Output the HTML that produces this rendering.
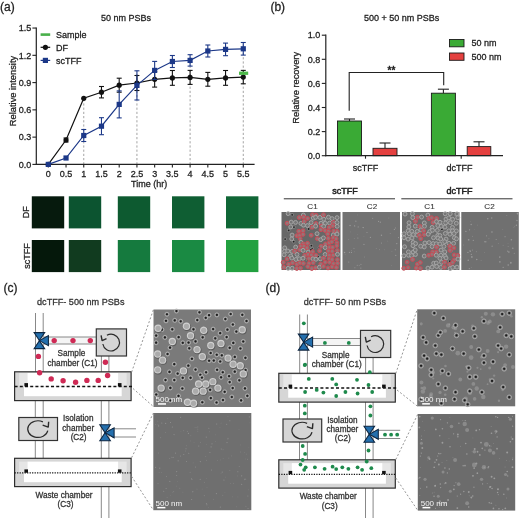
<!DOCTYPE html>
<html><head><meta charset="utf-8"><style>
html,body{margin:0;padding:0;background:#fff;}
svg{display:block;}
</style></head><body>
<svg width="520" height="518" viewBox="0 0 520 518" font-family="'Liberation Sans', Arial, sans-serif">
<rect x="0" y="0" width="520" height="518" fill="#ffffff"/>
<text x="0.00" y="10.70" font-size="12" text-anchor="start" fill="#222" stroke="#222" stroke-width="0.28" >(a)</text>
<text x="126.00" y="21.30" font-size="9" text-anchor="middle" fill="#222" stroke="#222" stroke-width="0.28" >50 nm PSBs</text>
<line x1="83.75" y1="164.40" x2="83.75" y2="98.30" stroke="#9a9a9a" stroke-width="0.9" stroke-dasharray="2.2,2"/>
<line x1="136.93" y1="164.40" x2="136.93" y2="72.00" stroke="#9a9a9a" stroke-width="0.9" stroke-dasharray="2.2,2"/>
<line x1="190.10" y1="164.40" x2="190.10" y2="56.00" stroke="#9a9a9a" stroke-width="0.9" stroke-dasharray="2.2,2"/>
<line x1="243.28" y1="164.40" x2="243.28" y2="43.00" stroke="#9a9a9a" stroke-width="0.9" stroke-dasharray="2.2,2"/>
<line x1="36.30" y1="27.50" x2="36.30" y2="164.90" stroke="#222" stroke-width="1.2" />
<line x1="35.70" y1="164.40" x2="254.60" y2="164.40" stroke="#222" stroke-width="1.2" />
<line x1="32.40" y1="164.40" x2="36.30" y2="164.40" stroke="#222" stroke-width="1.1" />
<text x="31.20" y="167.60" font-size="9" text-anchor="end" fill="#222" stroke="#222" stroke-width="0.28" >0.0</text>
<line x1="32.40" y1="137.13" x2="36.30" y2="137.13" stroke="#222" stroke-width="1.1" />
<text x="31.20" y="140.33" font-size="9" text-anchor="end" fill="#222" stroke="#222" stroke-width="0.28" >0.3</text>
<line x1="32.40" y1="109.86" x2="36.30" y2="109.86" stroke="#222" stroke-width="1.1" />
<text x="31.20" y="113.06" font-size="9" text-anchor="end" fill="#222" stroke="#222" stroke-width="0.28" >0.6</text>
<line x1="32.40" y1="82.59" x2="36.30" y2="82.59" stroke="#222" stroke-width="1.1" />
<text x="31.20" y="85.79" font-size="9" text-anchor="end" fill="#222" stroke="#222" stroke-width="0.28" >0.9</text>
<line x1="32.40" y1="55.32" x2="36.30" y2="55.32" stroke="#222" stroke-width="1.1" />
<text x="31.20" y="58.52" font-size="9" text-anchor="end" fill="#222" stroke="#222" stroke-width="0.28" >1.2</text>
<line x1="32.40" y1="28.05" x2="36.30" y2="28.05" stroke="#222" stroke-width="1.1" />
<text x="31.20" y="31.25" font-size="9" text-anchor="end" fill="#222" stroke="#222" stroke-width="0.28" >1.5</text>
<line x1="48.30" y1="164.40" x2="48.30" y2="167.60" stroke="#222" stroke-width="1.1" />
<text x="48.30" y="176.70" font-size="9" text-anchor="middle" fill="#222" stroke="#222" stroke-width="0.28" >0</text>
<line x1="66.03" y1="164.40" x2="66.03" y2="167.60" stroke="#222" stroke-width="1.1" />
<text x="66.03" y="176.70" font-size="9" text-anchor="middle" fill="#222" stroke="#222" stroke-width="0.28" >0.5</text>
<line x1="83.75" y1="164.40" x2="83.75" y2="167.60" stroke="#222" stroke-width="1.1" />
<text x="83.75" y="176.70" font-size="9" text-anchor="middle" fill="#222" stroke="#222" stroke-width="0.28" >1</text>
<line x1="101.47" y1="164.40" x2="101.47" y2="167.60" stroke="#222" stroke-width="1.1" />
<text x="101.47" y="176.70" font-size="9" text-anchor="middle" fill="#222" stroke="#222" stroke-width="0.28" >1.5</text>
<line x1="119.20" y1="164.40" x2="119.20" y2="167.60" stroke="#222" stroke-width="1.1" />
<text x="119.20" y="176.70" font-size="9" text-anchor="middle" fill="#222" stroke="#222" stroke-width="0.28" >2</text>
<line x1="136.93" y1="164.40" x2="136.93" y2="167.60" stroke="#222" stroke-width="1.1" />
<text x="136.93" y="176.70" font-size="9" text-anchor="middle" fill="#222" stroke="#222" stroke-width="0.28" >2.5</text>
<line x1="154.65" y1="164.40" x2="154.65" y2="167.60" stroke="#222" stroke-width="1.1" />
<text x="154.65" y="176.70" font-size="9" text-anchor="middle" fill="#222" stroke="#222" stroke-width="0.28" >3</text>
<line x1="172.38" y1="164.40" x2="172.38" y2="167.60" stroke="#222" stroke-width="1.1" />
<text x="172.38" y="176.70" font-size="9" text-anchor="middle" fill="#222" stroke="#222" stroke-width="0.28" >3.5</text>
<line x1="190.10" y1="164.40" x2="190.10" y2="167.60" stroke="#222" stroke-width="1.1" />
<text x="190.10" y="176.70" font-size="9" text-anchor="middle" fill="#222" stroke="#222" stroke-width="0.28" >4</text>
<line x1="207.82" y1="164.40" x2="207.82" y2="167.60" stroke="#222" stroke-width="1.1" />
<text x="207.82" y="176.70" font-size="9" text-anchor="middle" fill="#222" stroke="#222" stroke-width="0.28" >4.5</text>
<line x1="225.55" y1="164.40" x2="225.55" y2="167.60" stroke="#222" stroke-width="1.1" />
<text x="225.55" y="176.70" font-size="9" text-anchor="middle" fill="#222" stroke="#222" stroke-width="0.28" >5</text>
<line x1="243.28" y1="164.40" x2="243.28" y2="167.60" stroke="#222" stroke-width="1.1" />
<text x="243.28" y="176.70" font-size="9" text-anchor="middle" fill="#222" stroke="#222" stroke-width="0.28" >5.5</text>
<text x="149.20" y="186.90" font-size="9" text-anchor="middle" fill="#222" stroke="#222" stroke-width="0.28" >Time (hr)</text>
<text x="16.20" y="91.00" font-size="9.3" text-anchor="middle" fill="#222" stroke="#222" stroke-width="0.28" transform="rotate(-90 16.2 91)">Relative intensity</text>
<polyline points="48.30,164.40 66.03,140.00 83.75,98.30 101.47,92.20 119.20,85.20 136.93,83.00 154.65,79.30 172.38,77.90 190.10,77.40 207.82,79.30 225.55,77.90 243.28,77.10" fill="none" stroke="#111" stroke-width="1.2"/>
<line x1="66.03" y1="138.00" x2="66.03" y2="142.00" stroke="#111" stroke-width="1.1" />
<line x1="63.53" y1="138.00" x2="68.53" y2="138.00" stroke="#111" stroke-width="1.1" />
<line x1="63.53" y1="142.00" x2="68.53" y2="142.00" stroke="#111" stroke-width="1.1" />
<line x1="101.47" y1="86.50" x2="101.47" y2="97.90" stroke="#111" stroke-width="1.1" />
<line x1="98.97" y1="86.50" x2="103.97" y2="86.50" stroke="#111" stroke-width="1.1" />
<line x1="98.97" y1="97.90" x2="103.97" y2="97.90" stroke="#111" stroke-width="1.1" />
<line x1="119.20" y1="78.20" x2="119.20" y2="92.20" stroke="#111" stroke-width="1.1" />
<line x1="116.70" y1="78.20" x2="121.70" y2="78.20" stroke="#111" stroke-width="1.1" />
<line x1="116.70" y1="92.20" x2="121.70" y2="92.20" stroke="#111" stroke-width="1.1" />
<line x1="136.93" y1="75.50" x2="136.93" y2="90.50" stroke="#111" stroke-width="1.1" />
<line x1="134.43" y1="75.50" x2="139.43" y2="75.50" stroke="#111" stroke-width="1.1" />
<line x1="134.43" y1="90.50" x2="139.43" y2="90.50" stroke="#111" stroke-width="1.1" />
<line x1="154.65" y1="71.50" x2="154.65" y2="87.10" stroke="#111" stroke-width="1.1" />
<line x1="152.15" y1="71.50" x2="157.15" y2="71.50" stroke="#111" stroke-width="1.1" />
<line x1="152.15" y1="87.10" x2="157.15" y2="87.10" stroke="#111" stroke-width="1.1" />
<line x1="172.38" y1="70.50" x2="172.38" y2="85.30" stroke="#111" stroke-width="1.1" />
<line x1="169.88" y1="70.50" x2="174.88" y2="70.50" stroke="#111" stroke-width="1.1" />
<line x1="169.88" y1="85.30" x2="174.88" y2="85.30" stroke="#111" stroke-width="1.1" />
<line x1="190.10" y1="70.40" x2="190.10" y2="84.40" stroke="#111" stroke-width="1.1" />
<line x1="187.60" y1="70.40" x2="192.60" y2="70.40" stroke="#111" stroke-width="1.1" />
<line x1="187.60" y1="84.40" x2="192.60" y2="84.40" stroke="#111" stroke-width="1.1" />
<line x1="207.82" y1="72.40" x2="207.82" y2="86.20" stroke="#111" stroke-width="1.1" />
<line x1="205.32" y1="72.40" x2="210.32" y2="72.40" stroke="#111" stroke-width="1.1" />
<line x1="205.32" y1="86.20" x2="210.32" y2="86.20" stroke="#111" stroke-width="1.1" />
<line x1="225.55" y1="70.50" x2="225.55" y2="85.30" stroke="#111" stroke-width="1.1" />
<line x1="223.05" y1="70.50" x2="228.05" y2="70.50" stroke="#111" stroke-width="1.1" />
<line x1="223.05" y1="85.30" x2="228.05" y2="85.30" stroke="#111" stroke-width="1.1" />
<line x1="243.28" y1="70.40" x2="243.28" y2="83.80" stroke="#111" stroke-width="1.1" />
<line x1="240.78" y1="70.40" x2="245.78" y2="70.40" stroke="#111" stroke-width="1.1" />
<line x1="240.78" y1="83.80" x2="245.78" y2="83.80" stroke="#111" stroke-width="1.1" />
<circle cx="48.30" cy="164.40" r="2.60" fill="#111" stroke="none" stroke-width="1" />
<circle cx="66.03" cy="140.00" r="2.60" fill="#111" stroke="none" stroke-width="1" />
<circle cx="83.75" cy="98.30" r="2.60" fill="#111" stroke="none" stroke-width="1" />
<circle cx="101.47" cy="92.20" r="2.60" fill="#111" stroke="none" stroke-width="1" />
<circle cx="119.20" cy="85.20" r="2.60" fill="#111" stroke="none" stroke-width="1" />
<circle cx="136.93" cy="83.00" r="2.60" fill="#111" stroke="none" stroke-width="1" />
<circle cx="154.65" cy="79.30" r="2.60" fill="#111" stroke="none" stroke-width="1" />
<circle cx="172.38" cy="77.90" r="2.60" fill="#111" stroke="none" stroke-width="1" />
<circle cx="190.10" cy="77.40" r="2.60" fill="#111" stroke="none" stroke-width="1" />
<circle cx="207.82" cy="79.30" r="2.60" fill="#111" stroke="none" stroke-width="1" />
<circle cx="225.55" cy="77.90" r="2.60" fill="#111" stroke="none" stroke-width="1" />
<circle cx="243.28" cy="77.10" r="2.60" fill="#111" stroke="none" stroke-width="1" />
<polyline points="48.30,164.40 66.03,158.00 83.75,135.50 101.47,126.20 119.20,104.40 136.93,85.40 154.65,70.40 172.38,61.50 190.10,60.40 207.82,51.00 225.55,49.40 243.28,48.80" fill="none" stroke="#1c3888" stroke-width="1.2"/>
<line x1="83.75" y1="129.50" x2="83.75" y2="141.50" stroke="#1c3888" stroke-width="1.1" />
<line x1="81.25" y1="129.50" x2="86.25" y2="129.50" stroke="#1c3888" stroke-width="1.1" />
<line x1="81.25" y1="141.50" x2="86.25" y2="141.50" stroke="#1c3888" stroke-width="1.1" />
<line x1="101.47" y1="117.70" x2="101.47" y2="134.70" stroke="#1c3888" stroke-width="1.1" />
<line x1="98.97" y1="117.70" x2="103.97" y2="117.70" stroke="#1c3888" stroke-width="1.1" />
<line x1="98.97" y1="134.70" x2="103.97" y2="134.70" stroke="#1c3888" stroke-width="1.1" />
<line x1="119.20" y1="90.90" x2="119.20" y2="117.90" stroke="#1c3888" stroke-width="1.1" />
<line x1="116.70" y1="90.90" x2="121.70" y2="90.90" stroke="#1c3888" stroke-width="1.1" />
<line x1="116.70" y1="117.90" x2="121.70" y2="117.90" stroke="#1c3888" stroke-width="1.1" />
<line x1="136.93" y1="70.80" x2="136.93" y2="100.00" stroke="#1c3888" stroke-width="1.1" />
<line x1="134.43" y1="70.80" x2="139.43" y2="70.80" stroke="#1c3888" stroke-width="1.1" />
<line x1="134.43" y1="100.00" x2="139.43" y2="100.00" stroke="#1c3888" stroke-width="1.1" />
<line x1="154.65" y1="61.40" x2="154.65" y2="79.40" stroke="#1c3888" stroke-width="1.1" />
<line x1="152.15" y1="61.40" x2="157.15" y2="61.40" stroke="#1c3888" stroke-width="1.1" />
<line x1="152.15" y1="79.40" x2="157.15" y2="79.40" stroke="#1c3888" stroke-width="1.1" />
<line x1="172.38" y1="55.50" x2="172.38" y2="67.50" stroke="#1c3888" stroke-width="1.1" />
<line x1="169.88" y1="55.50" x2="174.88" y2="55.50" stroke="#1c3888" stroke-width="1.1" />
<line x1="169.88" y1="67.50" x2="174.88" y2="67.50" stroke="#1c3888" stroke-width="1.1" />
<line x1="190.10" y1="54.70" x2="190.10" y2="66.10" stroke="#1c3888" stroke-width="1.1" />
<line x1="187.60" y1="54.70" x2="192.60" y2="54.70" stroke="#1c3888" stroke-width="1.1" />
<line x1="187.60" y1="66.10" x2="192.60" y2="66.10" stroke="#1c3888" stroke-width="1.1" />
<line x1="207.82" y1="45.00" x2="207.82" y2="57.00" stroke="#1c3888" stroke-width="1.1" />
<line x1="205.32" y1="45.00" x2="210.32" y2="45.00" stroke="#1c3888" stroke-width="1.1" />
<line x1="205.32" y1="57.00" x2="210.32" y2="57.00" stroke="#1c3888" stroke-width="1.1" />
<line x1="225.55" y1="43.10" x2="225.55" y2="55.70" stroke="#1c3888" stroke-width="1.1" />
<line x1="223.05" y1="43.10" x2="228.05" y2="43.10" stroke="#1c3888" stroke-width="1.1" />
<line x1="223.05" y1="55.70" x2="228.05" y2="55.70" stroke="#1c3888" stroke-width="1.1" />
<line x1="243.28" y1="42.50" x2="243.28" y2="55.10" stroke="#1c3888" stroke-width="1.1" />
<line x1="240.78" y1="42.50" x2="245.78" y2="42.50" stroke="#1c3888" stroke-width="1.1" />
<line x1="240.78" y1="55.10" x2="245.78" y2="55.10" stroke="#1c3888" stroke-width="1.1" />
<rect x="45.70" y="161.80" width="5.20" height="5.20" fill="#1c3888" stroke="none" stroke-width="1" />
<rect x="63.43" y="155.40" width="5.20" height="5.20" fill="#1c3888" stroke="none" stroke-width="1" />
<rect x="81.15" y="132.90" width="5.20" height="5.20" fill="#1c3888" stroke="none" stroke-width="1" />
<rect x="98.88" y="123.60" width="5.20" height="5.20" fill="#1c3888" stroke="none" stroke-width="1" />
<rect x="116.60" y="101.80" width="5.20" height="5.20" fill="#1c3888" stroke="none" stroke-width="1" />
<rect x="134.33" y="82.80" width="5.20" height="5.20" fill="#1c3888" stroke="none" stroke-width="1" />
<rect x="152.05" y="67.80" width="5.20" height="5.20" fill="#1c3888" stroke="none" stroke-width="1" />
<rect x="169.78" y="58.90" width="5.20" height="5.20" fill="#1c3888" stroke="none" stroke-width="1" />
<rect x="187.50" y="57.80" width="5.20" height="5.20" fill="#1c3888" stroke="none" stroke-width="1" />
<rect x="205.22" y="48.40" width="5.20" height="5.20" fill="#1c3888" stroke="none" stroke-width="1" />
<rect x="222.95" y="46.80" width="5.20" height="5.20" fill="#1c3888" stroke="none" stroke-width="1" />
<rect x="240.68" y="46.20" width="5.20" height="5.20" fill="#1c3888" stroke="none" stroke-width="1" />
<rect x="239.00" y="71.60" width="9.20" height="3.30" fill="#4cb84a" stroke="none" stroke-width="1" />
<rect x="40.60" y="33.30" width="9.60" height="2.60" fill="#49b04a" stroke="none" stroke-width="1" />
<text x="56.00" y="38.40" font-size="9" text-anchor="start" fill="#222" stroke="#222" stroke-width="0.28" >Sample</text>
<line x1="40.60" y1="47.30" x2="50.20" y2="47.30" stroke="#111" stroke-width="1.2" />
<circle cx="45.40" cy="47.30" r="2.60" fill="#111" stroke="none" stroke-width="1" />
<text x="56.00" y="50.60" font-size="9" text-anchor="start" fill="#222" stroke="#222" stroke-width="0.28" >DF</text>
<line x1="40.60" y1="60.40" x2="50.20" y2="60.40" stroke="#1c3888" stroke-width="1.2" />
<rect x="42.80" y="57.80" width="5.20" height="5.20" fill="#1c3888" stroke="none" stroke-width="1" />
<text x="56.00" y="63.70" font-size="9" text-anchor="start" fill="#222" stroke="#222" stroke-width="0.28" >scTFF</text>
<rect x="31.80" y="196.30" width="32.40" height="32.10" fill="#061a0d" stroke="none" stroke-width="1" />
<rect x="68.80" y="196.30" width="32.40" height="32.10" fill="#0c5430" stroke="none" stroke-width="1" />
<rect x="117.80" y="196.30" width="32.40" height="32.10" fill="#0d5a30" stroke="none" stroke-width="1" />
<rect x="172.00" y="196.30" width="32.40" height="32.10" fill="#0f5e33" stroke="none" stroke-width="1" />
<rect x="226.00" y="196.30" width="32.40" height="32.10" fill="#106636" stroke="none" stroke-width="1" />
<rect x="31.80" y="240.00" width="32.40" height="32.10" fill="#05180b" stroke="none" stroke-width="1" />
<rect x="68.80" y="240.00" width="32.40" height="32.10" fill="#113b1f" stroke="none" stroke-width="1" />
<rect x="117.80" y="240.00" width="32.40" height="32.10" fill="#157a3e" stroke="none" stroke-width="1" />
<rect x="172.00" y="240.00" width="32.40" height="32.10" fill="#1a8a43" stroke="none" stroke-width="1" />
<rect x="226.00" y="240.00" width="32.40" height="32.10" fill="#22a040" stroke="none" stroke-width="1" />
<text x="29.50" y="212.30" font-size="9" text-anchor="middle" fill="#222" stroke="#222" stroke-width="0.28" transform="rotate(-90 29.5 212.3)">DF</text>
<text x="29.50" y="256.00" font-size="9" text-anchor="middle" fill="#222" stroke="#222" stroke-width="0.28" transform="rotate(-90 29.5 256)">scTFF</text>
<text x="270.40" y="10.70" font-size="12" text-anchor="start" fill="#222" stroke="#222" stroke-width="0.28" >(b)</text>
<text x="401.60" y="20.50" font-size="9" text-anchor="middle" fill="#222" stroke="#222" stroke-width="0.28" >500 + 50 nm PSBs</text>
<line x1="349.50" y1="121.00" x2="349.50" y2="119.00" stroke="#222" stroke-width="1.1" />
<line x1="344.00" y1="119.00" x2="355.00" y2="119.00" stroke="#222" stroke-width="1.1" />
<rect x="337.50" y="121.00" width="24.00" height="34.70" fill="#3aaa35" stroke="#1a1a1a" stroke-width="0.9" />
<line x1="385.00" y1="148.30" x2="385.00" y2="143.00" stroke="#222" stroke-width="1.1" />
<line x1="379.50" y1="143.00" x2="390.50" y2="143.00" stroke="#222" stroke-width="1.1" />
<rect x="373.00" y="148.30" width="24.00" height="7.40" fill="#e4403f" stroke="#1a1a1a" stroke-width="0.9" />
<line x1="443.40" y1="93.20" x2="443.40" y2="89.20" stroke="#222" stroke-width="1.1" />
<line x1="437.90" y1="89.20" x2="448.90" y2="89.20" stroke="#222" stroke-width="1.1" />
<rect x="431.40" y="93.20" width="24.00" height="62.50" fill="#3aaa35" stroke="#1a1a1a" stroke-width="0.9" />
<line x1="479.00" y1="146.60" x2="479.00" y2="141.80" stroke="#222" stroke-width="1.1" />
<line x1="473.50" y1="141.80" x2="484.50" y2="141.80" stroke="#222" stroke-width="1.1" />
<rect x="467.20" y="146.60" width="23.60" height="9.10" fill="#e4403f" stroke="#1a1a1a" stroke-width="0.9" />
<line x1="325.80" y1="34.50" x2="325.80" y2="156.20" stroke="#222" stroke-width="1.2" />
<line x1="325.20" y1="155.70" x2="503.00" y2="155.70" stroke="#222" stroke-width="1.2" />
<line x1="321.80" y1="155.70" x2="325.80" y2="155.70" stroke="#222" stroke-width="1.1" />
<text x="320.30" y="158.90" font-size="9" text-anchor="end" fill="#222" stroke="#222" stroke-width="0.28" >0.0</text>
<line x1="321.80" y1="131.60" x2="325.80" y2="131.60" stroke="#222" stroke-width="1.1" />
<text x="320.30" y="134.80" font-size="9" text-anchor="end" fill="#222" stroke="#222" stroke-width="0.28" >0.2</text>
<line x1="321.80" y1="107.50" x2="325.80" y2="107.50" stroke="#222" stroke-width="1.1" />
<text x="320.30" y="110.70" font-size="9" text-anchor="end" fill="#222" stroke="#222" stroke-width="0.28" >0.4</text>
<line x1="321.80" y1="83.40" x2="325.80" y2="83.40" stroke="#222" stroke-width="1.1" />
<text x="320.30" y="86.60" font-size="9" text-anchor="end" fill="#222" stroke="#222" stroke-width="0.28" >0.6</text>
<line x1="321.80" y1="59.30" x2="325.80" y2="59.30" stroke="#222" stroke-width="1.1" />
<text x="320.30" y="62.50" font-size="9" text-anchor="end" fill="#222" stroke="#222" stroke-width="0.28" >0.8</text>
<line x1="321.80" y1="35.20" x2="325.80" y2="35.20" stroke="#222" stroke-width="1.1" />
<text x="320.30" y="38.40" font-size="9" text-anchor="end" fill="#222" stroke="#222" stroke-width="0.28" >1.0</text>
<line x1="365.50" y1="155.70" x2="365.50" y2="158.70" stroke="#222" stroke-width="1.1" />
<line x1="461.20" y1="155.70" x2="461.20" y2="158.70" stroke="#222" stroke-width="1.1" />
<text x="365.50" y="170.80" font-size="9" text-anchor="middle" fill="#222" stroke="#222" stroke-width="0.28" >scTFF</text>
<text x="459.50" y="170.80" font-size="9" text-anchor="middle" fill="#222" stroke="#222" stroke-width="0.28" >dcTFF</text>
<text x="299.30" y="87.80" font-size="9.3" text-anchor="middle" fill="#222" stroke="#222" stroke-width="0.28" transform="rotate(-90 299.3 87.8)">Relative recovery</text>
<polyline points="349.2,110.8 349.2,72.5 443.7,72.5 443.7,85.2" fill="none" stroke="#222" stroke-width="1.1"/>
<text x="391.40" y="73.50" font-size="10" text-anchor="middle" fill="#222" stroke="#222" stroke-width="0.28" font-weight="bold">**</text>
<rect x="449.50" y="39.50" width="14.50" height="7.30" fill="#3aaa35" stroke="#1a1a1a" stroke-width="0.9" />
<text x="471.40" y="46.30" font-size="9" text-anchor="start" fill="#222" stroke="#222" stroke-width="0.28" >50 nm</text>
<rect x="449.50" y="53.00" width="14.50" height="7.30" fill="#e4403f" stroke="#1a1a1a" stroke-width="0.9" />
<text x="471.40" y="59.80" font-size="9" text-anchor="start" fill="#222" stroke="#222" stroke-width="0.28" >500 nm</text>
<text x="345.00" y="194.00" font-size="9" text-anchor="middle" fill="#222" stroke="#222" stroke-width="0.5">scTFF</text>
<text x="459.50" y="194.00" font-size="9" text-anchor="middle" fill="#222" stroke="#222" stroke-width="0.5">dcTFF</text>
<line x1="283.80" y1="198.80" x2="395.00" y2="198.80" stroke="#333" stroke-width="1" />
<line x1="401.30" y1="198.80" x2="512.50" y2="198.80" stroke="#333" stroke-width="1" />
<text x="312.50" y="209.30" font-size="8.1" text-anchor="middle" fill="#3a3a3a" stroke="#3a3a3a" stroke-width="0.12">C1</text>
<text x="372.00" y="209.30" font-size="8.1" text-anchor="middle" fill="#3a3a3a" stroke="#3a3a3a" stroke-width="0.12">C2</text>
<text x="429.50" y="209.30" font-size="8.1" text-anchor="middle" fill="#3a3a3a" stroke="#3a3a3a" stroke-width="0.12">C1</text>
<text x="489.50" y="209.30" font-size="8.1" text-anchor="middle" fill="#3a3a3a" stroke="#3a3a3a" stroke-width="0.12">C2</text>
<rect x="281.50" y="212.00" width="59.00" height="58.00" fill="#676767" stroke="none" stroke-width="1" />
<circle cx="308.38" cy="244.23" r="1.80" fill="#a0a0a0" stroke="none" stroke-width="1" opacity="0.5"/>
<circle cx="308.38" cy="244.23" r="0.90" fill="#202020" stroke="none" stroke-width="1" />
<circle cx="334.33" cy="239.15" r="1.80" fill="#a0a0a0" stroke="none" stroke-width="1" opacity="0.5"/>
<circle cx="334.33" cy="239.15" r="0.90" fill="#202020" stroke="none" stroke-width="1" />
<circle cx="311.43" cy="245.72" r="1.80" fill="#a0a0a0" stroke="none" stroke-width="1" opacity="0.5"/>
<circle cx="311.43" cy="245.72" r="0.90" fill="#202020" stroke="none" stroke-width="1" />
<circle cx="293.66" cy="241.64" r="1.80" fill="#a0a0a0" stroke="none" stroke-width="1" opacity="0.5"/>
<circle cx="293.66" cy="241.64" r="0.90" fill="#202020" stroke="none" stroke-width="1" />
<circle cx="318.14" cy="256.82" r="1.80" fill="#a0a0a0" stroke="none" stroke-width="1" opacity="0.5"/>
<circle cx="318.14" cy="256.82" r="0.90" fill="#202020" stroke="none" stroke-width="1" />
<circle cx="288.68" cy="230.38" r="1.80" fill="#a0a0a0" stroke="none" stroke-width="1" opacity="0.5"/>
<circle cx="288.68" cy="230.38" r="0.90" fill="#202020" stroke="none" stroke-width="1" />
<circle cx="288.49" cy="257.72" r="1.80" fill="#a0a0a0" stroke="none" stroke-width="1" opacity="0.5"/>
<circle cx="288.49" cy="257.72" r="0.90" fill="#202020" stroke="none" stroke-width="1" />
<circle cx="321.64" cy="216.26" r="1.80" fill="#a0a0a0" stroke="none" stroke-width="1" opacity="0.5"/>
<circle cx="321.64" cy="216.26" r="0.90" fill="#202020" stroke="none" stroke-width="1" />
<circle cx="337.52" cy="266.10" r="1.80" fill="#a0a0a0" stroke="none" stroke-width="1" opacity="0.5"/>
<circle cx="337.52" cy="266.10" r="0.90" fill="#202020" stroke="none" stroke-width="1" />
<circle cx="319.47" cy="247.24" r="1.80" fill="#a0a0a0" stroke="none" stroke-width="1" opacity="0.5"/>
<circle cx="319.47" cy="247.24" r="0.90" fill="#202020" stroke="none" stroke-width="1" />
<circle cx="292.16" cy="214.81" r="1.80" fill="#a0a0a0" stroke="none" stroke-width="1" opacity="0.5"/>
<circle cx="292.16" cy="214.81" r="0.90" fill="#202020" stroke="none" stroke-width="1" />
<circle cx="312.56" cy="217.22" r="1.80" fill="#a0a0a0" stroke="none" stroke-width="1" opacity="0.5"/>
<circle cx="312.56" cy="217.22" r="0.90" fill="#202020" stroke="none" stroke-width="1" />
<circle cx="293.96" cy="227.06" r="1.80" fill="#a0a0a0" stroke="none" stroke-width="1" opacity="0.5"/>
<circle cx="293.96" cy="227.06" r="0.90" fill="#202020" stroke="none" stroke-width="1" />
<circle cx="285.15" cy="239.05" r="1.80" fill="#a0a0a0" stroke="none" stroke-width="1" opacity="0.5"/>
<circle cx="285.15" cy="239.05" r="0.90" fill="#202020" stroke="none" stroke-width="1" />
<circle cx="307.73" cy="259.49" r="1.80" fill="#a0a0a0" stroke="none" stroke-width="1" opacity="0.5"/>
<circle cx="307.73" cy="259.49" r="0.90" fill="#202020" stroke="none" stroke-width="1" />
<circle cx="312.05" cy="248.58" r="1.80" fill="#a0a0a0" stroke="none" stroke-width="1" opacity="0.5"/>
<circle cx="312.05" cy="248.58" r="0.90" fill="#202020" stroke="none" stroke-width="1" />
<circle cx="310.99" cy="249.77" r="1.80" fill="#a0a0a0" stroke="none" stroke-width="1" opacity="0.5"/>
<circle cx="310.99" cy="249.77" r="0.90" fill="#202020" stroke="none" stroke-width="1" />
<circle cx="308.65" cy="229.02" r="1.80" fill="#a0a0a0" stroke="none" stroke-width="1" opacity="0.5"/>
<circle cx="308.65" cy="229.02" r="0.90" fill="#202020" stroke="none" stroke-width="1" />
<circle cx="288.15" cy="213.61" r="1.95" fill="#777777" stroke="#a6a6a6" stroke-width="0.95" />
<circle cx="303.35" cy="215.03" r="1.95" fill="#777777" stroke="#a6a6a6" stroke-width="0.95" />
<circle cx="312.56" cy="214.72" r="1.95" fill="#957678" stroke="#cb4a56" stroke-width="1.0" />
<circle cx="315.95" cy="215.16" r="1.95" fill="#957678" stroke="#cb4a56" stroke-width="1.0" />
<circle cx="323.49" cy="214.76" r="1.95" fill="#957678" stroke="#cb4a56" stroke-width="1.0" />
<circle cx="299.26" cy="217.57" r="1.95" fill="#957678" stroke="#cb4a56" stroke-width="1.0" />
<circle cx="303.56" cy="217.13" r="1.95" fill="#957678" stroke="#cb4a56" stroke-width="1.0" />
<circle cx="307.53" cy="218.39" r="1.95" fill="#957678" stroke="#cb4a56" stroke-width="1.0" />
<circle cx="313.35" cy="218.11" r="1.95" fill="#777777" stroke="#a6a6a6" stroke-width="0.95" />
<circle cx="315.59" cy="217.32" r="1.95" fill="#777777" stroke="#a6a6a6" stroke-width="0.95" />
<circle cx="319.85" cy="217.41" r="1.95" fill="#777777" stroke="#a6a6a6" stroke-width="0.95" />
<circle cx="323.82" cy="219.23" r="1.95" fill="#777777" stroke="#a6a6a6" stroke-width="0.95" />
<circle cx="328.46" cy="217.20" r="1.95" fill="#777777" stroke="#a6a6a6" stroke-width="0.95" />
<circle cx="332.12" cy="218.64" r="1.95" fill="#777777" stroke="#a6a6a6" stroke-width="0.95" />
<circle cx="337.08" cy="217.65" r="1.95" fill="#777777" stroke="#a6a6a6" stroke-width="0.95" />
<circle cx="287.12" cy="223.25" r="1.95" fill="#957678" stroke="#cb4a56" stroke-width="1.0" />
<circle cx="291.20" cy="222.12" r="1.95" fill="#777777" stroke="#a6a6a6" stroke-width="0.95" />
<circle cx="295.54" cy="222.42" r="1.95" fill="#777777" stroke="#a6a6a6" stroke-width="0.95" />
<circle cx="300.89" cy="223.40" r="1.95" fill="#777777" stroke="#a6a6a6" stroke-width="0.95" />
<circle cx="304.25" cy="221.39" r="1.95" fill="#957678" stroke="#cb4a56" stroke-width="1.0" />
<circle cx="311.10" cy="222.58" r="1.95" fill="#777777" stroke="#a6a6a6" stroke-width="0.95" />
<circle cx="315.92" cy="223.45" r="1.95" fill="#957678" stroke="#cb4a56" stroke-width="1.0" />
<circle cx="321.02" cy="223.21" r="1.95" fill="#777777" stroke="#a6a6a6" stroke-width="0.95" />
<circle cx="325.25" cy="223.25" r="1.95" fill="#777777" stroke="#a6a6a6" stroke-width="0.95" />
<circle cx="329.61" cy="223.14" r="1.95" fill="#777777" stroke="#a6a6a6" stroke-width="0.95" />
<circle cx="333.62" cy="222.42" r="1.95" fill="#957678" stroke="#cb4a56" stroke-width="1.0" />
<circle cx="337.05" cy="222.51" r="1.95" fill="#777777" stroke="#a6a6a6" stroke-width="0.95" />
<circle cx="290.75" cy="226.95" r="1.95" fill="#777777" stroke="#a6a6a6" stroke-width="0.95" />
<circle cx="303.46" cy="225.18" r="1.95" fill="#777777" stroke="#a6a6a6" stroke-width="0.95" />
<circle cx="307.44" cy="225.56" r="1.95" fill="#777777" stroke="#a6a6a6" stroke-width="0.95" />
<circle cx="312.11" cy="227.29" r="1.95" fill="#957678" stroke="#cb4a56" stroke-width="1.0" />
<circle cx="315.63" cy="226.18" r="1.95" fill="#777777" stroke="#a6a6a6" stroke-width="0.95" />
<circle cx="321.36" cy="226.07" r="1.95" fill="#957678" stroke="#cb4a56" stroke-width="1.0" />
<circle cx="323.68" cy="226.34" r="1.95" fill="#777777" stroke="#a6a6a6" stroke-width="0.95" />
<circle cx="329.16" cy="227.43" r="1.95" fill="#957678" stroke="#cb4a56" stroke-width="1.0" />
<circle cx="332.63" cy="225.81" r="1.95" fill="#957678" stroke="#cb4a56" stroke-width="1.0" />
<circle cx="337.15" cy="226.34" r="1.95" fill="#777777" stroke="#a6a6a6" stroke-width="0.95" />
<circle cx="298.81" cy="231.24" r="1.95" fill="#957678" stroke="#cb4a56" stroke-width="1.0" />
<circle cx="302.96" cy="230.76" r="1.95" fill="#957678" stroke="#cb4a56" stroke-width="1.0" />
<circle cx="320.96" cy="229.68" r="1.95" fill="#957678" stroke="#cb4a56" stroke-width="1.0" />
<circle cx="325.02" cy="230.50" r="1.95" fill="#957678" stroke="#cb4a56" stroke-width="1.0" />
<circle cx="328.39" cy="231.15" r="1.95" fill="#957678" stroke="#cb4a56" stroke-width="1.0" />
<circle cx="333.79" cy="230.98" r="1.95" fill="#957678" stroke="#cb4a56" stroke-width="1.0" />
<circle cx="337.15" cy="231.43" r="1.95" fill="#957678" stroke="#cb4a56" stroke-width="1.0" />
<circle cx="292.09" cy="235.07" r="1.95" fill="#777777" stroke="#a6a6a6" stroke-width="0.95" />
<circle cx="297.00" cy="235.70" r="1.95" fill="#957678" stroke="#cb4a56" stroke-width="1.0" />
<circle cx="299.52" cy="235.53" r="1.95" fill="#957678" stroke="#cb4a56" stroke-width="1.0" />
<circle cx="303.05" cy="234.41" r="1.95" fill="#957678" stroke="#cb4a56" stroke-width="1.0" />
<circle cx="311.20" cy="235.27" r="1.95" fill="#957678" stroke="#cb4a56" stroke-width="1.0" />
<circle cx="317.04" cy="233.69" r="1.95" fill="#777777" stroke="#a6a6a6" stroke-width="0.95" />
<circle cx="327.66" cy="233.88" r="1.95" fill="#957678" stroke="#cb4a56" stroke-width="1.0" />
<circle cx="333.30" cy="234.88" r="1.95" fill="#777777" stroke="#a6a6a6" stroke-width="0.95" />
<circle cx="336.99" cy="234.10" r="1.95" fill="#777777" stroke="#a6a6a6" stroke-width="0.95" />
<circle cx="291.76" cy="238.90" r="1.95" fill="#777777" stroke="#a6a6a6" stroke-width="0.95" />
<circle cx="300.10" cy="238.63" r="1.95" fill="#957678" stroke="#cb4a56" stroke-width="1.0" />
<circle cx="317.31" cy="238.59" r="1.95" fill="#957678" stroke="#cb4a56" stroke-width="1.0" />
<circle cx="320.73" cy="239.67" r="1.95" fill="#777777" stroke="#a6a6a6" stroke-width="0.95" />
<circle cx="323.40" cy="237.92" r="1.95" fill="#777777" stroke="#a6a6a6" stroke-width="0.95" />
<circle cx="328.22" cy="238.30" r="1.95" fill="#957678" stroke="#cb4a56" stroke-width="1.0" />
<circle cx="333.30" cy="237.74" r="1.95" fill="#957678" stroke="#cb4a56" stroke-width="1.0" />
<circle cx="336.12" cy="238.72" r="1.95" fill="#957678" stroke="#cb4a56" stroke-width="1.0" />
<circle cx="300.92" cy="242.31" r="1.95" fill="#777777" stroke="#a6a6a6" stroke-width="0.95" />
<circle cx="303.37" cy="243.95" r="1.95" fill="#957678" stroke="#cb4a56" stroke-width="1.0" />
<circle cx="307.52" cy="243.29" r="1.95" fill="#957678" stroke="#cb4a56" stroke-width="1.0" />
<circle cx="325.54" cy="243.87" r="1.95" fill="#957678" stroke="#cb4a56" stroke-width="1.0" />
<circle cx="329.27" cy="242.76" r="1.95" fill="#957678" stroke="#cb4a56" stroke-width="1.0" />
<circle cx="331.72" cy="241.80" r="1.95" fill="#957678" stroke="#cb4a56" stroke-width="1.0" />
<circle cx="336.89" cy="242.91" r="1.95" fill="#957678" stroke="#cb4a56" stroke-width="1.0" />
<circle cx="284.73" cy="247.87" r="1.95" fill="#777777" stroke="#a6a6a6" stroke-width="0.95" />
<circle cx="295.68" cy="247.09" r="1.95" fill="#777777" stroke="#a6a6a6" stroke-width="0.95" />
<circle cx="300.78" cy="246.09" r="1.95" fill="#957678" stroke="#cb4a56" stroke-width="1.0" />
<circle cx="303.82" cy="246.12" r="1.95" fill="#957678" stroke="#cb4a56" stroke-width="1.0" />
<circle cx="306.99" cy="247.79" r="1.95" fill="#957678" stroke="#cb4a56" stroke-width="1.0" />
<circle cx="321.18" cy="246.27" r="1.95" fill="#957678" stroke="#cb4a56" stroke-width="1.0" />
<circle cx="325.22" cy="247.61" r="1.95" fill="#777777" stroke="#a6a6a6" stroke-width="0.95" />
<circle cx="329.56" cy="247.32" r="1.95" fill="#957678" stroke="#cb4a56" stroke-width="1.0" />
<circle cx="332.52" cy="247.38" r="1.95" fill="#957678" stroke="#cb4a56" stroke-width="1.0" />
<circle cx="336.78" cy="245.68" r="1.95" fill="#957678" stroke="#cb4a56" stroke-width="1.0" />
<circle cx="284.62" cy="251.35" r="1.95" fill="#777777" stroke="#a6a6a6" stroke-width="0.95" />
<circle cx="287.82" cy="251.03" r="1.95" fill="#777777" stroke="#a6a6a6" stroke-width="0.95" />
<circle cx="292.09" cy="251.43" r="1.95" fill="#777777" stroke="#a6a6a6" stroke-width="0.95" />
<circle cx="294.70" cy="251.23" r="1.95" fill="#957678" stroke="#cb4a56" stroke-width="1.0" />
<circle cx="299.71" cy="249.87" r="1.95" fill="#957678" stroke="#cb4a56" stroke-width="1.0" />
<circle cx="303.09" cy="250.35" r="1.95" fill="#777777" stroke="#a6a6a6" stroke-width="0.95" />
<circle cx="308.17" cy="252.07" r="1.95" fill="#777777" stroke="#a6a6a6" stroke-width="0.95" />
<circle cx="312.58" cy="251.69" r="1.95" fill="#957678" stroke="#cb4a56" stroke-width="1.0" />
<circle cx="319.63" cy="250.88" r="1.95" fill="#957678" stroke="#cb4a56" stroke-width="1.0" />
<circle cx="328.46" cy="251.01" r="1.95" fill="#957678" stroke="#cb4a56" stroke-width="1.0" />
<circle cx="332.24" cy="251.32" r="1.95" fill="#957678" stroke="#cb4a56" stroke-width="1.0" />
<circle cx="337.37" cy="250.46" r="1.95" fill="#957678" stroke="#cb4a56" stroke-width="1.0" />
<circle cx="284.16" cy="254.79" r="1.95" fill="#777777" stroke="#a6a6a6" stroke-width="0.95" />
<circle cx="290.73" cy="256.02" r="1.95" fill="#777777" stroke="#a6a6a6" stroke-width="0.95" />
<circle cx="296.99" cy="254.43" r="1.95" fill="#777777" stroke="#a6a6a6" stroke-width="0.95" />
<circle cx="304.81" cy="255.30" r="1.95" fill="#957678" stroke="#cb4a56" stroke-width="1.0" />
<circle cx="308.04" cy="254.34" r="1.95" fill="#957678" stroke="#cb4a56" stroke-width="1.0" />
<circle cx="311.35" cy="254.91" r="1.95" fill="#957678" stroke="#cb4a56" stroke-width="1.0" />
<circle cx="315.78" cy="255.25" r="1.95" fill="#957678" stroke="#cb4a56" stroke-width="1.0" />
<circle cx="325.11" cy="254.42" r="1.95" fill="#777777" stroke="#a6a6a6" stroke-width="0.95" />
<circle cx="329.33" cy="255.35" r="1.95" fill="#957678" stroke="#cb4a56" stroke-width="1.0" />
<circle cx="333.19" cy="255.21" r="1.95" fill="#957678" stroke="#cb4a56" stroke-width="1.0" />
<circle cx="337.46" cy="254.31" r="1.95" fill="#777777" stroke="#a6a6a6" stroke-width="0.95" />
<circle cx="287.10" cy="258.97" r="1.95" fill="#957678" stroke="#cb4a56" stroke-width="1.0" />
<circle cx="291.85" cy="258.12" r="1.95" fill="#777777" stroke="#a6a6a6" stroke-width="0.95" />
<circle cx="295.97" cy="259.46" r="1.95" fill="#777777" stroke="#a6a6a6" stroke-width="0.95" />
<circle cx="299.26" cy="258.77" r="1.95" fill="#777777" stroke="#a6a6a6" stroke-width="0.95" />
<circle cx="303.03" cy="258.24" r="1.95" fill="#777777" stroke="#a6a6a6" stroke-width="0.95" />
<circle cx="308.80" cy="258.46" r="1.95" fill="#957678" stroke="#cb4a56" stroke-width="1.0" />
<circle cx="312.99" cy="258.84" r="1.95" fill="#777777" stroke="#a6a6a6" stroke-width="0.95" />
<circle cx="315.93" cy="259.27" r="1.95" fill="#777777" stroke="#a6a6a6" stroke-width="0.95" />
<circle cx="320.28" cy="258.84" r="1.95" fill="#777777" stroke="#a6a6a6" stroke-width="0.95" />
<circle cx="323.54" cy="258.15" r="1.95" fill="#957678" stroke="#cb4a56" stroke-width="1.0" />
<circle cx="329.09" cy="258.67" r="1.95" fill="#957678" stroke="#cb4a56" stroke-width="1.0" />
<circle cx="332.06" cy="259.54" r="1.95" fill="#957678" stroke="#cb4a56" stroke-width="1.0" />
<circle cx="337.39" cy="259.62" r="1.95" fill="#957678" stroke="#cb4a56" stroke-width="1.0" />
<circle cx="283.23" cy="262.33" r="1.95" fill="#957678" stroke="#cb4a56" stroke-width="1.0" />
<circle cx="288.65" cy="264.31" r="1.95" fill="#957678" stroke="#cb4a56" stroke-width="1.0" />
<circle cx="292.48" cy="262.78" r="1.95" fill="#957678" stroke="#cb4a56" stroke-width="1.0" />
<circle cx="296.89" cy="264.20" r="1.95" fill="#957678" stroke="#cb4a56" stroke-width="1.0" />
<circle cx="299.63" cy="262.92" r="1.95" fill="#957678" stroke="#cb4a56" stroke-width="1.0" />
<circle cx="303.32" cy="263.40" r="1.95" fill="#957678" stroke="#cb4a56" stroke-width="1.0" />
<circle cx="308.96" cy="263.40" r="1.95" fill="#957678" stroke="#cb4a56" stroke-width="1.0" />
<circle cx="313.16" cy="262.73" r="1.95" fill="#957678" stroke="#cb4a56" stroke-width="1.0" />
<circle cx="320.81" cy="263.98" r="1.95" fill="#957678" stroke="#cb4a56" stroke-width="1.0" />
<circle cx="325.24" cy="262.25" r="1.95" fill="#957678" stroke="#cb4a56" stroke-width="1.0" />
<circle cx="329.61" cy="262.25" r="1.95" fill="#957678" stroke="#cb4a56" stroke-width="1.0" />
<circle cx="333.34" cy="263.61" r="1.95" fill="#957678" stroke="#cb4a56" stroke-width="1.0" />
<circle cx="337.49" cy="263.30" r="1.95" fill="#957678" stroke="#cb4a56" stroke-width="1.0" />
<circle cx="283.96" cy="267.33" r="1.95" fill="#957678" stroke="#cb4a56" stroke-width="1.0" />
<circle cx="288.15" cy="268.35" r="1.95" fill="#777777" stroke="#a6a6a6" stroke-width="0.95" />
<circle cx="292.15" cy="268.20" r="1.95" fill="#777777" stroke="#a6a6a6" stroke-width="0.95" />
<circle cx="296.78" cy="268.45" r="1.95" fill="#957678" stroke="#cb4a56" stroke-width="1.0" />
<circle cx="300.45" cy="268.08" r="1.95" fill="#957678" stroke="#cb4a56" stroke-width="1.0" />
<circle cx="307.85" cy="266.55" r="1.95" fill="#957678" stroke="#cb4a56" stroke-width="1.0" />
<circle cx="311.75" cy="268.48" r="1.95" fill="#957678" stroke="#cb4a56" stroke-width="1.0" />
<circle cx="315.43" cy="267.71" r="1.95" fill="#957678" stroke="#cb4a56" stroke-width="1.0" />
<circle cx="319.40" cy="267.25" r="1.95" fill="#777777" stroke="#a6a6a6" stroke-width="0.95" />
<circle cx="323.44" cy="266.41" r="1.95" fill="#957678" stroke="#cb4a56" stroke-width="1.0" />
<circle cx="328.01" cy="267.87" r="1.95" fill="#957678" stroke="#cb4a56" stroke-width="1.0" />
<circle cx="331.99" cy="266.82" r="1.95" fill="#957678" stroke="#cb4a56" stroke-width="1.0" />
<circle cx="336.40" cy="267.47" r="1.95" fill="#957678" stroke="#cb4a56" stroke-width="1.0" />
<rect x="342.50" y="212.00" width="57.50" height="58.00" fill="#727272" stroke="none" stroke-width="1" />
<circle cx="349.43" cy="252.34" r="0.63" fill="#a8a8a8" stroke="none" stroke-width="1" opacity="0.7"/>
<circle cx="395.69" cy="228.18" r="0.43" fill="#a8a8a8" stroke="none" stroke-width="1" opacity="0.7"/>
<circle cx="384.24" cy="249.87" r="0.45" fill="#a8a8a8" stroke="none" stroke-width="1" opacity="0.7"/>
<circle cx="381.47" cy="235.21" r="0.69" fill="#a8a8a8" stroke="none" stroke-width="1" opacity="0.7"/>
<circle cx="350.07" cy="225.50" r="0.75" fill="#a8a8a8" stroke="none" stroke-width="1" opacity="0.7"/>
<circle cx="363.37" cy="227.58" r="0.70" fill="#a8a8a8" stroke="none" stroke-width="1" opacity="0.7"/>
<circle cx="378.56" cy="221.38" r="0.58" fill="#a8a8a8" stroke="none" stroke-width="1" opacity="0.7"/>
<circle cx="380.35" cy="222.24" r="0.63" fill="#a8a8a8" stroke="none" stroke-width="1" opacity="0.7"/>
<circle cx="350.33" cy="231.88" r="0.34" fill="#a8a8a8" stroke="none" stroke-width="1" opacity="0.7"/>
<circle cx="354.85" cy="267.77" r="0.50" fill="#a8a8a8" stroke="none" stroke-width="1" opacity="0.7"/>
<circle cx="398.47" cy="237.56" r="0.60" fill="#a8a8a8" stroke="none" stroke-width="1" opacity="0.7"/>
<circle cx="391.93" cy="251.47" r="0.36" fill="#a8a8a8" stroke="none" stroke-width="1" opacity="0.7"/>
<circle cx="376.19" cy="248.49" r="0.39" fill="#a8a8a8" stroke="none" stroke-width="1" opacity="0.7"/>
<circle cx="348.75" cy="261.99" r="0.56" fill="#a8a8a8" stroke="none" stroke-width="1" opacity="0.7"/>
<circle cx="354.26" cy="238.35" r="0.41" fill="#a8a8a8" stroke="none" stroke-width="1" opacity="0.7"/>
<circle cx="387.80" cy="241.03" r="0.35" fill="#a8a8a8" stroke="none" stroke-width="1" opacity="0.7"/>
<circle cx="388.91" cy="218.01" r="0.44" fill="#a8a8a8" stroke="none" stroke-width="1" opacity="0.7"/>
<circle cx="345.05" cy="254.46" r="0.36" fill="#a8a8a8" stroke="none" stroke-width="1" opacity="0.7"/>
<circle cx="372.68" cy="218.21" r="0.54" fill="#a8a8a8" stroke="none" stroke-width="1" opacity="0.7"/>
<circle cx="381.54" cy="242.95" r="0.53" fill="#a8a8a8" stroke="none" stroke-width="1" opacity="0.7"/>
<circle cx="370.41" cy="237.47" r="0.60" fill="#a8a8a8" stroke="none" stroke-width="1" opacity="0.7"/>
<circle cx="348.76" cy="239.57" r="0.42" fill="#a8a8a8" stroke="none" stroke-width="1" opacity="0.7"/>
<circle cx="391.53" cy="265.59" r="0.33" fill="#a8a8a8" stroke="none" stroke-width="1" opacity="0.7"/>
<circle cx="351.45" cy="252.39" r="0.59" fill="#a8a8a8" stroke="none" stroke-width="1" opacity="0.7"/>
<circle cx="344.56" cy="252.47" r="0.77" fill="#a8a8a8" stroke="none" stroke-width="1" opacity="0.7"/>
<circle cx="366.98" cy="232.46" r="0.58" fill="#a8a8a8" stroke="none" stroke-width="1" opacity="0.7"/>
<circle cx="395.62" cy="227.76" r="0.45" fill="#a8a8a8" stroke="none" stroke-width="1" opacity="0.7"/>
<circle cx="353.97" cy="248.19" r="0.53" fill="#a8a8a8" stroke="none" stroke-width="1" opacity="0.7"/>
<circle cx="357.71" cy="234.72" r="0.32" fill="#a8a8a8" stroke="none" stroke-width="1" opacity="0.7"/>
<circle cx="360.84" cy="268.04" r="0.59" fill="#a8a8a8" stroke="none" stroke-width="1" opacity="0.7"/>
<circle cx="359.18" cy="265.42" r="0.48" fill="#a8a8a8" stroke="none" stroke-width="1" opacity="0.7"/>
<circle cx="357.46" cy="214.97" r="0.37" fill="#a8a8a8" stroke="none" stroke-width="1" opacity="0.7"/>
<circle cx="354.55" cy="225.88" r="0.74" fill="#a8a8a8" stroke="none" stroke-width="1" opacity="0.7"/>
<circle cx="358.18" cy="226.92" r="0.60" fill="#a8a8a8" stroke="none" stroke-width="1" opacity="0.7"/>
<circle cx="394.40" cy="229.32" r="0.68" fill="#a8a8a8" stroke="none" stroke-width="1" opacity="0.7"/>
<circle cx="363.96" cy="244.42" r="0.60" fill="#a8a8a8" stroke="none" stroke-width="1" opacity="0.7"/>
<circle cx="395.80" cy="255.41" r="0.55" fill="#a8a8a8" stroke="none" stroke-width="1" opacity="0.7"/>
<circle cx="390.20" cy="233.52" r="0.49" fill="#a8a8a8" stroke="none" stroke-width="1" opacity="0.7"/>
<circle cx="396.78" cy="243.57" r="0.69" fill="#a8a8a8" stroke="none" stroke-width="1" opacity="0.7"/>
<circle cx="360.95" cy="264.26" r="0.61" fill="#a8a8a8" stroke="none" stroke-width="1" opacity="0.7"/>
<circle cx="357.23" cy="265.28" r="0.53" fill="#a8a8a8" stroke="none" stroke-width="1" opacity="0.7"/>
<circle cx="362.34" cy="227.71" r="0.35" fill="#a8a8a8" stroke="none" stroke-width="1" opacity="0.7"/>
<circle cx="354.64" cy="251.77" r="0.37" fill="#a8a8a8" stroke="none" stroke-width="1" opacity="0.7"/>
<circle cx="357.86" cy="238.05" r="0.57" fill="#a8a8a8" stroke="none" stroke-width="1" opacity="0.7"/>
<circle cx="364.62" cy="256.97" r="0.43" fill="#a8a8a8" stroke="none" stroke-width="1" opacity="0.7"/>
<circle cx="363.96" cy="236.80" r="0.36" fill="#a8a8a8" stroke="none" stroke-width="1" opacity="0.7"/>
<circle cx="355.84" cy="221.20" r="0.66" fill="#a8a8a8" stroke="none" stroke-width="1" opacity="0.7"/>
<circle cx="351.63" cy="250.41" r="0.41" fill="#a8a8a8" stroke="none" stroke-width="1" opacity="0.7"/>
<circle cx="379.41" cy="249.77" r="0.48" fill="#a8a8a8" stroke="none" stroke-width="1" opacity="0.7"/>
<circle cx="395.29" cy="249.78" r="0.58" fill="#a8a8a8" stroke="none" stroke-width="1" opacity="0.7"/>
<rect x="402.00" y="212.00" width="57.50" height="58.00" fill="#6c6c6c" stroke="none" stroke-width="1" />
<circle cx="455.64" cy="214.63" r="1.80" fill="#a0a0a0" stroke="none" stroke-width="1" opacity="0.5"/>
<circle cx="455.64" cy="214.63" r="0.90" fill="#202020" stroke="none" stroke-width="1" />
<circle cx="443.38" cy="222.53" r="1.80" fill="#a0a0a0" stroke="none" stroke-width="1" opacity="0.5"/>
<circle cx="443.38" cy="222.53" r="0.90" fill="#202020" stroke="none" stroke-width="1" />
<circle cx="456.77" cy="214.91" r="1.80" fill="#a0a0a0" stroke="none" stroke-width="1" opacity="0.5"/>
<circle cx="456.77" cy="214.91" r="0.90" fill="#202020" stroke="none" stroke-width="1" />
<circle cx="451.05" cy="250.79" r="1.80" fill="#a0a0a0" stroke="none" stroke-width="1" opacity="0.5"/>
<circle cx="451.05" cy="250.79" r="0.90" fill="#202020" stroke="none" stroke-width="1" />
<circle cx="449.87" cy="267.99" r="1.80" fill="#a0a0a0" stroke="none" stroke-width="1" opacity="0.5"/>
<circle cx="449.87" cy="267.99" r="0.90" fill="#202020" stroke="none" stroke-width="1" />
<circle cx="416.82" cy="232.26" r="1.80" fill="#a0a0a0" stroke="none" stroke-width="1" opacity="0.5"/>
<circle cx="416.82" cy="232.26" r="0.90" fill="#202020" stroke="none" stroke-width="1" />
<circle cx="441.89" cy="229.15" r="1.80" fill="#a0a0a0" stroke="none" stroke-width="1" opacity="0.5"/>
<circle cx="441.89" cy="229.15" r="0.90" fill="#202020" stroke="none" stroke-width="1" />
<circle cx="418.09" cy="226.34" r="1.80" fill="#a0a0a0" stroke="none" stroke-width="1" opacity="0.5"/>
<circle cx="418.09" cy="226.34" r="0.90" fill="#202020" stroke="none" stroke-width="1" />
<circle cx="449.89" cy="261.22" r="1.80" fill="#a0a0a0" stroke="none" stroke-width="1" opacity="0.5"/>
<circle cx="449.89" cy="261.22" r="0.90" fill="#202020" stroke="none" stroke-width="1" />
<circle cx="446.67" cy="226.06" r="1.80" fill="#a0a0a0" stroke="none" stroke-width="1" opacity="0.5"/>
<circle cx="446.67" cy="226.06" r="0.90" fill="#202020" stroke="none" stroke-width="1" />
<circle cx="405.07" cy="214.08" r="1.95" fill="#777777" stroke="#a6a6a6" stroke-width="0.95" />
<circle cx="412.41" cy="213.71" r="1.95" fill="#777777" stroke="#a6a6a6" stroke-width="0.95" />
<circle cx="427.86" cy="215.10" r="1.95" fill="#777777" stroke="#a6a6a6" stroke-width="0.95" />
<circle cx="445.18" cy="213.81" r="1.95" fill="#777777" stroke="#a6a6a6" stroke-width="0.95" />
<circle cx="450.23" cy="213.70" r="1.95" fill="#777777" stroke="#a6a6a6" stroke-width="0.95" />
<circle cx="456.96" cy="213.91" r="1.95" fill="#777777" stroke="#a6a6a6" stroke-width="0.95" />
<circle cx="412.83" cy="217.64" r="1.95" fill="#777777" stroke="#a6a6a6" stroke-width="0.95" />
<circle cx="417.42" cy="217.33" r="1.95" fill="#957678" stroke="#cb4a56" stroke-width="1.0" />
<circle cx="421.59" cy="217.05" r="1.95" fill="#777777" stroke="#a6a6a6" stroke-width="0.95" />
<circle cx="428.87" cy="218.61" r="1.95" fill="#957678" stroke="#cb4a56" stroke-width="1.0" />
<circle cx="431.57" cy="217.75" r="1.95" fill="#957678" stroke="#cb4a56" stroke-width="1.0" />
<circle cx="436.48" cy="218.43" r="1.95" fill="#957678" stroke="#cb4a56" stroke-width="1.0" />
<circle cx="445.99" cy="219.09" r="1.95" fill="#777777" stroke="#a6a6a6" stroke-width="0.95" />
<circle cx="448.79" cy="217.88" r="1.95" fill="#777777" stroke="#a6a6a6" stroke-width="0.95" />
<circle cx="452.65" cy="219.32" r="1.95" fill="#777777" stroke="#a6a6a6" stroke-width="0.95" />
<circle cx="457.79" cy="217.71" r="1.95" fill="#777777" stroke="#a6a6a6" stroke-width="0.95" />
<circle cx="409.02" cy="222.80" r="1.95" fill="#777777" stroke="#a6a6a6" stroke-width="0.95" />
<circle cx="415.46" cy="221.29" r="1.95" fill="#957678" stroke="#cb4a56" stroke-width="1.0" />
<circle cx="424.30" cy="222.94" r="1.95" fill="#777777" stroke="#a6a6a6" stroke-width="0.95" />
<circle cx="433.12" cy="222.44" r="1.95" fill="#957678" stroke="#cb4a56" stroke-width="1.0" />
<circle cx="436.54" cy="221.61" r="1.95" fill="#777777" stroke="#a6a6a6" stroke-width="0.95" />
<circle cx="440.03" cy="222.32" r="1.95" fill="#777777" stroke="#a6a6a6" stroke-width="0.95" />
<circle cx="445.55" cy="222.92" r="1.95" fill="#777777" stroke="#a6a6a6" stroke-width="0.95" />
<circle cx="450.32" cy="222.64" r="1.95" fill="#777777" stroke="#a6a6a6" stroke-width="0.95" />
<circle cx="456.30" cy="223.25" r="1.95" fill="#777777" stroke="#a6a6a6" stroke-width="0.95" />
<circle cx="408.86" cy="226.88" r="1.95" fill="#777777" stroke="#a6a6a6" stroke-width="0.95" />
<circle cx="415.28" cy="226.15" r="1.95" fill="#777777" stroke="#a6a6a6" stroke-width="0.95" />
<circle cx="420.14" cy="226.52" r="1.95" fill="#957678" stroke="#cb4a56" stroke-width="1.0" />
<circle cx="424.49" cy="226.27" r="1.95" fill="#777777" stroke="#a6a6a6" stroke-width="0.95" />
<circle cx="432.14" cy="227.42" r="1.95" fill="#777777" stroke="#a6a6a6" stroke-width="0.95" />
<circle cx="437.81" cy="225.56" r="1.95" fill="#777777" stroke="#a6a6a6" stroke-width="0.95" />
<circle cx="441.22" cy="226.25" r="1.95" fill="#777777" stroke="#a6a6a6" stroke-width="0.95" />
<circle cx="444.96" cy="227.04" r="1.95" fill="#777777" stroke="#a6a6a6" stroke-width="0.95" />
<circle cx="452.45" cy="227.44" r="1.95" fill="#777777" stroke="#a6a6a6" stroke-width="0.95" />
<circle cx="408.16" cy="230.83" r="1.95" fill="#777777" stroke="#a6a6a6" stroke-width="0.95" />
<circle cx="411.83" cy="231.32" r="1.95" fill="#777777" stroke="#a6a6a6" stroke-width="0.95" />
<circle cx="417.23" cy="231.41" r="1.95" fill="#777777" stroke="#a6a6a6" stroke-width="0.95" />
<circle cx="420.90" cy="229.90" r="1.95" fill="#777777" stroke="#a6a6a6" stroke-width="0.95" />
<circle cx="423.71" cy="230.83" r="1.95" fill="#957678" stroke="#cb4a56" stroke-width="1.0" />
<circle cx="429.73" cy="231.64" r="1.95" fill="#777777" stroke="#a6a6a6" stroke-width="0.95" />
<circle cx="432.50" cy="230.28" r="1.95" fill="#777777" stroke="#a6a6a6" stroke-width="0.95" />
<circle cx="437.33" cy="230.38" r="1.95" fill="#777777" stroke="#a6a6a6" stroke-width="0.95" />
<circle cx="448.86" cy="230.85" r="1.95" fill="#777777" stroke="#a6a6a6" stroke-width="0.95" />
<circle cx="452.59" cy="230.86" r="1.95" fill="#777777" stroke="#a6a6a6" stroke-width="0.95" />
<circle cx="456.32" cy="230.91" r="1.95" fill="#777777" stroke="#a6a6a6" stroke-width="0.95" />
<circle cx="404.04" cy="233.79" r="1.95" fill="#777777" stroke="#a6a6a6" stroke-width="0.95" />
<circle cx="409.20" cy="233.74" r="1.95" fill="#777777" stroke="#a6a6a6" stroke-width="0.95" />
<circle cx="413.33" cy="234.69" r="1.95" fill="#777777" stroke="#a6a6a6" stroke-width="0.95" />
<circle cx="417.04" cy="235.06" r="1.95" fill="#777777" stroke="#a6a6a6" stroke-width="0.95" />
<circle cx="419.35" cy="235.19" r="1.95" fill="#957678" stroke="#cb4a56" stroke-width="1.0" />
<circle cx="424.29" cy="234.60" r="1.95" fill="#957678" stroke="#cb4a56" stroke-width="1.0" />
<circle cx="428.21" cy="234.22" r="1.95" fill="#777777" stroke="#a6a6a6" stroke-width="0.95" />
<circle cx="437.78" cy="235.37" r="1.95" fill="#777777" stroke="#a6a6a6" stroke-width="0.95" />
<circle cx="439.91" cy="235.56" r="1.95" fill="#777777" stroke="#a6a6a6" stroke-width="0.95" />
<circle cx="445.35" cy="233.46" r="1.95" fill="#777777" stroke="#a6a6a6" stroke-width="0.95" />
<circle cx="449.88" cy="234.21" r="1.95" fill="#777777" stroke="#a6a6a6" stroke-width="0.95" />
<circle cx="454.02" cy="233.57" r="1.95" fill="#777777" stroke="#a6a6a6" stroke-width="0.95" />
<circle cx="404.05" cy="237.80" r="1.95" fill="#777777" stroke="#a6a6a6" stroke-width="0.95" />
<circle cx="408.11" cy="239.11" r="1.95" fill="#777777" stroke="#a6a6a6" stroke-width="0.95" />
<circle cx="411.99" cy="238.03" r="1.95" fill="#777777" stroke="#a6a6a6" stroke-width="0.95" />
<circle cx="420.82" cy="238.64" r="1.95" fill="#957678" stroke="#cb4a56" stroke-width="1.0" />
<circle cx="433.50" cy="237.71" r="1.95" fill="#777777" stroke="#a6a6a6" stroke-width="0.95" />
<circle cx="437.91" cy="238.04" r="1.95" fill="#777777" stroke="#a6a6a6" stroke-width="0.95" />
<circle cx="440.70" cy="238.97" r="1.95" fill="#777777" stroke="#a6a6a6" stroke-width="0.95" />
<circle cx="446.08" cy="239.05" r="1.95" fill="#777777" stroke="#a6a6a6" stroke-width="0.95" />
<circle cx="454.31" cy="237.70" r="1.95" fill="#777777" stroke="#a6a6a6" stroke-width="0.95" />
<circle cx="456.47" cy="238.84" r="1.95" fill="#777777" stroke="#a6a6a6" stroke-width="0.95" />
<circle cx="413.16" cy="242.45" r="1.95" fill="#777777" stroke="#a6a6a6" stroke-width="0.95" />
<circle cx="415.56" cy="243.60" r="1.95" fill="#777777" stroke="#a6a6a6" stroke-width="0.95" />
<circle cx="424.93" cy="242.98" r="1.95" fill="#777777" stroke="#a6a6a6" stroke-width="0.95" />
<circle cx="429.10" cy="242.60" r="1.95" fill="#777777" stroke="#a6a6a6" stroke-width="0.95" />
<circle cx="433.17" cy="243.56" r="1.95" fill="#777777" stroke="#a6a6a6" stroke-width="0.95" />
<circle cx="436.32" cy="243.72" r="1.95" fill="#777777" stroke="#a6a6a6" stroke-width="0.95" />
<circle cx="439.91" cy="243.95" r="1.95" fill="#777777" stroke="#a6a6a6" stroke-width="0.95" />
<circle cx="444.71" cy="241.65" r="1.95" fill="#777777" stroke="#a6a6a6" stroke-width="0.95" />
<circle cx="448.96" cy="243.29" r="1.95" fill="#777777" stroke="#a6a6a6" stroke-width="0.95" />
<circle cx="453.59" cy="243.36" r="1.95" fill="#777777" stroke="#a6a6a6" stroke-width="0.95" />
<circle cx="404.55" cy="246.76" r="1.95" fill="#777777" stroke="#a6a6a6" stroke-width="0.95" />
<circle cx="412.94" cy="245.70" r="1.95" fill="#777777" stroke="#a6a6a6" stroke-width="0.95" />
<circle cx="420.71" cy="246.24" r="1.95" fill="#777777" stroke="#a6a6a6" stroke-width="0.95" />
<circle cx="424.25" cy="246.95" r="1.95" fill="#777777" stroke="#a6a6a6" stroke-width="0.95" />
<circle cx="432.08" cy="246.54" r="1.95" fill="#777777" stroke="#a6a6a6" stroke-width="0.95" />
<circle cx="436.62" cy="247.17" r="1.95" fill="#957678" stroke="#cb4a56" stroke-width="1.0" />
<circle cx="443.93" cy="246.37" r="1.95" fill="#777777" stroke="#a6a6a6" stroke-width="0.95" />
<circle cx="449.88" cy="246.37" r="1.95" fill="#957678" stroke="#cb4a56" stroke-width="1.0" />
<circle cx="453.84" cy="247.89" r="1.95" fill="#957678" stroke="#cb4a56" stroke-width="1.0" />
<circle cx="408.40" cy="251.90" r="1.95" fill="#777777" stroke="#a6a6a6" stroke-width="0.95" />
<circle cx="413.18" cy="252.07" r="1.95" fill="#777777" stroke="#a6a6a6" stroke-width="0.95" />
<circle cx="415.21" cy="250.00" r="1.95" fill="#777777" stroke="#a6a6a6" stroke-width="0.95" />
<circle cx="432.76" cy="251.90" r="1.95" fill="#957678" stroke="#cb4a56" stroke-width="1.0" />
<circle cx="436.28" cy="252.03" r="1.95" fill="#957678" stroke="#cb4a56" stroke-width="1.0" />
<circle cx="441.04" cy="250.07" r="1.95" fill="#777777" stroke="#a6a6a6" stroke-width="0.95" />
<circle cx="444.78" cy="251.86" r="1.95" fill="#777777" stroke="#a6a6a6" stroke-width="0.95" />
<circle cx="449.99" cy="250.32" r="1.95" fill="#957678" stroke="#cb4a56" stroke-width="1.0" />
<circle cx="403.86" cy="255.77" r="1.95" fill="#777777" stroke="#a6a6a6" stroke-width="0.95" />
<circle cx="408.52" cy="255.28" r="1.95" fill="#777777" stroke="#a6a6a6" stroke-width="0.95" />
<circle cx="411.62" cy="255.56" r="1.95" fill="#777777" stroke="#a6a6a6" stroke-width="0.95" />
<circle cx="415.49" cy="254.46" r="1.95" fill="#777777" stroke="#a6a6a6" stroke-width="0.95" />
<circle cx="424.22" cy="256.07" r="1.95" fill="#777777" stroke="#a6a6a6" stroke-width="0.95" />
<circle cx="428.76" cy="255.29" r="1.95" fill="#957678" stroke="#cb4a56" stroke-width="1.0" />
<circle cx="432.02" cy="254.36" r="1.95" fill="#957678" stroke="#cb4a56" stroke-width="1.0" />
<circle cx="436.26" cy="255.21" r="1.95" fill="#777777" stroke="#a6a6a6" stroke-width="0.95" />
<circle cx="440.85" cy="255.30" r="1.95" fill="#777777" stroke="#a6a6a6" stroke-width="0.95" />
<circle cx="444.96" cy="256.07" r="1.95" fill="#777777" stroke="#a6a6a6" stroke-width="0.95" />
<circle cx="454.19" cy="254.90" r="1.95" fill="#957678" stroke="#cb4a56" stroke-width="1.0" />
<circle cx="457.68" cy="255.44" r="1.95" fill="#957678" stroke="#cb4a56" stroke-width="1.0" />
<circle cx="412.54" cy="259.44" r="1.95" fill="#957678" stroke="#cb4a56" stroke-width="1.0" />
<circle cx="439.92" cy="258.39" r="1.95" fill="#777777" stroke="#a6a6a6" stroke-width="0.95" />
<circle cx="446.02" cy="258.02" r="1.95" fill="#777777" stroke="#a6a6a6" stroke-width="0.95" />
<circle cx="454.25" cy="259.93" r="1.95" fill="#957678" stroke="#cb4a56" stroke-width="1.0" />
<circle cx="457.93" cy="259.05" r="1.95" fill="#777777" stroke="#a6a6a6" stroke-width="0.95" />
<circle cx="407.14" cy="262.14" r="1.95" fill="#957678" stroke="#cb4a56" stroke-width="1.0" />
<circle cx="417.37" cy="264.22" r="1.95" fill="#957678" stroke="#cb4a56" stroke-width="1.0" />
<circle cx="420.31" cy="262.50" r="1.95" fill="#957678" stroke="#cb4a56" stroke-width="1.0" />
<circle cx="433.67" cy="263.26" r="1.95" fill="#777777" stroke="#a6a6a6" stroke-width="0.95" />
<circle cx="436.26" cy="263.01" r="1.95" fill="#777777" stroke="#a6a6a6" stroke-width="0.95" />
<circle cx="441.52" cy="262.29" r="1.95" fill="#777777" stroke="#a6a6a6" stroke-width="0.95" />
<circle cx="444.60" cy="262.21" r="1.95" fill="#957678" stroke="#cb4a56" stroke-width="1.0" />
<circle cx="449.47" cy="264.40" r="1.95" fill="#957678" stroke="#cb4a56" stroke-width="1.0" />
<circle cx="452.55" cy="262.37" r="1.95" fill="#957678" stroke="#cb4a56" stroke-width="1.0" />
<circle cx="403.81" cy="268.26" r="1.95" fill="#957678" stroke="#cb4a56" stroke-width="1.0" />
<circle cx="408.05" cy="267.64" r="1.95" fill="#957678" stroke="#cb4a56" stroke-width="1.0" />
<circle cx="416.33" cy="267.99" r="1.95" fill="#957678" stroke="#cb4a56" stroke-width="1.0" />
<circle cx="420.37" cy="268.46" r="1.95" fill="#957678" stroke="#cb4a56" stroke-width="1.0" />
<circle cx="427.92" cy="268.14" r="1.95" fill="#777777" stroke="#a6a6a6" stroke-width="0.95" />
<circle cx="432.06" cy="267.17" r="1.95" fill="#777777" stroke="#a6a6a6" stroke-width="0.95" />
<circle cx="436.67" cy="266.46" r="1.95" fill="#777777" stroke="#a6a6a6" stroke-width="0.95" />
<circle cx="440.79" cy="267.41" r="1.95" fill="#777777" stroke="#a6a6a6" stroke-width="0.95" />
<circle cx="444.41" cy="267.22" r="1.95" fill="#957678" stroke="#cb4a56" stroke-width="1.0" />
<circle cx="450.24" cy="268.48" r="1.95" fill="#777777" stroke="#a6a6a6" stroke-width="0.95" />
<circle cx="452.76" cy="267.43" r="1.95" fill="#777777" stroke="#a6a6a6" stroke-width="0.95" />
<circle cx="456.97" cy="267.17" r="1.95" fill="#777777" stroke="#a6a6a6" stroke-width="0.95" />
<rect x="461.30" y="212.00" width="57.50" height="58.00" fill="#707070" stroke="none" stroke-width="1" />
<circle cx="472.36" cy="250.04" r="0.50" fill="#a8a8a8" stroke="none" stroke-width="1" opacity="0.7"/>
<circle cx="473.29" cy="240.41" r="0.60" fill="#a8a8a8" stroke="none" stroke-width="1" opacity="0.7"/>
<circle cx="488.93" cy="238.67" r="0.46" fill="#a8a8a8" stroke="none" stroke-width="1" opacity="0.7"/>
<circle cx="476.39" cy="251.75" r="0.49" fill="#a8a8a8" stroke="none" stroke-width="1" opacity="0.7"/>
<circle cx="499.75" cy="257.08" r="0.82" fill="#a8a8a8" stroke="none" stroke-width="1" opacity="0.7"/>
<circle cx="514.69" cy="226.14" r="0.44" fill="#a8a8a8" stroke="none" stroke-width="1" opacity="0.7"/>
<circle cx="503.08" cy="245.23" r="0.42" fill="#a8a8a8" stroke="none" stroke-width="1" opacity="0.7"/>
<circle cx="499.91" cy="261.90" r="0.80" fill="#a8a8a8" stroke="none" stroke-width="1" opacity="0.7"/>
<circle cx="474.29" cy="229.74" r="0.30" fill="#a8a8a8" stroke="none" stroke-width="1" opacity="0.7"/>
<circle cx="516.45" cy="225.34" r="0.74" fill="#a8a8a8" stroke="none" stroke-width="1" opacity="0.7"/>
<circle cx="492.15" cy="246.23" r="0.62" fill="#a8a8a8" stroke="none" stroke-width="1" opacity="0.7"/>
<circle cx="508.12" cy="246.60" r="0.48" fill="#a8a8a8" stroke="none" stroke-width="1" opacity="0.7"/>
<circle cx="468.67" cy="239.73" r="0.85" fill="#a8a8a8" stroke="none" stroke-width="1" opacity="0.7"/>
<circle cx="470.36" cy="251.30" r="0.68" fill="#a8a8a8" stroke="none" stroke-width="1" opacity="0.7"/>
<circle cx="471.19" cy="224.58" r="0.71" fill="#a8a8a8" stroke="none" stroke-width="1" opacity="0.7"/>
<circle cx="486.55" cy="235.79" r="0.59" fill="#a8a8a8" stroke="none" stroke-width="1" opacity="0.7"/>
<circle cx="467.92" cy="252.46" r="0.65" fill="#a8a8a8" stroke="none" stroke-width="1" opacity="0.7"/>
<circle cx="491.95" cy="232.02" r="0.79" fill="#a8a8a8" stroke="none" stroke-width="1" opacity="0.7"/>
<circle cx="508.03" cy="243.51" r="0.35" fill="#a8a8a8" stroke="none" stroke-width="1" opacity="0.7"/>
<circle cx="470.51" cy="221.52" r="0.35" fill="#a8a8a8" stroke="none" stroke-width="1" opacity="0.7"/>
<circle cx="498.28" cy="243.44" r="0.42" fill="#a8a8a8" stroke="none" stroke-width="1" opacity="0.7"/>
<circle cx="512.82" cy="248.27" r="0.78" fill="#a8a8a8" stroke="none" stroke-width="1" opacity="0.7"/>
<circle cx="507.70" cy="251.17" r="0.62" fill="#a8a8a8" stroke="none" stroke-width="1" opacity="0.7"/>
<circle cx="516.95" cy="220.44" r="0.71" fill="#a8a8a8" stroke="none" stroke-width="1" opacity="0.7"/>
<circle cx="511.38" cy="239.79" r="0.79" fill="#a8a8a8" stroke="none" stroke-width="1" opacity="0.7"/>
<circle cx="472.37" cy="236.31" r="0.46" fill="#a8a8a8" stroke="none" stroke-width="1" opacity="0.7"/>
<circle cx="484.33" cy="252.31" r="0.39" fill="#a8a8a8" stroke="none" stroke-width="1" opacity="0.7"/>
<circle cx="481.08" cy="260.38" r="0.48" fill="#a8a8a8" stroke="none" stroke-width="1" opacity="0.7"/>
<circle cx="469.30" cy="268.68" r="0.62" fill="#a8a8a8" stroke="none" stroke-width="1" opacity="0.7"/>
<circle cx="463.31" cy="244.99" r="0.39" fill="#a8a8a8" stroke="none" stroke-width="1" opacity="0.7"/>
<circle cx="471.34" cy="254.37" r="0.69" fill="#a8a8a8" stroke="none" stroke-width="1" opacity="0.7"/>
<circle cx="485.96" cy="241.81" r="0.64" fill="#a8a8a8" stroke="none" stroke-width="1" opacity="0.7"/>
<circle cx="487.77" cy="218.67" r="0.76" fill="#a8a8a8" stroke="none" stroke-width="1" opacity="0.7"/>
<circle cx="505.05" cy="236.63" r="0.54" fill="#a8a8a8" stroke="none" stroke-width="1" opacity="0.7"/>
<circle cx="496.18" cy="239.43" r="0.55" fill="#a8a8a8" stroke="none" stroke-width="1" opacity="0.7"/>
<circle cx="510.93" cy="263.67" r="0.39" fill="#a8a8a8" stroke="none" stroke-width="1" opacity="0.7"/>
<circle cx="471.85" cy="256.93" r="0.87" fill="#a8a8a8" stroke="none" stroke-width="1" opacity="0.7"/>
<circle cx="502.83" cy="229.63" r="0.34" fill="#a8a8a8" stroke="none" stroke-width="1" opacity="0.7"/>
<circle cx="508.22" cy="265.09" r="0.76" fill="#a8a8a8" stroke="none" stroke-width="1" opacity="0.7"/>
<circle cx="503.15" cy="267.47" r="0.61" fill="#a8a8a8" stroke="none" stroke-width="1" opacity="0.7"/>
<circle cx="513.92" cy="227.69" r="0.35" fill="#a8a8a8" stroke="none" stroke-width="1" opacity="0.7"/>
<circle cx="508.89" cy="252.12" r="0.78" fill="#a8a8a8" stroke="none" stroke-width="1" opacity="0.7"/>
<circle cx="469.53" cy="229.80" r="0.65" fill="#a8a8a8" stroke="none" stroke-width="1" opacity="0.7"/>
<circle cx="465.89" cy="231.40" r="0.66" fill="#a8a8a8" stroke="none" stroke-width="1" opacity="0.7"/>
<circle cx="514.29" cy="253.28" r="0.54" fill="#a8a8a8" stroke="none" stroke-width="1" opacity="0.7"/>
<circle cx="484.94" cy="241.72" r="0.74" fill="#a8a8a8" stroke="none" stroke-width="1" opacity="0.7"/>
<circle cx="517.55" cy="213.62" r="0.86" fill="#a8a8a8" stroke="none" stroke-width="1" opacity="0.7"/>
<circle cx="506.84" cy="215.56" r="0.45" fill="#a8a8a8" stroke="none" stroke-width="1" opacity="0.7"/>
<circle cx="477.48" cy="225.07" r="0.40" fill="#a8a8a8" stroke="none" stroke-width="1" opacity="0.7"/>
<circle cx="469.87" cy="250.85" r="0.56" fill="#a8a8a8" stroke="none" stroke-width="1" opacity="0.7"/>
<circle cx="468.24" cy="260.23" r="0.80" fill="#a8a8a8" stroke="none" stroke-width="1" opacity="0.7"/>
<circle cx="476.74" cy="259.47" r="0.77" fill="#a8a8a8" stroke="none" stroke-width="1" opacity="0.7"/>
<circle cx="491.73" cy="217.92" r="0.73" fill="#a8a8a8" stroke="none" stroke-width="1" opacity="0.7"/>
<circle cx="510.84" cy="262.67" r="0.87" fill="#a8a8a8" stroke="none" stroke-width="1" opacity="0.7"/>
<circle cx="471.31" cy="267.65" r="0.36" fill="#a8a8a8" stroke="none" stroke-width="1" opacity="0.7"/>
<text x="3.40" y="292.40" font-size="12" text-anchor="start" fill="#222" stroke="#222" stroke-width="0.28" >(c)</text>
<text x="80.75" y="304.60" font-size="9.1" text-anchor="middle" fill="#333" stroke="#333" stroke-width="0.28" >dcTFF- 500 nm PSBs</text>
<rect x="35.50" y="313.00" width="7.70" height="59.00" fill="#ffffff" stroke="none" stroke-width="1" />
<line x1="35.50" y1="313.00" x2="35.50" y2="372.00" stroke="#7a7a7a" stroke-width="0.9" />
<line x1="43.20" y1="313.00" x2="43.20" y2="372.00" stroke="#7a7a7a" stroke-width="0.9" />
<rect x="44.00" y="337.00" width="52.30" height="7.00" fill="#f4f4f4" stroke="none" stroke-width="1" />
<line x1="44.00" y1="337.00" x2="96.30" y2="337.00" stroke="#7a7a7a" stroke-width="0.9" />
<line x1="44.00" y1="344.00" x2="96.30" y2="344.00" stroke="#7a7a7a" stroke-width="0.9" />
<rect x="101.40" y="356.00" width="7.50" height="16.00" fill="#ffffff" stroke="none" stroke-width="1" />
<line x1="101.40" y1="356.00" x2="101.40" y2="372.00" stroke="#7a7a7a" stroke-width="0.9" />
<line x1="108.90" y1="356.00" x2="108.90" y2="372.00" stroke="#7a7a7a" stroke-width="0.9" />
<rect x="35.30" y="400.00" width="7.90" height="58.50" fill="#ffffff" stroke="none" stroke-width="1" />
<line x1="35.30" y1="400.00" x2="35.30" y2="458.50" stroke="#7a7a7a" stroke-width="0.9" />
<line x1="43.20" y1="400.00" x2="43.20" y2="458.50" stroke="#7a7a7a" stroke-width="0.9" />
<rect x="101.30" y="400.00" width="7.60" height="58.50" fill="#ffffff" stroke="none" stroke-width="1" />
<line x1="101.30" y1="400.00" x2="101.30" y2="458.50" stroke="#7a7a7a" stroke-width="0.9" />
<line x1="108.90" y1="400.00" x2="108.90" y2="458.50" stroke="#7a7a7a" stroke-width="0.9" />
<rect x="112.00" y="428.80" width="24.00" height="8.20" fill="#ffffff" stroke="none" stroke-width="1" />
<line x1="112.00" y1="428.80" x2="136.00" y2="428.80" stroke="#7a7a7a" stroke-width="0.9" />
<line x1="112.00" y1="437.00" x2="136.00" y2="437.00" stroke="#7a7a7a" stroke-width="0.9" />
<rect x="101.30" y="486.50" width="7.60" height="31.50" fill="#ffffff" stroke="none" stroke-width="1" />
<line x1="101.30" y1="486.50" x2="101.30" y2="518.00" stroke="#7a7a7a" stroke-width="0.9" />
<line x1="108.90" y1="486.50" x2="108.90" y2="518.00" stroke="#7a7a7a" stroke-width="0.9" />
<rect x="96.30" y="328.90" width="30.20" height="27.10" fill="#d6d6d6" stroke="#333333" stroke-width="1.2" />
<path d="M102.83,344.01 A8.4,8.4 0 1 0 106.90,335.28" fill="none" stroke="#2a2a2a" stroke-width="1.2"/>
<path d="M106.50,338.65 L102.10,340.55 L101.10,335.35" fill="none" stroke="#2a2a2a" stroke-width="1.4" stroke-linejoin="round"/>
<rect x="18.80" y="417.50" width="38.70" height="23.00" fill="#d6d6d6" stroke="#333333" stroke-width="1.2" />
<path d="M47.80,430.54 A10.1,8.3 0 1 1 42.90,421.91" fill="none" stroke="#2a2a2a" stroke-width="1.2"/>
<path d="M42.65,425.10 L48.25,427.10 L48.65,421.80" fill="none" stroke="#2a2a2a" stroke-width="1.4" stroke-linejoin="round"/>
<polygon points="34.1,332.6 44.699999999999996,332.6 39.4,340.6" fill="#246fad" stroke="#0c2540" stroke-width="1.05"/>
<polygon points="34.1,348.6 44.699999999999996,348.6 39.4,340.6" fill="#246fad" stroke="#0c2540" stroke-width="1.05"/>
<polygon points="39.4,340.6 48.4,335.6 48.4,345.6" fill="#246fad" stroke="#0c2540" stroke-width="1.05"/>
<polygon points="99.8,424.8 110.39999999999999,424.8 105.1,432.8" fill="#246fad" stroke="#0c2540" stroke-width="1.05"/>
<polygon points="99.8,440.8 110.39999999999999,440.8 105.1,432.8" fill="#246fad" stroke="#0c2540" stroke-width="1.05"/>
<polygon points="105.1,432.8 114.1,427.8 114.1,437.8" fill="#246fad" stroke="#0c2540" stroke-width="1.05"/>
<rect x="14.60" y="371.80" width="116.50" height="28.80" fill="#d6d6d6" stroke="#2e2e2e" stroke-width="1.2" />
<rect x="19.10" y="373.00" width="9.00" height="13.50" fill="#e6e6e6" stroke="none" stroke-width="1" />
<rect x="117.60" y="373.00" width="9.00" height="13.50" fill="#e6e6e6" stroke="none" stroke-width="1" />
<rect x="27.60" y="373.00" width="90.50" height="13.50" fill="#ffffff" stroke="none" stroke-width="1" />
<rect x="24.00" y="386.50" width="97.70" height="9.70" fill="#ffffff" stroke="none" stroke-width="1" />
<line x1="14.60" y1="386.50" x2="132.10" y2="386.50" stroke="#111" stroke-width="1.4" stroke-dasharray="3,2.2"/>
<rect x="24.40" y="383.10" width="3.60" height="3.30" fill="#111" stroke="none" stroke-width="1" />
<rect x="117.90" y="383.10" width="3.60" height="3.30" fill="#111" stroke="none" stroke-width="1" />
<rect x="14.60" y="458.30" width="116.50" height="28.30" fill="#d6d6d6" stroke="#2e2e2e" stroke-width="1.2" />
<rect x="19.10" y="461.60" width="9.00" height="11.20" fill="#e6e6e6" stroke="none" stroke-width="1" />
<rect x="117.60" y="461.60" width="9.00" height="11.20" fill="#e6e6e6" stroke="none" stroke-width="1" />
<rect x="27.60" y="461.60" width="90.50" height="11.20" fill="#ffffff" stroke="none" stroke-width="1" />
<rect x="24.00" y="472.80" width="97.70" height="9.40" fill="#ffffff" stroke="none" stroke-width="1" />
<line x1="14.60" y1="472.80" x2="132.10" y2="472.80" stroke="#111" stroke-width="1.2" stroke-dasharray="1.2,1.3"/>
<rect x="24.40" y="469.40" width="3.60" height="3.30" fill="#111" stroke="none" stroke-width="1" />
<rect x="117.90" y="469.40" width="3.60" height="3.30" fill="#111" stroke="none" stroke-width="1" />
<text x="71.40" y="356.30" font-size="8.2" text-anchor="middle" fill="#333" stroke="#333" stroke-width="0.28" >Sample</text>
<text x="72.50" y="365.60" font-size="8.2" text-anchor="middle" fill="#333" stroke="#333" stroke-width="0.28" >chamber (C1)</text>
<text x="78.20" y="421.30" font-size="8.2" text-anchor="middle" fill="#333" stroke="#333" stroke-width="0.28" >Isolation</text>
<text x="78.20" y="430.60" font-size="8.2" text-anchor="middle" fill="#333" stroke="#333" stroke-width="0.28" >chamber</text>
<text x="78.60" y="439.70" font-size="8.2" text-anchor="middle" fill="#333" stroke="#333" stroke-width="0.28" >(C2)</text>
<text x="64.00" y="497.80" font-size="8.2" text-anchor="middle" fill="#333" stroke="#333" stroke-width="0.28" >Waste chamber</text>
<text x="65.50" y="507.30" font-size="8.2" text-anchor="middle" fill="#333" stroke="#333" stroke-width="0.28" >(C3)</text>
<circle cx="54.20" cy="340.60" r="2.70" fill="#cf2a55" stroke="none" stroke-width="1" />
<circle cx="73.00" cy="340.60" r="2.70" fill="#cf2a55" stroke="none" stroke-width="1" />
<circle cx="90.30" cy="340.60" r="2.70" fill="#cf2a55" stroke="none" stroke-width="1" />
<circle cx="38.40" cy="356.40" r="2.70" fill="#cf2a55" stroke="none" stroke-width="1" />
<circle cx="39.60" cy="372.80" r="2.70" fill="#cf2a55" stroke="none" stroke-width="1" />
<circle cx="51.20" cy="378.90" r="2.70" fill="#cf2a55" stroke="none" stroke-width="1" />
<circle cx="63.10" cy="380.70" r="2.70" fill="#cf2a55" stroke="none" stroke-width="1" />
<circle cx="75.60" cy="382.30" r="2.70" fill="#cf2a55" stroke="none" stroke-width="1" />
<circle cx="86.90" cy="380.40" r="2.70" fill="#cf2a55" stroke="none" stroke-width="1" />
<circle cx="98.20" cy="380.40" r="2.70" fill="#cf2a55" stroke="none" stroke-width="1" />
<circle cx="107.60" cy="375.50" r="2.70" fill="#cf2a55" stroke="none" stroke-width="1" />
<circle cx="105.40" cy="362.20" r="2.70" fill="#cf2a55" stroke="none" stroke-width="1" />
<text x="265.50" y="292.40" font-size="12" text-anchor="start" fill="#222" stroke="#222" stroke-width="0.28" >(d)</text>
<text x="344.95" y="304.60" font-size="9.1" text-anchor="middle" fill="#333" stroke="#333" stroke-width="0.28" >dcTFF- 50 nm PSBs</text>
<rect x="299.70" y="314.50" width="7.70" height="59.00" fill="#ffffff" stroke="none" stroke-width="1" />
<line x1="299.70" y1="314.50" x2="299.70" y2="373.50" stroke="#7a7a7a" stroke-width="0.9" />
<line x1="307.40" y1="314.50" x2="307.40" y2="373.50" stroke="#7a7a7a" stroke-width="0.9" />
<rect x="308.20" y="338.50" width="52.30" height="7.00" fill="#f4f4f4" stroke="none" stroke-width="1" />
<line x1="308.20" y1="338.50" x2="360.50" y2="338.50" stroke="#7a7a7a" stroke-width="0.9" />
<line x1="308.20" y1="345.50" x2="360.50" y2="345.50" stroke="#7a7a7a" stroke-width="0.9" />
<rect x="365.60" y="357.50" width="7.50" height="16.00" fill="#ffffff" stroke="none" stroke-width="1" />
<line x1="365.60" y1="357.50" x2="365.60" y2="373.50" stroke="#7a7a7a" stroke-width="0.9" />
<line x1="373.10" y1="357.50" x2="373.10" y2="373.50" stroke="#7a7a7a" stroke-width="0.9" />
<rect x="299.50" y="401.50" width="7.90" height="58.50" fill="#ffffff" stroke="none" stroke-width="1" />
<line x1="299.50" y1="401.50" x2="299.50" y2="460.00" stroke="#7a7a7a" stroke-width="0.9" />
<line x1="307.40" y1="401.50" x2="307.40" y2="460.00" stroke="#7a7a7a" stroke-width="0.9" />
<rect x="365.50" y="401.50" width="7.60" height="58.50" fill="#ffffff" stroke="none" stroke-width="1" />
<line x1="365.50" y1="401.50" x2="365.50" y2="460.00" stroke="#7a7a7a" stroke-width="0.9" />
<line x1="373.10" y1="401.50" x2="373.10" y2="460.00" stroke="#7a7a7a" stroke-width="0.9" />
<rect x="376.20" y="430.30" width="24.00" height="8.20" fill="#ffffff" stroke="none" stroke-width="1" />
<line x1="376.20" y1="430.30" x2="400.20" y2="430.30" stroke="#7a7a7a" stroke-width="0.9" />
<line x1="376.20" y1="438.50" x2="400.20" y2="438.50" stroke="#7a7a7a" stroke-width="0.9" />
<rect x="365.50" y="488.00" width="7.60" height="30.00" fill="#ffffff" stroke="none" stroke-width="1" />
<line x1="365.50" y1="488.00" x2="365.50" y2="518.00" stroke="#7a7a7a" stroke-width="0.9" />
<line x1="373.10" y1="488.00" x2="373.10" y2="518.00" stroke="#7a7a7a" stroke-width="0.9" />
<rect x="360.50" y="330.40" width="30.20" height="27.10" fill="#d6d6d6" stroke="#333333" stroke-width="1.2" />
<path d="M367.03,345.51 A8.4,8.4 0 1 0 371.10,336.78" fill="none" stroke="#2a2a2a" stroke-width="1.2"/>
<path d="M370.70,340.15 L366.30,342.05 L365.30,336.85" fill="none" stroke="#2a2a2a" stroke-width="1.4" stroke-linejoin="round"/>
<rect x="283.00" y="419.00" width="38.70" height="23.00" fill="#d6d6d6" stroke="#333333" stroke-width="1.2" />
<path d="M312.00,432.04 A10.1,8.3 0 1 1 307.10,423.41" fill="none" stroke="#2a2a2a" stroke-width="1.2"/>
<path d="M306.85,426.60 L312.45,428.60 L312.85,423.30" fill="none" stroke="#2a2a2a" stroke-width="1.4" stroke-linejoin="round"/>
<polygon points="298.29999999999995,334.1 308.9,334.1 303.59999999999997,342.1" fill="#246fad" stroke="#0c2540" stroke-width="1.05"/>
<polygon points="298.29999999999995,350.1 308.9,350.1 303.59999999999997,342.1" fill="#246fad" stroke="#0c2540" stroke-width="1.05"/>
<polygon points="303.59999999999997,342.1 312.59999999999997,337.1 312.59999999999997,347.1" fill="#246fad" stroke="#0c2540" stroke-width="1.05"/>
<polygon points="363.99999999999994,426.3 374.59999999999997,426.3 369.29999999999995,434.3" fill="#246fad" stroke="#0c2540" stroke-width="1.05"/>
<polygon points="363.99999999999994,442.3 374.59999999999997,442.3 369.29999999999995,434.3" fill="#246fad" stroke="#0c2540" stroke-width="1.05"/>
<polygon points="369.29999999999995,434.3 378.29999999999995,429.3 378.29999999999995,439.3" fill="#246fad" stroke="#0c2540" stroke-width="1.05"/>
<rect x="278.80" y="373.30" width="116.50" height="28.80" fill="#d6d6d6" stroke="#2e2e2e" stroke-width="1.2" />
<rect x="283.30" y="374.50" width="9.00" height="13.50" fill="#e6e6e6" stroke="none" stroke-width="1" />
<rect x="381.80" y="374.50" width="9.00" height="13.50" fill="#e6e6e6" stroke="none" stroke-width="1" />
<rect x="291.80" y="374.50" width="90.50" height="13.50" fill="#ffffff" stroke="none" stroke-width="1" />
<rect x="288.20" y="388.00" width="97.70" height="9.70" fill="#ffffff" stroke="none" stroke-width="1" />
<line x1="278.80" y1="388.00" x2="396.30" y2="388.00" stroke="#111" stroke-width="1.4" stroke-dasharray="3,2.2"/>
<rect x="288.60" y="384.60" width="3.60" height="3.30" fill="#111" stroke="none" stroke-width="1" />
<rect x="382.10" y="384.60" width="3.60" height="3.30" fill="#111" stroke="none" stroke-width="1" />
<rect x="278.80" y="459.80" width="116.50" height="28.30" fill="#d6d6d6" stroke="#2e2e2e" stroke-width="1.2" />
<rect x="283.30" y="463.10" width="9.00" height="11.20" fill="#e6e6e6" stroke="none" stroke-width="1" />
<rect x="381.80" y="463.10" width="9.00" height="11.20" fill="#e6e6e6" stroke="none" stroke-width="1" />
<rect x="291.80" y="463.10" width="90.50" height="11.20" fill="#ffffff" stroke="none" stroke-width="1" />
<rect x="288.20" y="474.30" width="97.70" height="9.40" fill="#ffffff" stroke="none" stroke-width="1" />
<line x1="278.80" y1="474.30" x2="396.30" y2="474.30" stroke="#111" stroke-width="1.2" stroke-dasharray="1.2,1.3"/>
<rect x="288.60" y="470.90" width="3.60" height="3.30" fill="#111" stroke="none" stroke-width="1" />
<rect x="382.10" y="470.90" width="3.60" height="3.30" fill="#111" stroke="none" stroke-width="1" />
<text x="335.60" y="357.80" font-size="8.2" text-anchor="middle" fill="#333" stroke="#333" stroke-width="0.28" >Sample</text>
<text x="336.70" y="367.10" font-size="8.2" text-anchor="middle" fill="#333" stroke="#333" stroke-width="0.28" >chamber (C1)</text>
<text x="342.40" y="422.80" font-size="8.2" text-anchor="middle" fill="#333" stroke="#333" stroke-width="0.28" >Isolation</text>
<text x="342.40" y="432.10" font-size="8.2" text-anchor="middle" fill="#333" stroke="#333" stroke-width="0.28" >chamber</text>
<text x="342.80" y="441.20" font-size="8.2" text-anchor="middle" fill="#333" stroke="#333" stroke-width="0.28" >(C2)</text>
<text x="328.20" y="499.30" font-size="8.2" text-anchor="middle" fill="#333" stroke="#333" stroke-width="0.28" >Waste chamber</text>
<text x="329.70" y="508.80" font-size="8.2" text-anchor="middle" fill="#333" stroke="#333" stroke-width="0.28" >(C3)</text>
<circle cx="308.80" cy="378.90" r="1.90" fill="#1e8a4c" stroke="none" stroke-width="1" />
<circle cx="332.30" cy="378.90" r="1.90" fill="#1e8a4c" stroke="none" stroke-width="1" />
<circle cx="336.20" cy="384.40" r="1.90" fill="#1e8a4c" stroke="none" stroke-width="1" />
<circle cx="357.00" cy="379.80" r="1.90" fill="#1e8a4c" stroke="none" stroke-width="1" />
<circle cx="368.50" cy="385.00" r="1.90" fill="#1e8a4c" stroke="none" stroke-width="1" />
<circle cx="305.10" cy="392.00" r="1.90" fill="#1e8a4c" stroke="none" stroke-width="1" />
<circle cx="316.70" cy="389.90" r="1.90" fill="#1e8a4c" stroke="none" stroke-width="1" />
<circle cx="323.40" cy="392.60" r="1.90" fill="#1e8a4c" stroke="none" stroke-width="1" />
<circle cx="336.20" cy="396.00" r="1.90" fill="#1e8a4c" stroke="none" stroke-width="1" />
<circle cx="345.40" cy="392.00" r="1.90" fill="#1e8a4c" stroke="none" stroke-width="1" />
<circle cx="357.60" cy="393.50" r="1.90" fill="#1e8a4c" stroke="none" stroke-width="1" />
<circle cx="372.20" cy="392.00" r="1.90" fill="#1e8a4c" stroke="none" stroke-width="1" />
<circle cx="369.80" cy="372.20" r="1.90" fill="#1e8a4c" stroke="none" stroke-width="1" />
<circle cx="305.10" cy="364.60" r="1.90" fill="#1e8a4c" stroke="none" stroke-width="1" />
<circle cx="304.80" cy="405.70" r="1.90" fill="#1e8a4c" stroke="none" stroke-width="1" />
<circle cx="304.80" cy="413.40" r="1.90" fill="#1e8a4c" stroke="none" stroke-width="1" />
<circle cx="302.70" cy="446.00" r="1.90" fill="#1e8a4c" stroke="none" stroke-width="1" />
<circle cx="305.10" cy="453.90" r="1.90" fill="#1e8a4c" stroke="none" stroke-width="1" />
<circle cx="302.70" cy="460.00" r="1.90" fill="#1e8a4c" stroke="none" stroke-width="1" />
<circle cx="370.40" cy="406.30" r="1.90" fill="#1e8a4c" stroke="none" stroke-width="1" />
<circle cx="370.40" cy="415.50" r="1.90" fill="#1e8a4c" stroke="none" stroke-width="1" />
<circle cx="368.50" cy="450.50" r="1.90" fill="#1e8a4c" stroke="none" stroke-width="1" />
<circle cx="366.70" cy="461.50" r="1.90" fill="#1e8a4c" stroke="none" stroke-width="1" />
<circle cx="385.00" cy="434.70" r="1.90" fill="#1e8a4c" stroke="none" stroke-width="1" />
<circle cx="391.10" cy="434.70" r="1.90" fill="#1e8a4c" stroke="none" stroke-width="1" />
<circle cx="397.20" cy="434.70" r="1.90" fill="#1e8a4c" stroke="none" stroke-width="1" />
<circle cx="300.50" cy="464.60" r="1.90" fill="#1e8a4c" stroke="none" stroke-width="1" />
<circle cx="305.70" cy="467.30" r="1.90" fill="#1e8a4c" stroke="none" stroke-width="1" />
<circle cx="314.90" cy="467.30" r="1.90" fill="#1e8a4c" stroke="none" stroke-width="1" />
<circle cx="324.60" cy="468.80" r="1.90" fill="#1e8a4c" stroke="none" stroke-width="1" />
<circle cx="332.60" cy="466.70" r="1.90" fill="#1e8a4c" stroke="none" stroke-width="1" />
<circle cx="336.20" cy="469.10" r="1.90" fill="#1e8a4c" stroke="none" stroke-width="1" />
<circle cx="342.30" cy="467.30" r="1.90" fill="#1e8a4c" stroke="none" stroke-width="1" />
<circle cx="348.40" cy="468.80" r="1.90" fill="#1e8a4c" stroke="none" stroke-width="1" />
<circle cx="357.60" cy="467.30" r="1.90" fill="#1e8a4c" stroke="none" stroke-width="1" />
<circle cx="362.10" cy="469.80" r="1.90" fill="#1e8a4c" stroke="none" stroke-width="1" />
<circle cx="371.30" cy="468.20" r="1.90" fill="#1e8a4c" stroke="none" stroke-width="1" />
<circle cx="304.20" cy="469.80" r="1.90" fill="#1e8a4c" stroke="none" stroke-width="1" />
<circle cx="303.80" cy="323.30" r="1.90" fill="#1e8a4c" stroke="none" stroke-width="1" />
<circle cx="324.90" cy="342.90" r="1.90" fill="#1e8a4c" stroke="none" stroke-width="1" />
<circle cx="348.80" cy="342.90" r="1.90" fill="#1e8a4c" stroke="none" stroke-width="1" />
<circle cx="304.70" cy="365.10" r="1.90" fill="#1e8a4c" stroke="none" stroke-width="1" />
<line x1="131.60" y1="372.20" x2="153.30" y2="310.00" stroke="#8a8a8a" stroke-width="0.9" stroke-dasharray="2,2"/>
<line x1="133.00" y1="388.50" x2="153.30" y2="406.50" stroke="#8a8a8a" stroke-width="0.9" stroke-dasharray="2,2"/>
<line x1="131.60" y1="457.70" x2="153.30" y2="413.20" stroke="#8a8a8a" stroke-width="0.9" stroke-dasharray="2,2"/>
<line x1="131.60" y1="476.40" x2="153.30" y2="510.00" stroke="#8a8a8a" stroke-width="0.9" stroke-dasharray="2,2"/>
<line x1="395.80" y1="373.50" x2="417.20" y2="309.50" stroke="#8a8a8a" stroke-width="0.9" stroke-dasharray="2,2"/>
<line x1="397.00" y1="390.00" x2="417.20" y2="406.00" stroke="#8a8a8a" stroke-width="0.9" stroke-dasharray="2,2"/>
<line x1="395.80" y1="459.50" x2="417.80" y2="414.20" stroke="#8a8a8a" stroke-width="0.9" stroke-dasharray="2,2"/>
<line x1="395.80" y1="478.00" x2="417.80" y2="510.50" stroke="#8a8a8a" stroke-width="0.9" stroke-dasharray="2,2"/>
<rect x="153.50" y="309.50" width="97.50" height="97.50" fill="#7a7a7a" stroke="none" stroke-width="1" />
<circle cx="166.96" cy="314.27" r="2.00" fill="none" stroke="#b4b4b4" stroke-width="0.9" />
<circle cx="166.96" cy="314.27" r="1.10" fill="#1e1e1e" stroke="none" stroke-width="1" />
<circle cx="176.46" cy="311.06" r="2.00" fill="none" stroke="#b4b4b4" stroke-width="0.9" />
<circle cx="176.46" cy="311.06" r="1.10" fill="#1e1e1e" stroke="none" stroke-width="1" />
<circle cx="199.44" cy="312.33" r="2.00" fill="none" stroke="#b4b4b4" stroke-width="0.9" />
<circle cx="199.44" cy="312.33" r="1.10" fill="#1e1e1e" stroke="none" stroke-width="1" />
<circle cx="209.03" cy="315.15" r="2.00" fill="none" stroke="#b4b4b4" stroke-width="0.9" />
<circle cx="209.03" cy="315.15" r="1.10" fill="#1e1e1e" stroke="none" stroke-width="1" />
<circle cx="216.90" cy="314.92" r="2.00" fill="none" stroke="#b4b4b4" stroke-width="0.9" />
<circle cx="216.90" cy="314.92" r="1.10" fill="#1e1e1e" stroke="none" stroke-width="1" />
<circle cx="230.69" cy="314.02" r="2.00" fill="none" stroke="#b4b4b4" stroke-width="0.9" />
<circle cx="230.69" cy="314.02" r="1.10" fill="#1e1e1e" stroke="none" stroke-width="1" />
<circle cx="242.30" cy="314.79" r="2.00" fill="none" stroke="#b4b4b4" stroke-width="0.9" />
<circle cx="242.30" cy="314.79" r="1.10" fill="#1e1e1e" stroke="none" stroke-width="1" />
<circle cx="246.53" cy="321.00" r="2.00" fill="none" stroke="#b4b4b4" stroke-width="0.9" />
<circle cx="246.53" cy="321.00" r="1.10" fill="#1e1e1e" stroke="none" stroke-width="1" />
<circle cx="166.00" cy="320.85" r="2.00" fill="none" stroke="#b4b4b4" stroke-width="0.9" />
<circle cx="166.00" cy="320.85" r="1.10" fill="#1e1e1e" stroke="none" stroke-width="1" />
<circle cx="174.72" cy="320.39" r="2.00" fill="none" stroke="#b4b4b4" stroke-width="0.9" />
<circle cx="174.72" cy="320.39" r="1.10" fill="#1e1e1e" stroke="none" stroke-width="1" />
<circle cx="180.71" cy="321.31" r="2.00" fill="none" stroke="#b4b4b4" stroke-width="0.9" />
<circle cx="180.71" cy="321.31" r="1.10" fill="#1e1e1e" stroke="none" stroke-width="1" />
<circle cx="197.27" cy="320.07" r="2.00" fill="none" stroke="#b4b4b4" stroke-width="0.9" />
<circle cx="197.27" cy="320.07" r="1.10" fill="#1e1e1e" stroke="none" stroke-width="1" />
<circle cx="205.75" cy="317.87" r="2.00" fill="none" stroke="#b4b4b4" stroke-width="0.9" />
<circle cx="205.75" cy="317.87" r="1.10" fill="#1e1e1e" stroke="none" stroke-width="1" />
<circle cx="225.37" cy="319.08" r="2.00" fill="none" stroke="#b4b4b4" stroke-width="0.9" />
<circle cx="225.37" cy="319.08" r="1.10" fill="#1e1e1e" stroke="none" stroke-width="1" />
<circle cx="232.84" cy="324.51" r="2.00" fill="none" stroke="#b4b4b4" stroke-width="0.9" />
<circle cx="232.84" cy="324.51" r="1.10" fill="#1e1e1e" stroke="none" stroke-width="1" />
<circle cx="161.86" cy="329.67" r="2.00" fill="none" stroke="#b4b4b4" stroke-width="0.9" />
<circle cx="161.86" cy="329.67" r="1.10" fill="#1e1e1e" stroke="none" stroke-width="1" />
<circle cx="172.26" cy="329.37" r="2.00" fill="none" stroke="#b4b4b4" stroke-width="0.9" />
<circle cx="172.26" cy="329.37" r="1.10" fill="#1e1e1e" stroke="none" stroke-width="1" />
<circle cx="193.46" cy="329.31" r="2.00" fill="none" stroke="#b4b4b4" stroke-width="0.9" />
<circle cx="193.46" cy="329.31" r="1.10" fill="#1e1e1e" stroke="none" stroke-width="1" />
<circle cx="203.47" cy="328.96" r="2.00" fill="none" stroke="#b4b4b4" stroke-width="0.9" />
<circle cx="203.47" cy="328.96" r="1.10" fill="#1e1e1e" stroke="none" stroke-width="1" />
<circle cx="213.13" cy="329.11" r="2.00" fill="none" stroke="#b4b4b4" stroke-width="0.9" />
<circle cx="213.13" cy="329.11" r="1.10" fill="#1e1e1e" stroke="none" stroke-width="1" />
<circle cx="220.16" cy="333.15" r="2.00" fill="none" stroke="#b4b4b4" stroke-width="0.9" />
<circle cx="220.16" cy="333.15" r="1.10" fill="#1e1e1e" stroke="none" stroke-width="1" />
<circle cx="227.41" cy="329.64" r="2.00" fill="none" stroke="#b4b4b4" stroke-width="0.9" />
<circle cx="227.41" cy="329.64" r="1.10" fill="#1e1e1e" stroke="none" stroke-width="1" />
<circle cx="236.36" cy="331.56" r="2.00" fill="none" stroke="#b4b4b4" stroke-width="0.9" />
<circle cx="236.36" cy="331.56" r="1.10" fill="#1e1e1e" stroke="none" stroke-width="1" />
<circle cx="156.15" cy="335.59" r="2.00" fill="none" stroke="#b4b4b4" stroke-width="0.9" />
<circle cx="156.15" cy="335.59" r="1.10" fill="#1e1e1e" stroke="none" stroke-width="1" />
<circle cx="164.90" cy="337.42" r="2.00" fill="none" stroke="#b4b4b4" stroke-width="0.9" />
<circle cx="164.90" cy="337.42" r="1.10" fill="#1e1e1e" stroke="none" stroke-width="1" />
<circle cx="178.64" cy="337.20" r="2.00" fill="none" stroke="#b4b4b4" stroke-width="0.9" />
<circle cx="178.64" cy="337.20" r="1.10" fill="#1e1e1e" stroke="none" stroke-width="1" />
<circle cx="182.77" cy="342.81" r="2.00" fill="none" stroke="#b4b4b4" stroke-width="0.9" />
<circle cx="182.77" cy="342.81" r="1.10" fill="#1e1e1e" stroke="none" stroke-width="1" />
<circle cx="195.54" cy="341.38" r="2.00" fill="none" stroke="#b4b4b4" stroke-width="0.9" />
<circle cx="195.54" cy="341.38" r="1.10" fill="#1e1e1e" stroke="none" stroke-width="1" />
<circle cx="202.67" cy="337.34" r="2.00" fill="none" stroke="#b4b4b4" stroke-width="0.9" />
<circle cx="202.67" cy="337.34" r="1.10" fill="#1e1e1e" stroke="none" stroke-width="1" />
<circle cx="215.27" cy="338.36" r="2.00" fill="none" stroke="#b4b4b4" stroke-width="0.9" />
<circle cx="215.27" cy="338.36" r="1.10" fill="#1e1e1e" stroke="none" stroke-width="1" />
<circle cx="226.65" cy="337.11" r="2.00" fill="none" stroke="#b4b4b4" stroke-width="0.9" />
<circle cx="226.65" cy="337.11" r="1.10" fill="#1e1e1e" stroke="none" stroke-width="1" />
<circle cx="233.29" cy="342.90" r="2.00" fill="none" stroke="#b4b4b4" stroke-width="0.9" />
<circle cx="233.29" cy="342.90" r="1.10" fill="#1e1e1e" stroke="none" stroke-width="1" />
<circle cx="243.25" cy="341.48" r="2.00" fill="none" stroke="#b4b4b4" stroke-width="0.9" />
<circle cx="243.25" cy="341.48" r="1.10" fill="#1e1e1e" stroke="none" stroke-width="1" />
<circle cx="156.12" cy="342.70" r="2.00" fill="none" stroke="#b4b4b4" stroke-width="0.9" />
<circle cx="156.12" cy="342.70" r="1.10" fill="#1e1e1e" stroke="none" stroke-width="1" />
<circle cx="170.05" cy="347.66" r="2.00" fill="none" stroke="#b4b4b4" stroke-width="0.9" />
<circle cx="170.05" cy="347.66" r="1.10" fill="#1e1e1e" stroke="none" stroke-width="1" />
<circle cx="188.56" cy="342.60" r="2.00" fill="none" stroke="#b4b4b4" stroke-width="0.9" />
<circle cx="188.56" cy="342.60" r="1.10" fill="#1e1e1e" stroke="none" stroke-width="1" />
<circle cx="189.27" cy="348.32" r="2.00" fill="none" stroke="#b4b4b4" stroke-width="0.9" />
<circle cx="189.27" cy="348.32" r="1.10" fill="#1e1e1e" stroke="none" stroke-width="1" />
<circle cx="210.69" cy="352.98" r="2.00" fill="none" stroke="#b4b4b4" stroke-width="0.9" />
<circle cx="210.69" cy="352.98" r="1.10" fill="#1e1e1e" stroke="none" stroke-width="1" />
<circle cx="216.77" cy="354.74" r="2.00" fill="none" stroke="#b4b4b4" stroke-width="0.9" />
<circle cx="216.77" cy="354.74" r="1.10" fill="#1e1e1e" stroke="none" stroke-width="1" />
<circle cx="221.81" cy="355.36" r="2.00" fill="none" stroke="#b4b4b4" stroke-width="0.9" />
<circle cx="221.81" cy="355.36" r="1.10" fill="#1e1e1e" stroke="none" stroke-width="1" />
<circle cx="229.73" cy="347.82" r="2.00" fill="none" stroke="#b4b4b4" stroke-width="0.9" />
<circle cx="229.73" cy="347.82" r="1.10" fill="#1e1e1e" stroke="none" stroke-width="1" />
<circle cx="240.43" cy="348.48" r="2.00" fill="none" stroke="#b4b4b4" stroke-width="0.9" />
<circle cx="240.43" cy="348.48" r="1.10" fill="#1e1e1e" stroke="none" stroke-width="1" />
<circle cx="245.42" cy="357.85" r="2.00" fill="none" stroke="#b4b4b4" stroke-width="0.9" />
<circle cx="245.42" cy="357.85" r="1.10" fill="#1e1e1e" stroke="none" stroke-width="1" />
<circle cx="167.55" cy="354.02" r="2.00" fill="none" stroke="#b4b4b4" stroke-width="0.9" />
<circle cx="167.55" cy="354.02" r="1.10" fill="#1e1e1e" stroke="none" stroke-width="1" />
<circle cx="174.25" cy="364.18" r="2.00" fill="none" stroke="#b4b4b4" stroke-width="0.9" />
<circle cx="174.25" cy="364.18" r="1.10" fill="#1e1e1e" stroke="none" stroke-width="1" />
<circle cx="191.93" cy="358.79" r="2.00" fill="none" stroke="#b4b4b4" stroke-width="0.9" />
<circle cx="191.93" cy="358.79" r="1.10" fill="#1e1e1e" stroke="none" stroke-width="1" />
<circle cx="209.09" cy="360.74" r="2.00" fill="none" stroke="#b4b4b4" stroke-width="0.9" />
<circle cx="209.09" cy="360.74" r="1.10" fill="#1e1e1e" stroke="none" stroke-width="1" />
<circle cx="213.76" cy="360.54" r="2.00" fill="none" stroke="#b4b4b4" stroke-width="0.9" />
<circle cx="213.76" cy="360.54" r="1.10" fill="#1e1e1e" stroke="none" stroke-width="1" />
<circle cx="220.24" cy="361.49" r="2.00" fill="none" stroke="#b4b4b4" stroke-width="0.9" />
<circle cx="220.24" cy="361.49" r="1.10" fill="#1e1e1e" stroke="none" stroke-width="1" />
<circle cx="234.80" cy="356.94" r="2.00" fill="none" stroke="#b4b4b4" stroke-width="0.9" />
<circle cx="234.80" cy="356.94" r="1.10" fill="#1e1e1e" stroke="none" stroke-width="1" />
<circle cx="169.48" cy="371.88" r="2.00" fill="none" stroke="#b4b4b4" stroke-width="0.9" />
<circle cx="169.48" cy="371.88" r="1.10" fill="#1e1e1e" stroke="none" stroke-width="1" />
<circle cx="177.64" cy="373.57" r="2.00" fill="none" stroke="#b4b4b4" stroke-width="0.9" />
<circle cx="177.64" cy="373.57" r="1.10" fill="#1e1e1e" stroke="none" stroke-width="1" />
<circle cx="188.32" cy="365.65" r="2.00" fill="none" stroke="#b4b4b4" stroke-width="0.9" />
<circle cx="188.32" cy="365.65" r="1.10" fill="#1e1e1e" stroke="none" stroke-width="1" />
<circle cx="195.55" cy="369.61" r="2.00" fill="none" stroke="#b4b4b4" stroke-width="0.9" />
<circle cx="195.55" cy="369.61" r="1.10" fill="#1e1e1e" stroke="none" stroke-width="1" />
<circle cx="200.33" cy="374.81" r="2.00" fill="none" stroke="#b4b4b4" stroke-width="0.9" />
<circle cx="200.33" cy="374.81" r="1.10" fill="#1e1e1e" stroke="none" stroke-width="1" />
<circle cx="206.07" cy="372.28" r="2.00" fill="none" stroke="#b4b4b4" stroke-width="0.9" />
<circle cx="206.07" cy="372.28" r="1.10" fill="#1e1e1e" stroke="none" stroke-width="1" />
<circle cx="217.09" cy="369.85" r="2.00" fill="none" stroke="#b4b4b4" stroke-width="0.9" />
<circle cx="217.09" cy="369.85" r="1.10" fill="#1e1e1e" stroke="none" stroke-width="1" />
<circle cx="222.78" cy="372.26" r="2.00" fill="none" stroke="#b4b4b4" stroke-width="0.9" />
<circle cx="222.78" cy="372.26" r="1.10" fill="#1e1e1e" stroke="none" stroke-width="1" />
<circle cx="229.08" cy="376.13" r="2.00" fill="none" stroke="#b4b4b4" stroke-width="0.9" />
<circle cx="229.08" cy="376.13" r="1.10" fill="#1e1e1e" stroke="none" stroke-width="1" />
<circle cx="234.76" cy="371.67" r="2.00" fill="none" stroke="#b4b4b4" stroke-width="0.9" />
<circle cx="234.76" cy="371.67" r="1.10" fill="#1e1e1e" stroke="none" stroke-width="1" />
<circle cx="245.55" cy="370.11" r="2.00" fill="none" stroke="#b4b4b4" stroke-width="0.9" />
<circle cx="245.55" cy="370.11" r="1.10" fill="#1e1e1e" stroke="none" stroke-width="1" />
<circle cx="165.51" cy="380.09" r="2.00" fill="none" stroke="#b4b4b4" stroke-width="0.9" />
<circle cx="165.51" cy="380.09" r="1.10" fill="#1e1e1e" stroke="none" stroke-width="1" />
<circle cx="174.27" cy="380.07" r="2.00" fill="none" stroke="#b4b4b4" stroke-width="0.9" />
<circle cx="174.27" cy="380.07" r="1.10" fill="#1e1e1e" stroke="none" stroke-width="1" />
<circle cx="182.71" cy="377.82" r="2.00" fill="none" stroke="#b4b4b4" stroke-width="0.9" />
<circle cx="182.71" cy="377.82" r="1.10" fill="#1e1e1e" stroke="none" stroke-width="1" />
<circle cx="190.57" cy="377.80" r="2.00" fill="none" stroke="#b4b4b4" stroke-width="0.9" />
<circle cx="190.57" cy="377.80" r="1.10" fill="#1e1e1e" stroke="none" stroke-width="1" />
<circle cx="201.91" cy="377.59" r="2.00" fill="none" stroke="#b4b4b4" stroke-width="0.9" />
<circle cx="201.91" cy="377.59" r="1.10" fill="#1e1e1e" stroke="none" stroke-width="1" />
<circle cx="221.10" cy="377.33" r="2.00" fill="none" stroke="#b4b4b4" stroke-width="0.9" />
<circle cx="221.10" cy="377.33" r="1.10" fill="#1e1e1e" stroke="none" stroke-width="1" />
<circle cx="229.69" cy="382.11" r="2.00" fill="none" stroke="#b4b4b4" stroke-width="0.9" />
<circle cx="229.69" cy="382.11" r="1.10" fill="#1e1e1e" stroke="none" stroke-width="1" />
<circle cx="239.31" cy="380.29" r="2.00" fill="none" stroke="#b4b4b4" stroke-width="0.9" />
<circle cx="239.31" cy="380.29" r="1.10" fill="#1e1e1e" stroke="none" stroke-width="1" />
<circle cx="170.34" cy="387.92" r="2.00" fill="none" stroke="#b4b4b4" stroke-width="0.9" />
<circle cx="170.34" cy="387.92" r="1.10" fill="#1e1e1e" stroke="none" stroke-width="1" />
<circle cx="182.36" cy="388.48" r="2.00" fill="none" stroke="#b4b4b4" stroke-width="0.9" />
<circle cx="182.36" cy="388.48" r="1.10" fill="#1e1e1e" stroke="none" stroke-width="1" />
<circle cx="210.13" cy="389.85" r="2.00" fill="none" stroke="#b4b4b4" stroke-width="0.9" />
<circle cx="210.13" cy="389.85" r="1.10" fill="#1e1e1e" stroke="none" stroke-width="1" />
<circle cx="224.68" cy="391.84" r="2.00" fill="none" stroke="#b4b4b4" stroke-width="0.9" />
<circle cx="224.68" cy="391.84" r="1.10" fill="#1e1e1e" stroke="none" stroke-width="1" />
<circle cx="232.73" cy="388.07" r="2.00" fill="none" stroke="#b4b4b4" stroke-width="0.9" />
<circle cx="232.73" cy="388.07" r="1.10" fill="#1e1e1e" stroke="none" stroke-width="1" />
<circle cx="244.99" cy="388.41" r="2.00" fill="none" stroke="#b4b4b4" stroke-width="0.9" />
<circle cx="244.99" cy="388.41" r="1.10" fill="#1e1e1e" stroke="none" stroke-width="1" />
<circle cx="178.50" cy="395.92" r="2.00" fill="none" stroke="#b4b4b4" stroke-width="0.9" />
<circle cx="178.50" cy="395.92" r="1.10" fill="#1e1e1e" stroke="none" stroke-width="1" />
<circle cx="210.85" cy="398.11" r="2.00" fill="none" stroke="#b4b4b4" stroke-width="0.9" />
<circle cx="210.85" cy="398.11" r="1.10" fill="#1e1e1e" stroke="none" stroke-width="1" />
<circle cx="222.97" cy="400.05" r="2.00" fill="none" stroke="#b4b4b4" stroke-width="0.9" />
<circle cx="222.97" cy="400.05" r="1.10" fill="#1e1e1e" stroke="none" stroke-width="1" />
<circle cx="231.83" cy="396.98" r="2.00" fill="none" stroke="#b4b4b4" stroke-width="0.9" />
<circle cx="231.83" cy="396.98" r="1.10" fill="#1e1e1e" stroke="none" stroke-width="1" />
<circle cx="241.12" cy="400.44" r="2.00" fill="none" stroke="#b4b4b4" stroke-width="0.9" />
<circle cx="241.12" cy="400.44" r="1.10" fill="#1e1e1e" stroke="none" stroke-width="1" />
<circle cx="247.34" cy="395.86" r="2.00" fill="none" stroke="#b4b4b4" stroke-width="0.9" />
<circle cx="247.34" cy="395.86" r="1.10" fill="#1e1e1e" stroke="none" stroke-width="1" />
<circle cx="156.25" cy="394.49" r="2.00" fill="none" stroke="#b4b4b4" stroke-width="0.9" />
<circle cx="156.25" cy="394.49" r="1.10" fill="#1e1e1e" stroke="none" stroke-width="1" />
<circle cx="170.49" cy="400.51" r="2.00" fill="none" stroke="#b4b4b4" stroke-width="0.9" />
<circle cx="170.49" cy="400.51" r="1.10" fill="#1e1e1e" stroke="none" stroke-width="1" />
<circle cx="202.31" cy="402.27" r="2.00" fill="none" stroke="#b4b4b4" stroke-width="0.9" />
<circle cx="202.31" cy="402.27" r="1.10" fill="#1e1e1e" stroke="none" stroke-width="1" />
<circle cx="216.55" cy="402.52" r="2.00" fill="none" stroke="#b4b4b4" stroke-width="0.9" />
<circle cx="216.55" cy="402.52" r="1.10" fill="#1e1e1e" stroke="none" stroke-width="1" />
<circle cx="158.61" cy="329.01" r="4.00" fill="#2e2e2e" stroke="none" stroke-width="1" opacity="0.4"/>
<circle cx="158.11" cy="328.31" r="3.70" fill="#d0d0d0" stroke="none" stroke-width="1" />
<circle cx="158.11" cy="328.31" r="2.60" fill="#ababab" stroke="none" stroke-width="1" />
<circle cx="186.99" cy="326.99" r="4.00" fill="#2e2e2e" stroke="none" stroke-width="1" opacity="0.4"/>
<circle cx="186.49" cy="326.29" r="3.70" fill="#d0d0d0" stroke="none" stroke-width="1" />
<circle cx="186.49" cy="326.29" r="2.60" fill="#ababab" stroke="none" stroke-width="1" />
<circle cx="191.04" cy="336.51" r="4.00" fill="#2e2e2e" stroke="none" stroke-width="1" opacity="0.4"/>
<circle cx="190.54" cy="335.81" r="3.70" fill="#d0d0d0" stroke="none" stroke-width="1" />
<circle cx="190.54" cy="335.81" r="2.60" fill="#ababab" stroke="none" stroke-width="1" />
<circle cx="172.80" cy="342.19" r="4.00" fill="#2e2e2e" stroke="none" stroke-width="1" opacity="0.4"/>
<circle cx="172.30" cy="341.49" r="3.70" fill="#d0d0d0" stroke="none" stroke-width="1" />
<circle cx="172.30" cy="341.49" r="2.60" fill="#ababab" stroke="none" stroke-width="1" />
<circle cx="211.31" cy="346.24" r="4.00" fill="#2e2e2e" stroke="none" stroke-width="1" opacity="0.4"/>
<circle cx="210.81" cy="345.54" r="3.70" fill="#d0d0d0" stroke="none" stroke-width="1" />
<circle cx="210.81" cy="345.54" r="2.60" fill="#ababab" stroke="none" stroke-width="1" />
<circle cx="197.53" cy="350.30" r="4.00" fill="#2e2e2e" stroke="none" stroke-width="1" opacity="0.4"/>
<circle cx="197.03" cy="349.60" r="3.70" fill="#d0d0d0" stroke="none" stroke-width="1" />
<circle cx="197.03" cy="349.60" r="2.60" fill="#ababab" stroke="none" stroke-width="1" />
<circle cx="202.80" cy="357.39" r="4.00" fill="#2e2e2e" stroke="none" stroke-width="1" opacity="0.4"/>
<circle cx="202.30" cy="356.69" r="3.70" fill="#d0d0d0" stroke="none" stroke-width="1" />
<circle cx="202.30" cy="356.69" r="2.60" fill="#ababab" stroke="none" stroke-width="1" />
<circle cx="158.20" cy="354.76" r="4.00" fill="#2e2e2e" stroke="none" stroke-width="1" opacity="0.4"/>
<circle cx="157.70" cy="354.06" r="3.70" fill="#d0d0d0" stroke="none" stroke-width="1" />
<circle cx="157.70" cy="354.06" r="2.60" fill="#ababab" stroke="none" stroke-width="1" />
<circle cx="163.07" cy="360.84" r="4.00" fill="#2e2e2e" stroke="none" stroke-width="1" opacity="0.4"/>
<circle cx="162.57" cy="360.14" r="3.70" fill="#d0d0d0" stroke="none" stroke-width="1" />
<circle cx="162.57" cy="360.14" r="2.60" fill="#ababab" stroke="none" stroke-width="1" />
<circle cx="228.55" cy="358.81" r="4.00" fill="#2e2e2e" stroke="none" stroke-width="1" opacity="0.4"/>
<circle cx="228.05" cy="358.11" r="3.70" fill="#d0d0d0" stroke="none" stroke-width="1" />
<circle cx="228.05" cy="358.11" r="2.60" fill="#ababab" stroke="none" stroke-width="1" />
<circle cx="233.61" cy="364.89" r="4.00" fill="#2e2e2e" stroke="none" stroke-width="1" opacity="0.4"/>
<circle cx="233.11" cy="364.19" r="3.70" fill="#d0d0d0" stroke="none" stroke-width="1" />
<circle cx="233.11" cy="364.19" r="2.60" fill="#ababab" stroke="none" stroke-width="1" />
<circle cx="240.71" cy="366.51" r="4.00" fill="#2e2e2e" stroke="none" stroke-width="1" opacity="0.4"/>
<circle cx="240.21" cy="365.81" r="3.70" fill="#d0d0d0" stroke="none" stroke-width="1" />
<circle cx="240.21" cy="365.81" r="2.60" fill="#ababab" stroke="none" stroke-width="1" />
<circle cx="243.75" cy="374.62" r="4.00" fill="#2e2e2e" stroke="none" stroke-width="1" opacity="0.4"/>
<circle cx="243.25" cy="373.92" r="3.70" fill="#d0d0d0" stroke="none" stroke-width="1" />
<circle cx="243.25" cy="373.92" r="2.60" fill="#ababab" stroke="none" stroke-width="1" />
<circle cx="242.74" cy="330.43" r="4.00" fill="#2e2e2e" stroke="none" stroke-width="1" opacity="0.4"/>
<circle cx="242.24" cy="329.73" r="3.70" fill="#d0d0d0" stroke="none" stroke-width="1" />
<circle cx="242.24" cy="329.73" r="2.60" fill="#ababab" stroke="none" stroke-width="1" />
<circle cx="183.95" cy="371.58" r="4.00" fill="#2e2e2e" stroke="none" stroke-width="1" opacity="0.4"/>
<circle cx="183.45" cy="370.88" r="3.70" fill="#d0d0d0" stroke="none" stroke-width="1" />
<circle cx="183.45" cy="370.88" r="2.60" fill="#ababab" stroke="none" stroke-width="1" />
<circle cx="158.20" cy="370.57" r="4.00" fill="#2e2e2e" stroke="none" stroke-width="1" opacity="0.4"/>
<circle cx="157.70" cy="369.87" r="3.70" fill="#d0d0d0" stroke="none" stroke-width="1" />
<circle cx="157.70" cy="369.87" r="2.60" fill="#ababab" stroke="none" stroke-width="1" />
<circle cx="161.65" cy="388.81" r="4.00" fill="#2e2e2e" stroke="none" stroke-width="1" opacity="0.4"/>
<circle cx="161.15" cy="388.11" r="3.70" fill="#d0d0d0" stroke="none" stroke-width="1" />
<circle cx="161.15" cy="388.11" r="2.60" fill="#ababab" stroke="none" stroke-width="1" />
<circle cx="199.15" cy="384.76" r="4.00" fill="#2e2e2e" stroke="none" stroke-width="1" opacity="0.4"/>
<circle cx="198.65" cy="384.06" r="3.70" fill="#d0d0d0" stroke="none" stroke-width="1" />
<circle cx="198.65" cy="384.06" r="2.60" fill="#ababab" stroke="none" stroke-width="1" />
<circle cx="206.25" cy="384.76" r="4.00" fill="#2e2e2e" stroke="none" stroke-width="1" opacity="0.4"/>
<circle cx="205.75" cy="384.06" r="3.70" fill="#d0d0d0" stroke="none" stroke-width="1" />
<circle cx="205.75" cy="384.06" r="2.60" fill="#ababab" stroke="none" stroke-width="1" />
<circle cx="213.34" cy="382.33" r="4.00" fill="#2e2e2e" stroke="none" stroke-width="1" opacity="0.4"/>
<circle cx="212.84" cy="381.63" r="3.70" fill="#d0d0d0" stroke="none" stroke-width="1" />
<circle cx="212.84" cy="381.63" r="2.60" fill="#ababab" stroke="none" stroke-width="1" />
<circle cx="218.41" cy="388.81" r="4.00" fill="#2e2e2e" stroke="none" stroke-width="1" opacity="0.4"/>
<circle cx="217.91" cy="388.11" r="3.70" fill="#d0d0d0" stroke="none" stroke-width="1" />
<circle cx="217.91" cy="388.11" r="2.60" fill="#ababab" stroke="none" stroke-width="1" />
<circle cx="196.11" cy="391.85" r="4.00" fill="#2e2e2e" stroke="none" stroke-width="1" opacity="0.4"/>
<circle cx="195.61" cy="391.15" r="3.70" fill="#d0d0d0" stroke="none" stroke-width="1" />
<circle cx="195.61" cy="391.15" r="2.60" fill="#ababab" stroke="none" stroke-width="1" />
<circle cx="203.61" cy="391.85" r="4.00" fill="#2e2e2e" stroke="none" stroke-width="1" opacity="0.4"/>
<circle cx="203.11" cy="391.15" r="3.70" fill="#d0d0d0" stroke="none" stroke-width="1" />
<circle cx="203.11" cy="391.15" r="2.60" fill="#ababab" stroke="none" stroke-width="1" />
<circle cx="188.00" cy="403.00" r="4.00" fill="#2e2e2e" stroke="none" stroke-width="1" opacity="0.4"/>
<circle cx="187.50" cy="402.30" r="3.70" fill="#d0d0d0" stroke="none" stroke-width="1" />
<circle cx="187.50" cy="402.30" r="2.60" fill="#ababab" stroke="none" stroke-width="1" />
<circle cx="194.08" cy="404.02" r="4.00" fill="#2e2e2e" stroke="none" stroke-width="1" opacity="0.4"/>
<circle cx="193.58" cy="403.32" r="3.70" fill="#d0d0d0" stroke="none" stroke-width="1" />
<circle cx="193.58" cy="403.32" r="2.60" fill="#ababab" stroke="none" stroke-width="1" />
<circle cx="204.22" cy="331.04" r="4.00" fill="#2e2e2e" stroke="none" stroke-width="1" opacity="0.4"/>
<circle cx="203.72" cy="330.34" r="3.70" fill="#d0d0d0" stroke="none" stroke-width="1" />
<circle cx="203.72" cy="330.34" r="2.60" fill="#ababab" stroke="none" stroke-width="1" />
<circle cx="221.45" cy="344.22" r="4.00" fill="#2e2e2e" stroke="none" stroke-width="1" opacity="0.4"/>
<circle cx="220.95" cy="343.52" r="3.70" fill="#d0d0d0" stroke="none" stroke-width="1" />
<circle cx="220.95" cy="343.52" r="2.60" fill="#ababab" stroke="none" stroke-width="1" />
<rect x="153.30" y="413.00" width="98.00" height="97.20" fill="#6f6f6f" stroke="none" stroke-width="1" />
<circle cx="155.48" cy="424.70" r="0.42" fill="#9c9c9c" stroke="none" stroke-width="1" opacity="0.7"/>
<circle cx="219.95" cy="427.20" r="0.33" fill="#9c9c9c" stroke="none" stroke-width="1" opacity="0.7"/>
<circle cx="176.55" cy="486.12" r="0.34" fill="#9c9c9c" stroke="none" stroke-width="1" opacity="0.7"/>
<circle cx="225.40" cy="477.04" r="0.34" fill="#9c9c9c" stroke="none" stroke-width="1" opacity="0.7"/>
<circle cx="205.72" cy="456.63" r="0.42" fill="#9c9c9c" stroke="none" stroke-width="1" opacity="0.7"/>
<circle cx="249.95" cy="422.86" r="0.31" fill="#9c9c9c" stroke="none" stroke-width="1" opacity="0.7"/>
<circle cx="244.52" cy="452.36" r="0.36" fill="#9c9c9c" stroke="none" stroke-width="1" opacity="0.7"/>
<circle cx="186.01" cy="448.74" r="0.59" fill="#9c9c9c" stroke="none" stroke-width="1" opacity="0.7"/>
<circle cx="174.49" cy="434.65" r="0.48" fill="#9c9c9c" stroke="none" stroke-width="1" opacity="0.7"/>
<circle cx="206.85" cy="504.80" r="0.55" fill="#9c9c9c" stroke="none" stroke-width="1" opacity="0.7"/>
<circle cx="188.43" cy="433.41" r="0.55" fill="#9c9c9c" stroke="none" stroke-width="1" opacity="0.7"/>
<circle cx="249.24" cy="416.89" r="0.52" fill="#9c9c9c" stroke="none" stroke-width="1" opacity="0.7"/>
<circle cx="237.66" cy="475.99" r="0.37" fill="#9c9c9c" stroke="none" stroke-width="1" opacity="0.7"/>
<circle cx="230.77" cy="483.48" r="0.36" fill="#9c9c9c" stroke="none" stroke-width="1" opacity="0.7"/>
<circle cx="215.82" cy="434.87" r="0.31" fill="#9c9c9c" stroke="none" stroke-width="1" opacity="0.7"/>
<circle cx="186.56" cy="445.83" r="0.42" fill="#9c9c9c" stroke="none" stroke-width="1" opacity="0.7"/>
<circle cx="216.39" cy="493.60" r="0.59" fill="#9c9c9c" stroke="none" stroke-width="1" opacity="0.7"/>
<circle cx="248.04" cy="508.58" r="0.54" fill="#9c9c9c" stroke="none" stroke-width="1" opacity="0.7"/>
<circle cx="183.71" cy="430.78" r="0.49" fill="#9c9c9c" stroke="none" stroke-width="1" opacity="0.7"/>
<circle cx="206.70" cy="478.21" r="0.33" fill="#9c9c9c" stroke="none" stroke-width="1" opacity="0.7"/>
<circle cx="172.81" cy="501.68" r="0.48" fill="#9c9c9c" stroke="none" stroke-width="1" opacity="0.7"/>
<circle cx="221.06" cy="423.11" r="0.42" fill="#9c9c9c" stroke="none" stroke-width="1" opacity="0.7"/>
<circle cx="241.67" cy="475.82" r="0.60" fill="#9c9c9c" stroke="none" stroke-width="1" opacity="0.7"/>
<circle cx="173.20" cy="457.30" r="0.54" fill="#9c9c9c" stroke="none" stroke-width="1" opacity="0.7"/>
<circle cx="196.99" cy="489.10" r="0.47" fill="#9c9c9c" stroke="none" stroke-width="1" opacity="0.7"/>
<circle cx="165.63" cy="423.41" r="0.59" fill="#9c9c9c" stroke="none" stroke-width="1" opacity="0.7"/>
<circle cx="165.75" cy="432.48" r="0.40" fill="#9c9c9c" stroke="none" stroke-width="1" opacity="0.7"/>
<circle cx="222.79" cy="495.31" r="0.44" fill="#9c9c9c" stroke="none" stroke-width="1" opacity="0.7"/>
<circle cx="202.12" cy="489.06" r="0.38" fill="#9c9c9c" stroke="none" stroke-width="1" opacity="0.7"/>
<circle cx="190.05" cy="472.33" r="0.49" fill="#9c9c9c" stroke="none" stroke-width="1" opacity="0.7"/>
<circle cx="157.96" cy="424.66" r="0.34" fill="#9c9c9c" stroke="none" stroke-width="1" opacity="0.7"/>
<circle cx="223.91" cy="479.97" r="0.59" fill="#9c9c9c" stroke="none" stroke-width="1" opacity="0.7"/>
<circle cx="227.98" cy="438.25" r="0.53" fill="#9c9c9c" stroke="none" stroke-width="1" opacity="0.7"/>
<circle cx="248.86" cy="447.20" r="0.30" fill="#9c9c9c" stroke="none" stroke-width="1" opacity="0.7"/>
<circle cx="190.32" cy="440.90" r="0.35" fill="#9c9c9c" stroke="none" stroke-width="1" opacity="0.7"/>
<circle cx="158.63" cy="425.89" r="0.56" fill="#9c9c9c" stroke="none" stroke-width="1" opacity="0.7"/>
<circle cx="159.10" cy="472.45" r="0.36" fill="#9c9c9c" stroke="none" stroke-width="1" opacity="0.7"/>
<circle cx="172.86" cy="492.13" r="0.39" fill="#9c9c9c" stroke="none" stroke-width="1" opacity="0.7"/>
<circle cx="171.95" cy="457.30" r="0.51" fill="#9c9c9c" stroke="none" stroke-width="1" opacity="0.7"/>
<circle cx="204.64" cy="495.85" r="0.42" fill="#9c9c9c" stroke="none" stroke-width="1" opacity="0.7"/>
<circle cx="204.61" cy="482.27" r="0.44" fill="#9c9c9c" stroke="none" stroke-width="1" opacity="0.7"/>
<circle cx="223.13" cy="458.45" r="0.34" fill="#9c9c9c" stroke="none" stroke-width="1" opacity="0.7"/>
<circle cx="166.15" cy="488.55" r="0.52" fill="#9c9c9c" stroke="none" stroke-width="1" opacity="0.7"/>
<circle cx="244.80" cy="479.70" r="0.47" fill="#9c9c9c" stroke="none" stroke-width="1" opacity="0.7"/>
<circle cx="170.25" cy="495.22" r="0.34" fill="#9c9c9c" stroke="none" stroke-width="1" opacity="0.7"/>
<circle cx="195.09" cy="427.39" r="0.41" fill="#9c9c9c" stroke="none" stroke-width="1" opacity="0.7"/>
<circle cx="183.79" cy="454.51" r="0.51" fill="#9c9c9c" stroke="none" stroke-width="1" opacity="0.7"/>
<circle cx="206.29" cy="437.11" r="0.53" fill="#9c9c9c" stroke="none" stroke-width="1" opacity="0.7"/>
<circle cx="224.87" cy="492.75" r="0.31" fill="#9c9c9c" stroke="none" stroke-width="1" opacity="0.7"/>
<circle cx="213.31" cy="499.24" r="0.38" fill="#9c9c9c" stroke="none" stroke-width="1" opacity="0.7"/>
<circle cx="173.71" cy="491.48" r="0.41" fill="#9c9c9c" stroke="none" stroke-width="1" opacity="0.7"/>
<circle cx="192.82" cy="491.84" r="0.42" fill="#9c9c9c" stroke="none" stroke-width="1" opacity="0.7"/>
<circle cx="173.35" cy="434.41" r="0.40" fill="#9c9c9c" stroke="none" stroke-width="1" opacity="0.7"/>
<circle cx="221.30" cy="449.06" r="0.53" fill="#9c9c9c" stroke="none" stroke-width="1" opacity="0.7"/>
<circle cx="160.63" cy="437.71" r="0.49" fill="#9c9c9c" stroke="none" stroke-width="1" opacity="0.7"/>
<circle cx="200.33" cy="461.59" r="0.58" fill="#9c9c9c" stroke="none" stroke-width="1" opacity="0.7"/>
<circle cx="180.93" cy="431.29" r="0.31" fill="#9c9c9c" stroke="none" stroke-width="1" opacity="0.7"/>
<circle cx="200.62" cy="442.29" r="0.44" fill="#9c9c9c" stroke="none" stroke-width="1" opacity="0.7"/>
<circle cx="154.84" cy="414.02" r="0.41" fill="#9c9c9c" stroke="none" stroke-width="1" opacity="0.7"/>
<circle cx="227.03" cy="442.60" r="0.57" fill="#9c9c9c" stroke="none" stroke-width="1" opacity="0.7"/>
<circle cx="209.92" cy="452.41" r="0.53" fill="#9c9c9c" stroke="none" stroke-width="1" opacity="0.7"/>
<circle cx="176.69" cy="471.61" r="0.55" fill="#9c9c9c" stroke="none" stroke-width="1" opacity="0.7"/>
<circle cx="206.23" cy="444.44" r="0.33" fill="#9c9c9c" stroke="none" stroke-width="1" opacity="0.7"/>
<circle cx="209.42" cy="431.86" r="0.41" fill="#9c9c9c" stroke="none" stroke-width="1" opacity="0.7"/>
<circle cx="206.37" cy="503.59" r="0.50" fill="#9c9c9c" stroke="none" stroke-width="1" opacity="0.7"/>
<circle cx="204.16" cy="495.72" r="0.39" fill="#9c9c9c" stroke="none" stroke-width="1" opacity="0.7"/>
<circle cx="191.51" cy="478.47" r="0.47" fill="#9c9c9c" stroke="none" stroke-width="1" opacity="0.7"/>
<circle cx="175.58" cy="453.10" r="0.55" fill="#9c9c9c" stroke="none" stroke-width="1" opacity="0.7"/>
<circle cx="177.56" cy="481.19" r="0.31" fill="#9c9c9c" stroke="none" stroke-width="1" opacity="0.7"/>
<circle cx="245.94" cy="479.12" r="0.40" fill="#9c9c9c" stroke="none" stroke-width="1" opacity="0.7"/>
<circle cx="248.69" cy="489.83" r="0.32" fill="#9c9c9c" stroke="none" stroke-width="1" opacity="0.7"/>
<circle cx="178.14" cy="460.81" r="0.60" fill="#9c9c9c" stroke="none" stroke-width="1" opacity="0.7"/>
<circle cx="167.81" cy="418.54" r="0.39" fill="#9c9c9c" stroke="none" stroke-width="1" opacity="0.7"/>
<circle cx="158.60" cy="452.93" r="0.46" fill="#9c9c9c" stroke="none" stroke-width="1" opacity="0.7"/>
<circle cx="196.58" cy="427.46" r="0.31" fill="#9c9c9c" stroke="none" stroke-width="1" opacity="0.7"/>
<circle cx="231.37" cy="455.89" r="0.44" fill="#9c9c9c" stroke="none" stroke-width="1" opacity="0.7"/>
<circle cx="200.19" cy="479.27" r="0.57" fill="#9c9c9c" stroke="none" stroke-width="1" opacity="0.7"/>
<circle cx="233.70" cy="483.23" r="0.40" fill="#9c9c9c" stroke="none" stroke-width="1" opacity="0.7"/>
<circle cx="170.50" cy="422.55" r="0.56" fill="#9c9c9c" stroke="none" stroke-width="1" opacity="0.7"/>
<circle cx="159.76" cy="468.19" r="0.57" fill="#9c9c9c" stroke="none" stroke-width="1" opacity="0.7"/>
<circle cx="185.24" cy="451.05" r="0.43" fill="#9c9c9c" stroke="none" stroke-width="1" opacity="0.7"/>
<circle cx="244.97" cy="479.13" r="0.55" fill="#9c9c9c" stroke="none" stroke-width="1" opacity="0.7"/>
<circle cx="158.03" cy="483.53" r="0.44" fill="#9c9c9c" stroke="none" stroke-width="1" opacity="0.7"/>
<circle cx="192.84" cy="491.74" r="0.52" fill="#9c9c9c" stroke="none" stroke-width="1" opacity="0.7"/>
<circle cx="241.70" cy="484.31" r="0.57" fill="#9c9c9c" stroke="none" stroke-width="1" opacity="0.7"/>
<circle cx="195.40" cy="466.94" r="0.54" fill="#9c9c9c" stroke="none" stroke-width="1" opacity="0.7"/>
<circle cx="197.84" cy="427.07" r="0.48" fill="#9c9c9c" stroke="none" stroke-width="1" opacity="0.7"/>
<circle cx="237.94" cy="496.88" r="0.34" fill="#9c9c9c" stroke="none" stroke-width="1" opacity="0.7"/>
<circle cx="190.88" cy="435.76" r="0.40" fill="#9c9c9c" stroke="none" stroke-width="1" opacity="0.7"/>
<circle cx="246.41" cy="454.09" r="0.39" fill="#9c9c9c" stroke="none" stroke-width="1" opacity="0.7"/>
<circle cx="180.47" cy="455.92" r="0.50" fill="#9c9c9c" stroke="none" stroke-width="1" opacity="0.7"/>
<circle cx="187.19" cy="431.73" r="0.37" fill="#9c9c9c" stroke="none" stroke-width="1" opacity="0.7"/>
<circle cx="179.25" cy="500.27" r="0.35" fill="#9c9c9c" stroke="none" stroke-width="1" opacity="0.7"/>
<circle cx="226.69" cy="424.30" r="0.54" fill="#9c9c9c" stroke="none" stroke-width="1" opacity="0.7"/>
<circle cx="179.83" cy="488.22" r="0.43" fill="#9c9c9c" stroke="none" stroke-width="1" opacity="0.7"/>
<circle cx="161.81" cy="423.00" r="0.54" fill="#9c9c9c" stroke="none" stroke-width="1" opacity="0.7"/>
<circle cx="206.33" cy="460.27" r="0.41" fill="#9c9c9c" stroke="none" stroke-width="1" opacity="0.7"/>
<circle cx="220.67" cy="459.92" r="0.32" fill="#9c9c9c" stroke="none" stroke-width="1" opacity="0.7"/>
<circle cx="211.99" cy="443.86" r="0.55" fill="#9c9c9c" stroke="none" stroke-width="1" opacity="0.7"/>
<circle cx="207.01" cy="487.67" r="0.34" fill="#9c9c9c" stroke="none" stroke-width="1" opacity="0.7"/>
<circle cx="222.18" cy="472.12" r="0.56" fill="#9c9c9c" stroke="none" stroke-width="1" opacity="0.7"/>
<circle cx="239.18" cy="466.50" r="0.48" fill="#9c9c9c" stroke="none" stroke-width="1" opacity="0.7"/>
<circle cx="227.94" cy="439.11" r="0.46" fill="#9c9c9c" stroke="none" stroke-width="1" opacity="0.7"/>
<circle cx="229.84" cy="470.59" r="0.46" fill="#9c9c9c" stroke="none" stroke-width="1" opacity="0.7"/>
<circle cx="236.46" cy="506.85" r="0.38" fill="#9c9c9c" stroke="none" stroke-width="1" opacity="0.7"/>
<circle cx="161.48" cy="472.40" r="0.34" fill="#9c9c9c" stroke="none" stroke-width="1" opacity="0.7"/>
<circle cx="247.39" cy="459.18" r="0.46" fill="#9c9c9c" stroke="none" stroke-width="1" opacity="0.7"/>
<circle cx="232.77" cy="496.80" r="0.34" fill="#9c9c9c" stroke="none" stroke-width="1" opacity="0.7"/>
<circle cx="197.82" cy="431.18" r="0.44" fill="#9c9c9c" stroke="none" stroke-width="1" opacity="0.7"/>
<circle cx="167.09" cy="497.49" r="0.41" fill="#9c9c9c" stroke="none" stroke-width="1" opacity="0.7"/>
<circle cx="191.67" cy="499.44" r="0.55" fill="#9c9c9c" stroke="none" stroke-width="1" opacity="0.7"/>
<circle cx="186.56" cy="461.60" r="0.50" fill="#9c9c9c" stroke="none" stroke-width="1" opacity="0.7"/>
<circle cx="172.33" cy="426.97" r="0.56" fill="#9c9c9c" stroke="none" stroke-width="1" opacity="0.7"/>
<circle cx="169.86" cy="481.38" r="0.52" fill="#9c9c9c" stroke="none" stroke-width="1" opacity="0.7"/>
<circle cx="211.09" cy="446.92" r="0.56" fill="#9c9c9c" stroke="none" stroke-width="1" opacity="0.7"/>
<circle cx="229.81" cy="420.77" r="0.57" fill="#9c9c9c" stroke="none" stroke-width="1" opacity="0.7"/>
<circle cx="215.42" cy="441.55" r="0.35" fill="#9c9c9c" stroke="none" stroke-width="1" opacity="0.7"/>
<circle cx="163.71" cy="491.24" r="0.55" fill="#9c9c9c" stroke="none" stroke-width="1" opacity="0.7"/>
<circle cx="187.69" cy="431.13" r="0.32" fill="#9c9c9c" stroke="none" stroke-width="1" opacity="0.7"/>
<circle cx="194.04" cy="442.35" r="0.32" fill="#9c9c9c" stroke="none" stroke-width="1" opacity="0.7"/>
<circle cx="182.88" cy="492.18" r="0.32" fill="#9c9c9c" stroke="none" stroke-width="1" opacity="0.7"/>
<circle cx="193.08" cy="462.96" r="0.35" fill="#9c9c9c" stroke="none" stroke-width="1" opacity="0.7"/>
<circle cx="157.80" cy="421.07" r="0.34" fill="#9c9c9c" stroke="none" stroke-width="1" opacity="0.7"/>
<circle cx="247.85" cy="496.05" r="0.51" fill="#9c9c9c" stroke="none" stroke-width="1" opacity="0.7"/>
<circle cx="240.66" cy="444.98" r="0.37" fill="#9c9c9c" stroke="none" stroke-width="1" opacity="0.7"/>
<circle cx="237.81" cy="471.72" r="0.58" fill="#9c9c9c" stroke="none" stroke-width="1" opacity="0.7"/>
<circle cx="188.77" cy="453.32" r="0.52" fill="#9c9c9c" stroke="none" stroke-width="1" opacity="0.7"/>
<circle cx="239.01" cy="429.77" r="0.38" fill="#9c9c9c" stroke="none" stroke-width="1" opacity="0.7"/>
<circle cx="155.61" cy="467.27" r="0.58" fill="#9c9c9c" stroke="none" stroke-width="1" opacity="0.7"/>
<circle cx="208.81" cy="428.15" r="0.51" fill="#9c9c9c" stroke="none" stroke-width="1" opacity="0.7"/>
<circle cx="216.69" cy="424.02" r="0.57" fill="#9c9c9c" stroke="none" stroke-width="1" opacity="0.7"/>
<circle cx="217.66" cy="460.71" r="0.40" fill="#9c9c9c" stroke="none" stroke-width="1" opacity="0.7"/>
<circle cx="169.71" cy="458.53" r="0.41" fill="#9c9c9c" stroke="none" stroke-width="1" opacity="0.7"/>
<circle cx="176.66" cy="475.54" r="0.50" fill="#9c9c9c" stroke="none" stroke-width="1" opacity="0.7"/>
<circle cx="245.92" cy="506.20" r="0.44" fill="#9c9c9c" stroke="none" stroke-width="1" opacity="0.7"/>
<circle cx="223.05" cy="449.71" r="0.43" fill="#9c9c9c" stroke="none" stroke-width="1" opacity="0.7"/>
<circle cx="208.73" cy="507.42" r="0.31" fill="#9c9c9c" stroke="none" stroke-width="1" opacity="0.7"/>
<circle cx="198.75" cy="446.03" r="0.54" fill="#9c9c9c" stroke="none" stroke-width="1" opacity="0.7"/>
<circle cx="245.55" cy="458.94" r="0.32" fill="#9c9c9c" stroke="none" stroke-width="1" opacity="0.7"/>
<circle cx="211.36" cy="469.93" r="0.50" fill="#9c9c9c" stroke="none" stroke-width="1" opacity="0.7"/>
<circle cx="228.85" cy="458.11" r="0.46" fill="#9c9c9c" stroke="none" stroke-width="1" opacity="0.7"/>
<circle cx="227.97" cy="416.61" r="0.37" fill="#9c9c9c" stroke="none" stroke-width="1" opacity="0.7"/>
<circle cx="220.31" cy="507.07" r="0.58" fill="#9c9c9c" stroke="none" stroke-width="1" opacity="0.7"/>
<circle cx="181.35" cy="506.55" r="0.38" fill="#9c9c9c" stroke="none" stroke-width="1" opacity="0.7"/>
<circle cx="197.77" cy="429.12" r="0.48" fill="#9c9c9c" stroke="none" stroke-width="1" opacity="0.7"/>
<circle cx="191.91" cy="479.22" r="0.59" fill="#9c9c9c" stroke="none" stroke-width="1" opacity="0.7"/>
<circle cx="166.57" cy="476.58" r="0.48" fill="#9c9c9c" stroke="none" stroke-width="1" opacity="0.7"/>
<circle cx="180.62" cy="417.35" r="0.58" fill="#9c9c9c" stroke="none" stroke-width="1" opacity="0.7"/>
<circle cx="221.03" cy="473.52" r="0.33" fill="#9c9c9c" stroke="none" stroke-width="1" opacity="0.7"/>
<circle cx="240.69" cy="451.99" r="0.44" fill="#9c9c9c" stroke="none" stroke-width="1" opacity="0.7"/>
<rect x="417.20" y="309.30" width="98.00" height="97.00" fill="#727272" stroke="none" stroke-width="1" />
<circle cx="455.02" cy="332.76" r="1.07" fill="#adadad" stroke="none" stroke-width="1" opacity="0.45"/>
<circle cx="505.10" cy="365.05" r="1.90" fill="#adadad" stroke="none" stroke-width="1" opacity="0.45"/>
<circle cx="471.19" cy="346.97" r="1.97" fill="#adadad" stroke="none" stroke-width="1" opacity="0.45"/>
<circle cx="473.38" cy="383.95" r="1.86" fill="#adadad" stroke="none" stroke-width="1" opacity="0.45"/>
<circle cx="498.09" cy="352.16" r="1.05" fill="#adadad" stroke="none" stroke-width="1" opacity="0.45"/>
<circle cx="433.28" cy="378.55" r="1.07" fill="#adadad" stroke="none" stroke-width="1" opacity="0.45"/>
<circle cx="480.74" cy="369.03" r="0.90" fill="#adadad" stroke="none" stroke-width="1" opacity="0.45"/>
<circle cx="492.93" cy="314.37" r="2.19" fill="#adadad" stroke="none" stroke-width="1" opacity="0.45"/>
<circle cx="498.26" cy="331.38" r="1.96" fill="#adadad" stroke="none" stroke-width="1" opacity="0.45"/>
<circle cx="488.04" cy="322.93" r="1.87" fill="#adadad" stroke="none" stroke-width="1" opacity="0.45"/>
<circle cx="430.83" cy="396.23" r="1.90" fill="#adadad" stroke="none" stroke-width="1" opacity="0.45"/>
<circle cx="511.32" cy="316.28" r="1.31" fill="#adadad" stroke="none" stroke-width="1" opacity="0.45"/>
<circle cx="477.47" cy="367.86" r="1.09" fill="#adadad" stroke="none" stroke-width="1" opacity="0.45"/>
<circle cx="502.65" cy="390.03" r="1.28" fill="#adadad" stroke="none" stroke-width="1" opacity="0.45"/>
<circle cx="432.92" cy="373.39" r="1.45" fill="#adadad" stroke="none" stroke-width="1" opacity="0.45"/>
<circle cx="481.55" cy="357.17" r="1.43" fill="#adadad" stroke="none" stroke-width="1" opacity="0.45"/>
<circle cx="421.24" cy="323.85" r="1.53" fill="#adadad" stroke="none" stroke-width="1" opacity="0.45"/>
<circle cx="487.65" cy="350.89" r="1.99" fill="#adadad" stroke="none" stroke-width="1" opacity="0.45"/>
<circle cx="469.94" cy="393.17" r="1.85" fill="#adadad" stroke="none" stroke-width="1" opacity="0.45"/>
<circle cx="449.46" cy="324.21" r="0.91" fill="#adadad" stroke="none" stroke-width="1" opacity="0.45"/>
<circle cx="422.92" cy="391.51" r="2.20" fill="#adadad" stroke="none" stroke-width="1" opacity="0.45"/>
<circle cx="489.83" cy="321.47" r="1.86" fill="#adadad" stroke="none" stroke-width="1" opacity="0.45"/>
<circle cx="431.20" cy="393.98" r="1.85" fill="#adadad" stroke="none" stroke-width="1" opacity="0.45"/>
<circle cx="489.66" cy="367.94" r="1.47" fill="#adadad" stroke="none" stroke-width="1" opacity="0.45"/>
<circle cx="498.95" cy="400.74" r="1.19" fill="#adadad" stroke="none" stroke-width="1" opacity="0.45"/>
<circle cx="460.31" cy="379.51" r="1.89" fill="#adadad" stroke="none" stroke-width="1" opacity="0.45"/>
<circle cx="457.80" cy="353.15" r="2.35" fill="#adadad" stroke="none" stroke-width="1" opacity="0.45"/>
<circle cx="445.14" cy="330.97" r="1.90" fill="#adadad" stroke="none" stroke-width="1" opacity="0.45"/>
<circle cx="445.23" cy="394.76" r="1.32" fill="#adadad" stroke="none" stroke-width="1" opacity="0.45"/>
<circle cx="506.11" cy="346.62" r="2.22" fill="#adadad" stroke="none" stroke-width="1" opacity="0.45"/>
<circle cx="489.81" cy="379.38" r="1.14" fill="#adadad" stroke="none" stroke-width="1" opacity="0.45"/>
<circle cx="434.64" cy="314.19" r="1.09" fill="#adadad" stroke="none" stroke-width="1" opacity="0.45"/>
<circle cx="481.86" cy="317.29" r="1.18" fill="#adadad" stroke="none" stroke-width="1" opacity="0.45"/>
<circle cx="472.50" cy="325.73" r="1.33" fill="#adadad" stroke="none" stroke-width="1" opacity="0.45"/>
<circle cx="440.67" cy="374.18" r="0.99" fill="#adadad" stroke="none" stroke-width="1" opacity="0.45"/>
<circle cx="512.97" cy="366.98" r="1.94" fill="#adadad" stroke="none" stroke-width="1" opacity="0.45"/>
<circle cx="471.14" cy="357.60" r="2.35" fill="#adadad" stroke="none" stroke-width="1" opacity="0.45"/>
<circle cx="503.21" cy="387.74" r="0.85" fill="#adadad" stroke="none" stroke-width="1" opacity="0.45"/>
<circle cx="474.61" cy="398.88" r="1.82" fill="#adadad" stroke="none" stroke-width="1" opacity="0.45"/>
<circle cx="467.42" cy="371.72" r="1.08" fill="#adadad" stroke="none" stroke-width="1" opacity="0.45"/>
<circle cx="487.60" cy="384.18" r="0.91" fill="#adadad" stroke="none" stroke-width="1" opacity="0.45"/>
<circle cx="467.12" cy="366.66" r="1.36" fill="#adadad" stroke="none" stroke-width="1" opacity="0.45"/>
<circle cx="483.28" cy="397.04" r="2.25" fill="#adadad" stroke="none" stroke-width="1" opacity="0.45"/>
<circle cx="448.13" cy="325.41" r="2.17" fill="#adadad" stroke="none" stroke-width="1" opacity="0.45"/>
<circle cx="476.72" cy="388.45" r="2.19" fill="#adadad" stroke="none" stroke-width="1" opacity="0.45"/>
<circle cx="445.47" cy="365.93" r="1.29" fill="#adadad" stroke="none" stroke-width="1" opacity="0.45"/>
<circle cx="494.16" cy="375.62" r="1.18" fill="#adadad" stroke="none" stroke-width="1" opacity="0.45"/>
<circle cx="466.21" cy="366.56" r="1.17" fill="#adadad" stroke="none" stroke-width="1" opacity="0.45"/>
<circle cx="436.35" cy="355.40" r="0.92" fill="#adadad" stroke="none" stroke-width="1" opacity="0.45"/>
<circle cx="465.75" cy="398.72" r="2.12" fill="#adadad" stroke="none" stroke-width="1" opacity="0.45"/>
<circle cx="424.31" cy="388.09" r="1.95" fill="#adadad" stroke="none" stroke-width="1" opacity="0.45"/>
<circle cx="485.77" cy="313.79" r="2.02" fill="#adadad" stroke="none" stroke-width="1" opacity="0.45"/>
<circle cx="437.57" cy="385.98" r="1.32" fill="#adadad" stroke="none" stroke-width="1" opacity="0.45"/>
<circle cx="453.66" cy="327.32" r="2.19" fill="#adadad" stroke="none" stroke-width="1" opacity="0.45"/>
<circle cx="440.05" cy="392.47" r="1.62" fill="#adadad" stroke="none" stroke-width="1" opacity="0.45"/>
<circle cx="433.16" cy="372.23" r="1.65" fill="#adadad" stroke="none" stroke-width="1" opacity="0.45"/>
<circle cx="421.74" cy="387.89" r="1.23" fill="#adadad" stroke="none" stroke-width="1" opacity="0.45"/>
<circle cx="421.44" cy="382.57" r="1.96" fill="#adadad" stroke="none" stroke-width="1" opacity="0.45"/>
<circle cx="455.46" cy="328.62" r="1.64" fill="#adadad" stroke="none" stroke-width="1" opacity="0.45"/>
<circle cx="474.32" cy="375.42" r="1.58" fill="#adadad" stroke="none" stroke-width="1" opacity="0.45"/>
<circle cx="434.26" cy="313.11" r="2.30" fill="#7c7c7c" stroke="#a8a8a8" stroke-width="1.0" />
<circle cx="434.26" cy="313.11" r="1.15" fill="#1c1c1c" stroke="none" stroke-width="1" />
<circle cx="443.38" cy="318.18" r="2.30" fill="#7c7c7c" stroke="#a8a8a8" stroke-width="1.0" />
<circle cx="443.38" cy="318.18" r="1.15" fill="#1c1c1c" stroke="none" stroke-width="1" />
<circle cx="455.54" cy="325.27" r="2.30" fill="#7c7c7c" stroke="#a8a8a8" stroke-width="1.0" />
<circle cx="455.54" cy="325.27" r="1.15" fill="#1c1c1c" stroke="none" stroke-width="1" />
<circle cx="462.64" cy="331.35" r="2.30" fill="#7c7c7c" stroke="#a8a8a8" stroke-width="1.0" />
<circle cx="462.64" cy="331.35" r="1.15" fill="#1c1c1c" stroke="none" stroke-width="1" />
<circle cx="456.56" cy="335.41" r="2.30" fill="#7c7c7c" stroke="#a8a8a8" stroke-width="1.0" />
<circle cx="456.56" cy="335.41" r="1.15" fill="#1c1c1c" stroke="none" stroke-width="1" />
<circle cx="438.31" cy="335.41" r="2.30" fill="#7c7c7c" stroke="#a8a8a8" stroke-width="1.0" />
<circle cx="438.31" cy="335.41" r="1.15" fill="#1c1c1c" stroke="none" stroke-width="1" />
<circle cx="423.11" cy="337.43" r="2.30" fill="#7c7c7c" stroke="#a8a8a8" stroke-width="1.0" />
<circle cx="423.11" cy="337.43" r="1.15" fill="#1c1c1c" stroke="none" stroke-width="1" />
<circle cx="426.15" cy="342.50" r="2.30" fill="#7c7c7c" stroke="#a8a8a8" stroke-width="1.0" />
<circle cx="426.15" cy="342.50" r="1.15" fill="#1c1c1c" stroke="none" stroke-width="1" />
<circle cx="435.27" cy="345.54" r="2.30" fill="#7c7c7c" stroke="#a8a8a8" stroke-width="1.0" />
<circle cx="435.27" cy="345.54" r="1.15" fill="#1c1c1c" stroke="none" stroke-width="1" />
<circle cx="440.34" cy="332.37" r="2.30" fill="#7c7c7c" stroke="#a8a8a8" stroke-width="1.0" />
<circle cx="440.34" cy="332.37" r="1.15" fill="#1c1c1c" stroke="none" stroke-width="1" />
<circle cx="473.79" cy="328.31" r="2.30" fill="#7c7c7c" stroke="#a8a8a8" stroke-width="1.0" />
<circle cx="473.79" cy="328.31" r="1.15" fill="#1c1c1c" stroke="none" stroke-width="1" />
<circle cx="483.92" cy="321.22" r="2.30" fill="#7c7c7c" stroke="#a8a8a8" stroke-width="1.0" />
<circle cx="483.92" cy="321.22" r="1.15" fill="#1c1c1c" stroke="none" stroke-width="1" />
<circle cx="474.80" cy="336.42" r="2.30" fill="#7c7c7c" stroke="#a8a8a8" stroke-width="1.0" />
<circle cx="474.80" cy="336.42" r="1.15" fill="#1c1c1c" stroke="none" stroke-width="1" />
<circle cx="502.17" cy="314.12" r="2.30" fill="#7c7c7c" stroke="#a8a8a8" stroke-width="1.0" />
<circle cx="502.17" cy="314.12" r="1.15" fill="#1c1c1c" stroke="none" stroke-width="1" />
<circle cx="509.26" cy="313.11" r="2.30" fill="#7c7c7c" stroke="#a8a8a8" stroke-width="1.0" />
<circle cx="509.26" cy="313.11" r="1.15" fill="#1c1c1c" stroke="none" stroke-width="1" />
<circle cx="506.22" cy="335.41" r="2.30" fill="#7c7c7c" stroke="#a8a8a8" stroke-width="1.0" />
<circle cx="506.22" cy="335.41" r="1.15" fill="#1c1c1c" stroke="none" stroke-width="1" />
<circle cx="511.29" cy="336.42" r="2.30" fill="#7c7c7c" stroke="#a8a8a8" stroke-width="1.0" />
<circle cx="511.29" cy="336.42" r="1.15" fill="#1c1c1c" stroke="none" stroke-width="1" />
<circle cx="498.11" cy="345.54" r="2.30" fill="#7c7c7c" stroke="#a8a8a8" stroke-width="1.0" />
<circle cx="498.11" cy="345.54" r="1.15" fill="#1c1c1c" stroke="none" stroke-width="1" />
<circle cx="501.15" cy="348.58" r="2.30" fill="#7c7c7c" stroke="#a8a8a8" stroke-width="1.0" />
<circle cx="501.15" cy="348.58" r="1.15" fill="#1c1c1c" stroke="none" stroke-width="1" />
<circle cx="509.26" cy="354.67" r="2.30" fill="#7c7c7c" stroke="#a8a8a8" stroke-width="1.0" />
<circle cx="509.26" cy="354.67" r="1.15" fill="#1c1c1c" stroke="none" stroke-width="1" />
<circle cx="493.05" cy="361.76" r="2.30" fill="#7c7c7c" stroke="#a8a8a8" stroke-width="1.0" />
<circle cx="493.05" cy="361.76" r="1.15" fill="#1c1c1c" stroke="none" stroke-width="1" />
<circle cx="478.86" cy="349.60" r="2.30" fill="#7c7c7c" stroke="#a8a8a8" stroke-width="1.0" />
<circle cx="478.86" cy="349.60" r="1.15" fill="#1c1c1c" stroke="none" stroke-width="1" />
<circle cx="463.65" cy="353.65" r="2.30" fill="#7c7c7c" stroke="#a8a8a8" stroke-width="1.0" />
<circle cx="463.65" cy="353.65" r="1.15" fill="#1c1c1c" stroke="none" stroke-width="1" />
<circle cx="452.50" cy="348.58" r="2.30" fill="#7c7c7c" stroke="#a8a8a8" stroke-width="1.0" />
<circle cx="452.50" cy="348.58" r="1.15" fill="#1c1c1c" stroke="none" stroke-width="1" />
<circle cx="436.29" cy="353.65" r="2.30" fill="#7c7c7c" stroke="#a8a8a8" stroke-width="1.0" />
<circle cx="436.29" cy="353.65" r="1.15" fill="#1c1c1c" stroke="none" stroke-width="1" />
<circle cx="441.35" cy="354.67" r="2.30" fill="#7c7c7c" stroke="#a8a8a8" stroke-width="1.0" />
<circle cx="441.35" cy="354.67" r="1.15" fill="#1c1c1c" stroke="none" stroke-width="1" />
<circle cx="424.12" cy="355.68" r="2.30" fill="#7c7c7c" stroke="#a8a8a8" stroke-width="1.0" />
<circle cx="424.12" cy="355.68" r="1.15" fill="#1c1c1c" stroke="none" stroke-width="1" />
<circle cx="427.16" cy="358.72" r="2.30" fill="#7c7c7c" stroke="#a8a8a8" stroke-width="1.0" />
<circle cx="427.16" cy="358.72" r="1.15" fill="#1c1c1c" stroke="none" stroke-width="1" />
<circle cx="421.08" cy="365.81" r="2.30" fill="#7c7c7c" stroke="#a8a8a8" stroke-width="1.0" />
<circle cx="421.08" cy="365.81" r="1.15" fill="#1c1c1c" stroke="none" stroke-width="1" />
<circle cx="431.22" cy="369.87" r="2.30" fill="#7c7c7c" stroke="#a8a8a8" stroke-width="1.0" />
<circle cx="431.22" cy="369.87" r="1.15" fill="#1c1c1c" stroke="none" stroke-width="1" />
<circle cx="431.22" cy="374.94" r="2.30" fill="#7c7c7c" stroke="#a8a8a8" stroke-width="1.0" />
<circle cx="431.22" cy="374.94" r="1.15" fill="#1c1c1c" stroke="none" stroke-width="1" />
<circle cx="442.37" cy="370.88" r="2.30" fill="#7c7c7c" stroke="#a8a8a8" stroke-width="1.0" />
<circle cx="442.37" cy="370.88" r="1.15" fill="#1c1c1c" stroke="none" stroke-width="1" />
<circle cx="448.45" cy="373.92" r="2.30" fill="#7c7c7c" stroke="#a8a8a8" stroke-width="1.0" />
<circle cx="448.45" cy="373.92" r="1.15" fill="#1c1c1c" stroke="none" stroke-width="1" />
<circle cx="468.72" cy="367.84" r="2.30" fill="#7c7c7c" stroke="#a8a8a8" stroke-width="1.0" />
<circle cx="468.72" cy="367.84" r="1.15" fill="#1c1c1c" stroke="none" stroke-width="1" />
<circle cx="469.73" cy="376.96" r="2.30" fill="#7c7c7c" stroke="#a8a8a8" stroke-width="1.0" />
<circle cx="469.73" cy="376.96" r="1.15" fill="#1c1c1c" stroke="none" stroke-width="1" />
<circle cx="475.81" cy="376.96" r="2.30" fill="#7c7c7c" stroke="#a8a8a8" stroke-width="1.0" />
<circle cx="475.81" cy="376.96" r="1.15" fill="#1c1c1c" stroke="none" stroke-width="1" />
<circle cx="483.92" cy="362.77" r="2.30" fill="#7c7c7c" stroke="#a8a8a8" stroke-width="1.0" />
<circle cx="483.92" cy="362.77" r="1.15" fill="#1c1c1c" stroke="none" stroke-width="1" />
<circle cx="492.03" cy="381.02" r="2.30" fill="#7c7c7c" stroke="#a8a8a8" stroke-width="1.0" />
<circle cx="492.03" cy="381.02" r="1.15" fill="#1c1c1c" stroke="none" stroke-width="1" />
<circle cx="503.18" cy="387.10" r="2.30" fill="#7c7c7c" stroke="#a8a8a8" stroke-width="1.0" />
<circle cx="503.18" cy="387.10" r="1.15" fill="#1c1c1c" stroke="none" stroke-width="1" />
<circle cx="481.90" cy="392.17" r="2.30" fill="#7c7c7c" stroke="#a8a8a8" stroke-width="1.0" />
<circle cx="481.90" cy="392.17" r="1.15" fill="#1c1c1c" stroke="none" stroke-width="1" />
<circle cx="469.73" cy="391.15" r="2.30" fill="#7c7c7c" stroke="#a8a8a8" stroke-width="1.0" />
<circle cx="469.73" cy="391.15" r="1.15" fill="#1c1c1c" stroke="none" stroke-width="1" />
<circle cx="455.54" cy="392.17" r="2.30" fill="#7c7c7c" stroke="#a8a8a8" stroke-width="1.0" />
<circle cx="455.54" cy="392.17" r="1.15" fill="#1c1c1c" stroke="none" stroke-width="1" />
<circle cx="445.41" cy="388.11" r="2.30" fill="#7c7c7c" stroke="#a8a8a8" stroke-width="1.0" />
<circle cx="445.41" cy="388.11" r="1.15" fill="#1c1c1c" stroke="none" stroke-width="1" />
<circle cx="438.31" cy="384.06" r="2.30" fill="#7c7c7c" stroke="#a8a8a8" stroke-width="1.0" />
<circle cx="438.31" cy="384.06" r="1.15" fill="#1c1c1c" stroke="none" stroke-width="1" />
<circle cx="454.53" cy="399.26" r="2.30" fill="#7c7c7c" stroke="#a8a8a8" stroke-width="1.0" />
<circle cx="454.53" cy="399.26" r="1.15" fill="#1c1c1c" stroke="none" stroke-width="1" />
<circle cx="464.67" cy="400.28" r="2.30" fill="#7c7c7c" stroke="#a8a8a8" stroke-width="1.0" />
<circle cx="464.67" cy="400.28" r="1.15" fill="#1c1c1c" stroke="none" stroke-width="1" />
<circle cx="509.26" cy="397.24" r="2.30" fill="#7c7c7c" stroke="#a8a8a8" stroke-width="1.0" />
<circle cx="509.26" cy="397.24" r="1.15" fill="#1c1c1c" stroke="none" stroke-width="1" />
<circle cx="421.08" cy="399.26" r="2.30" fill="#7c7c7c" stroke="#a8a8a8" stroke-width="1.0" />
<circle cx="421.08" cy="399.26" r="1.15" fill="#1c1c1c" stroke="none" stroke-width="1" />
<circle cx="441.35" cy="403.32" r="2.30" fill="#7c7c7c" stroke="#a8a8a8" stroke-width="1.0" />
<circle cx="441.35" cy="403.32" r="1.15" fill="#1c1c1c" stroke="none" stroke-width="1" />
<circle cx="467.71" cy="404.33" r="2.30" fill="#7c7c7c" stroke="#a8a8a8" stroke-width="1.0" />
<circle cx="467.71" cy="404.33" r="1.15" fill="#1c1c1c" stroke="none" stroke-width="1" />
<circle cx="483.92" cy="355.68" r="2.30" fill="#7c7c7c" stroke="#a8a8a8" stroke-width="1.0" />
<circle cx="483.92" cy="355.68" r="1.15" fill="#1c1c1c" stroke="none" stroke-width="1" />
<circle cx="504.20" cy="368.86" r="2.30" fill="#7c7c7c" stroke="#a8a8a8" stroke-width="1.0" />
<circle cx="504.20" cy="368.86" r="1.15" fill="#1c1c1c" stroke="none" stroke-width="1" />
<circle cx="500.14" cy="327.30" r="2.30" fill="#7c7c7c" stroke="#a8a8a8" stroke-width="1.0" />
<circle cx="500.14" cy="327.30" r="1.15" fill="#1c1c1c" stroke="none" stroke-width="1" />
<rect x="417.80" y="414.00" width="97.40" height="96.60" fill="#6c6c6c" stroke="none" stroke-width="1" />
<circle cx="442.03" cy="462.51" r="0.41" fill="#b0b0b0" stroke="none" stroke-width="1" opacity="0.7"/>
<circle cx="497.14" cy="436.89" r="0.69" fill="#b0b0b0" stroke="none" stroke-width="1" opacity="0.7"/>
<circle cx="507.17" cy="452.59" r="0.98" fill="#b0b0b0" stroke="none" stroke-width="1" opacity="0.7"/>
<circle cx="488.58" cy="466.85" r="0.74" fill="#b0b0b0" stroke="none" stroke-width="1" opacity="0.7"/>
<circle cx="474.71" cy="449.08" r="1.00" fill="#b0b0b0" stroke="none" stroke-width="1" opacity="0.7"/>
<circle cx="457.33" cy="508.07" r="0.90" fill="#b0b0b0" stroke="none" stroke-width="1" opacity="0.7"/>
<circle cx="421.50" cy="439.43" r="0.63" fill="#b0b0b0" stroke="none" stroke-width="1" opacity="0.7"/>
<circle cx="496.51" cy="431.80" r="0.73" fill="#b0b0b0" stroke="none" stroke-width="1" opacity="0.7"/>
<circle cx="453.83" cy="489.33" r="0.95" fill="#b0b0b0" stroke="none" stroke-width="1" opacity="0.7"/>
<circle cx="491.51" cy="433.29" r="0.83" fill="#b0b0b0" stroke="none" stroke-width="1" opacity="0.7"/>
<circle cx="460.60" cy="494.20" r="0.63" fill="#b0b0b0" stroke="none" stroke-width="1" opacity="0.7"/>
<circle cx="505.29" cy="508.29" r="0.88" fill="#b0b0b0" stroke="none" stroke-width="1" opacity="0.7"/>
<circle cx="497.61" cy="492.48" r="0.71" fill="#b0b0b0" stroke="none" stroke-width="1" opacity="0.7"/>
<circle cx="435.48" cy="508.29" r="0.62" fill="#b0b0b0" stroke="none" stroke-width="1" opacity="0.7"/>
<circle cx="420.35" cy="456.10" r="0.59" fill="#b0b0b0" stroke="none" stroke-width="1" opacity="0.7"/>
<circle cx="437.96" cy="505.85" r="0.38" fill="#b0b0b0" stroke="none" stroke-width="1" opacity="0.7"/>
<circle cx="505.06" cy="467.01" r="0.43" fill="#b0b0b0" stroke="none" stroke-width="1" opacity="0.7"/>
<circle cx="452.98" cy="457.60" r="0.38" fill="#b0b0b0" stroke="none" stroke-width="1" opacity="0.7"/>
<circle cx="491.59" cy="476.64" r="0.99" fill="#b0b0b0" stroke="none" stroke-width="1" opacity="0.7"/>
<circle cx="497.97" cy="489.35" r="1.00" fill="#b0b0b0" stroke="none" stroke-width="1" opacity="0.7"/>
<circle cx="507.70" cy="475.92" r="0.68" fill="#b0b0b0" stroke="none" stroke-width="1" opacity="0.7"/>
<circle cx="468.76" cy="491.99" r="0.95" fill="#b0b0b0" stroke="none" stroke-width="1" opacity="0.7"/>
<circle cx="498.03" cy="494.38" r="0.32" fill="#b0b0b0" stroke="none" stroke-width="1" opacity="0.7"/>
<circle cx="458.93" cy="423.25" r="0.71" fill="#b0b0b0" stroke="none" stroke-width="1" opacity="0.7"/>
<circle cx="474.14" cy="468.05" r="0.90" fill="#b0b0b0" stroke="none" stroke-width="1" opacity="0.7"/>
<circle cx="440.26" cy="483.95" r="0.71" fill="#b0b0b0" stroke="none" stroke-width="1" opacity="0.7"/>
<circle cx="439.13" cy="507.56" r="0.34" fill="#b0b0b0" stroke="none" stroke-width="1" opacity="0.7"/>
<circle cx="463.15" cy="465.67" r="0.72" fill="#b0b0b0" stroke="none" stroke-width="1" opacity="0.7"/>
<circle cx="512.49" cy="467.17" r="0.92" fill="#b0b0b0" stroke="none" stroke-width="1" opacity="0.7"/>
<circle cx="446.89" cy="460.54" r="0.40" fill="#b0b0b0" stroke="none" stroke-width="1" opacity="0.7"/>
<circle cx="479.83" cy="454.95" r="0.85" fill="#b0b0b0" stroke="none" stroke-width="1" opacity="0.7"/>
<circle cx="429.53" cy="458.92" r="0.97" fill="#b0b0b0" stroke="none" stroke-width="1" opacity="0.7"/>
<circle cx="419.87" cy="477.47" r="0.77" fill="#b0b0b0" stroke="none" stroke-width="1" opacity="0.7"/>
<circle cx="488.05" cy="467.73" r="0.65" fill="#b0b0b0" stroke="none" stroke-width="1" opacity="0.7"/>
<circle cx="510.33" cy="441.80" r="0.79" fill="#b0b0b0" stroke="none" stroke-width="1" opacity="0.7"/>
<circle cx="482.57" cy="483.90" r="0.63" fill="#b0b0b0" stroke="none" stroke-width="1" opacity="0.7"/>
<circle cx="420.40" cy="488.36" r="0.50" fill="#b0b0b0" stroke="none" stroke-width="1" opacity="0.7"/>
<circle cx="493.43" cy="508.38" r="0.84" fill="#b0b0b0" stroke="none" stroke-width="1" opacity="0.7"/>
<circle cx="457.24" cy="496.09" r="0.57" fill="#b0b0b0" stroke="none" stroke-width="1" opacity="0.7"/>
<circle cx="449.33" cy="469.02" r="0.76" fill="#b0b0b0" stroke="none" stroke-width="1" opacity="0.7"/>
<circle cx="484.24" cy="467.28" r="0.59" fill="#b0b0b0" stroke="none" stroke-width="1" opacity="0.7"/>
<circle cx="489.65" cy="445.69" r="0.72" fill="#b0b0b0" stroke="none" stroke-width="1" opacity="0.7"/>
<circle cx="419.32" cy="427.39" r="0.91" fill="#b0b0b0" stroke="none" stroke-width="1" opacity="0.7"/>
<circle cx="439.36" cy="454.04" r="0.34" fill="#b0b0b0" stroke="none" stroke-width="1" opacity="0.7"/>
<circle cx="491.79" cy="446.07" r="0.33" fill="#b0b0b0" stroke="none" stroke-width="1" opacity="0.7"/>
<circle cx="444.93" cy="503.03" r="0.83" fill="#b0b0b0" stroke="none" stroke-width="1" opacity="0.7"/>
<circle cx="419.09" cy="505.21" r="0.35" fill="#b0b0b0" stroke="none" stroke-width="1" opacity="0.7"/>
<circle cx="464.99" cy="465.55" r="0.85" fill="#b0b0b0" stroke="none" stroke-width="1" opacity="0.7"/>
<circle cx="432.29" cy="493.04" r="0.49" fill="#b0b0b0" stroke="none" stroke-width="1" opacity="0.7"/>
<circle cx="489.22" cy="502.68" r="0.71" fill="#b0b0b0" stroke="none" stroke-width="1" opacity="0.7"/>
<circle cx="418.98" cy="478.11" r="0.60" fill="#b0b0b0" stroke="none" stroke-width="1" opacity="0.7"/>
<circle cx="488.49" cy="489.21" r="0.38" fill="#b0b0b0" stroke="none" stroke-width="1" opacity="0.7"/>
<circle cx="472.97" cy="475.87" r="0.95" fill="#b0b0b0" stroke="none" stroke-width="1" opacity="0.7"/>
<circle cx="477.36" cy="473.17" r="0.84" fill="#b0b0b0" stroke="none" stroke-width="1" opacity="0.7"/>
<circle cx="434.05" cy="496.31" r="0.71" fill="#b0b0b0" stroke="none" stroke-width="1" opacity="0.7"/>
<circle cx="479.49" cy="429.63" r="0.67" fill="#b0b0b0" stroke="none" stroke-width="1" opacity="0.7"/>
<circle cx="457.85" cy="434.46" r="0.96" fill="#b0b0b0" stroke="none" stroke-width="1" opacity="0.7"/>
<circle cx="499.53" cy="458.42" r="0.35" fill="#b0b0b0" stroke="none" stroke-width="1" opacity="0.7"/>
<circle cx="512.65" cy="426.13" r="0.65" fill="#b0b0b0" stroke="none" stroke-width="1" opacity="0.7"/>
<circle cx="472.72" cy="495.93" r="0.76" fill="#b0b0b0" stroke="none" stroke-width="1" opacity="0.7"/>
<circle cx="476.39" cy="463.52" r="0.98" fill="#b0b0b0" stroke="none" stroke-width="1" opacity="0.7"/>
<circle cx="497.02" cy="448.70" r="0.86" fill="#b0b0b0" stroke="none" stroke-width="1" opacity="0.7"/>
<circle cx="509.20" cy="460.99" r="0.36" fill="#b0b0b0" stroke="none" stroke-width="1" opacity="0.7"/>
<circle cx="425.20" cy="506.52" r="0.45" fill="#b0b0b0" stroke="none" stroke-width="1" opacity="0.7"/>
<circle cx="495.52" cy="433.27" r="0.46" fill="#b0b0b0" stroke="none" stroke-width="1" opacity="0.7"/>
<circle cx="434.12" cy="492.14" r="0.36" fill="#b0b0b0" stroke="none" stroke-width="1" opacity="0.7"/>
<circle cx="463.80" cy="491.51" r="0.67" fill="#b0b0b0" stroke="none" stroke-width="1" opacity="0.7"/>
<circle cx="419.68" cy="416.57" r="0.88" fill="#b0b0b0" stroke="none" stroke-width="1" opacity="0.7"/>
<circle cx="447.44" cy="422.87" r="0.67" fill="#b0b0b0" stroke="none" stroke-width="1" opacity="0.7"/>
<circle cx="493.62" cy="443.67" r="0.39" fill="#b0b0b0" stroke="none" stroke-width="1" opacity="0.7"/>
<circle cx="436.51" cy="459.86" r="0.85" fill="#b0b0b0" stroke="none" stroke-width="1" opacity="0.7"/>
<circle cx="426.71" cy="486.99" r="0.78" fill="#b0b0b0" stroke="none" stroke-width="1" opacity="0.7"/>
<circle cx="472.02" cy="451.22" r="0.32" fill="#b0b0b0" stroke="none" stroke-width="1" opacity="0.7"/>
<circle cx="466.87" cy="453.94" r="0.78" fill="#b0b0b0" stroke="none" stroke-width="1" opacity="0.7"/>
<circle cx="424.75" cy="430.67" r="0.31" fill="#b0b0b0" stroke="none" stroke-width="1" opacity="0.7"/>
<circle cx="465.23" cy="420.62" r="0.67" fill="#b0b0b0" stroke="none" stroke-width="1" opacity="0.7"/>
<circle cx="460.49" cy="446.29" r="0.43" fill="#b0b0b0" stroke="none" stroke-width="1" opacity="0.7"/>
<circle cx="506.64" cy="460.46" r="0.37" fill="#b0b0b0" stroke="none" stroke-width="1" opacity="0.7"/>
<circle cx="473.92" cy="487.19" r="0.64" fill="#b0b0b0" stroke="none" stroke-width="1" opacity="0.7"/>
<circle cx="503.82" cy="494.32" r="0.78" fill="#b0b0b0" stroke="none" stroke-width="1" opacity="0.7"/>
<circle cx="421.30" cy="453.05" r="0.66" fill="#b0b0b0" stroke="none" stroke-width="1" opacity="0.7"/>
<circle cx="434.95" cy="462.29" r="0.77" fill="#b0b0b0" stroke="none" stroke-width="1" opacity="0.7"/>
<circle cx="490.59" cy="486.85" r="0.82" fill="#b0b0b0" stroke="none" stroke-width="1" opacity="0.7"/>
<circle cx="447.41" cy="472.89" r="0.65" fill="#b0b0b0" stroke="none" stroke-width="1" opacity="0.7"/>
<circle cx="491.15" cy="426.52" r="0.42" fill="#b0b0b0" stroke="none" stroke-width="1" opacity="0.7"/>
<circle cx="487.19" cy="483.49" r="0.46" fill="#b0b0b0" stroke="none" stroke-width="1" opacity="0.7"/>
<circle cx="492.09" cy="488.43" r="0.75" fill="#b0b0b0" stroke="none" stroke-width="1" opacity="0.7"/>
<circle cx="462.83" cy="420.41" r="0.46" fill="#b0b0b0" stroke="none" stroke-width="1" opacity="0.7"/>
<circle cx="491.84" cy="503.15" r="0.42" fill="#b0b0b0" stroke="none" stroke-width="1" opacity="0.7"/>
<circle cx="422.31" cy="448.04" r="0.96" fill="#b0b0b0" stroke="none" stroke-width="1" opacity="0.7"/>
<circle cx="439.44" cy="503.35" r="0.85" fill="#b0b0b0" stroke="none" stroke-width="1" opacity="0.7"/>
<circle cx="498.96" cy="508.74" r="0.77" fill="#b0b0b0" stroke="none" stroke-width="1" opacity="0.7"/>
<circle cx="437.66" cy="456.01" r="0.58" fill="#b0b0b0" stroke="none" stroke-width="1" opacity="0.7"/>
<circle cx="482.23" cy="448.43" r="0.81" fill="#b0b0b0" stroke="none" stroke-width="1" opacity="0.7"/>
<circle cx="421.66" cy="436.05" r="0.46" fill="#b0b0b0" stroke="none" stroke-width="1" opacity="0.7"/>
<circle cx="435.09" cy="485.89" r="0.91" fill="#b0b0b0" stroke="none" stroke-width="1" opacity="0.7"/>
<circle cx="427.83" cy="460.11" r="0.31" fill="#b0b0b0" stroke="none" stroke-width="1" opacity="0.7"/>
<circle cx="442.42" cy="428.68" r="0.78" fill="#b0b0b0" stroke="none" stroke-width="1" opacity="0.7"/>
<circle cx="498.56" cy="494.71" r="0.49" fill="#b0b0b0" stroke="none" stroke-width="1" opacity="0.7"/>
<circle cx="457.88" cy="436.84" r="0.76" fill="#b0b0b0" stroke="none" stroke-width="1" opacity="0.7"/>
<circle cx="440.63" cy="487.51" r="0.63" fill="#b0b0b0" stroke="none" stroke-width="1" opacity="0.7"/>
<circle cx="471.32" cy="497.48" r="0.95" fill="#b0b0b0" stroke="none" stroke-width="1" opacity="0.7"/>
<circle cx="444.36" cy="483.73" r="0.49" fill="#b0b0b0" stroke="none" stroke-width="1" opacity="0.7"/>
<circle cx="419.83" cy="495.49" r="0.43" fill="#b0b0b0" stroke="none" stroke-width="1" opacity="0.7"/>
<circle cx="445.64" cy="482.93" r="0.90" fill="#b0b0b0" stroke="none" stroke-width="1" opacity="0.7"/>
<circle cx="455.87" cy="482.73" r="0.58" fill="#b0b0b0" stroke="none" stroke-width="1" opacity="0.7"/>
<circle cx="420.52" cy="467.34" r="0.42" fill="#b0b0b0" stroke="none" stroke-width="1" opacity="0.7"/>
<circle cx="438.81" cy="453.59" r="0.75" fill="#b0b0b0" stroke="none" stroke-width="1" opacity="0.7"/>
<circle cx="439.78" cy="435.71" r="0.70" fill="#b0b0b0" stroke="none" stroke-width="1" opacity="0.7"/>
<circle cx="444.91" cy="468.04" r="0.77" fill="#b0b0b0" stroke="none" stroke-width="1" opacity="0.7"/>
<circle cx="448.08" cy="499.96" r="0.98" fill="#b0b0b0" stroke="none" stroke-width="1" opacity="0.7"/>
<circle cx="422.55" cy="421.19" r="0.38" fill="#b0b0b0" stroke="none" stroke-width="1" opacity="0.7"/>
<circle cx="465.68" cy="443.47" r="0.81" fill="#b0b0b0" stroke="none" stroke-width="1" opacity="0.7"/>
<circle cx="512.80" cy="457.89" r="0.49" fill="#b0b0b0" stroke="none" stroke-width="1" opacity="0.7"/>
<circle cx="439.85" cy="501.20" r="0.87" fill="#b0b0b0" stroke="none" stroke-width="1" opacity="0.7"/>
<circle cx="502.65" cy="509.57" r="0.62" fill="#b0b0b0" stroke="none" stroke-width="1" opacity="0.7"/>
<circle cx="490.08" cy="446.82" r="0.40" fill="#b0b0b0" stroke="none" stroke-width="1" opacity="0.7"/>
<circle cx="484.90" cy="450.07" r="0.68" fill="#b0b0b0" stroke="none" stroke-width="1" opacity="0.7"/>
<circle cx="472.95" cy="437.94" r="0.32" fill="#b0b0b0" stroke="none" stroke-width="1" opacity="0.7"/>
<circle cx="489.79" cy="486.99" r="0.84" fill="#b0b0b0" stroke="none" stroke-width="1" opacity="0.7"/>
<circle cx="450.01" cy="446.66" r="0.74" fill="#b0b0b0" stroke="none" stroke-width="1" opacity="0.7"/>
<circle cx="454.16" cy="485.54" r="0.66" fill="#b0b0b0" stroke="none" stroke-width="1" opacity="0.7"/>
<circle cx="469.21" cy="495.79" r="0.38" fill="#b0b0b0" stroke="none" stroke-width="1" opacity="0.7"/>
<circle cx="438.86" cy="464.49" r="0.90" fill="#b0b0b0" stroke="none" stroke-width="1" opacity="0.7"/>
<circle cx="506.39" cy="497.96" r="0.44" fill="#b0b0b0" stroke="none" stroke-width="1" opacity="0.7"/>
<circle cx="448.98" cy="438.37" r="0.46" fill="#b0b0b0" stroke="none" stroke-width="1" opacity="0.7"/>
<circle cx="435.81" cy="429.41" r="0.87" fill="#b0b0b0" stroke="none" stroke-width="1" opacity="0.7"/>
<circle cx="468.70" cy="506.93" r="0.74" fill="#b0b0b0" stroke="none" stroke-width="1" opacity="0.7"/>
<circle cx="491.16" cy="503.23" r="0.68" fill="#b0b0b0" stroke="none" stroke-width="1" opacity="0.7"/>
<circle cx="440.78" cy="453.52" r="0.61" fill="#b0b0b0" stroke="none" stroke-width="1" opacity="0.7"/>
<circle cx="434.20" cy="467.26" r="0.84" fill="#b0b0b0" stroke="none" stroke-width="1" opacity="0.7"/>
<circle cx="449.94" cy="417.37" r="0.37" fill="#b0b0b0" stroke="none" stroke-width="1" opacity="0.7"/>
<circle cx="453.60" cy="433.79" r="0.63" fill="#b0b0b0" stroke="none" stroke-width="1" opacity="0.7"/>
<circle cx="511.20" cy="436.98" r="0.55" fill="#b0b0b0" stroke="none" stroke-width="1" opacity="0.7"/>
<circle cx="476.22" cy="430.45" r="0.91" fill="#b0b0b0" stroke="none" stroke-width="1" opacity="0.7"/>
<circle cx="512.51" cy="416.23" r="0.58" fill="#b0b0b0" stroke="none" stroke-width="1" opacity="0.7"/>
<circle cx="495.86" cy="416.79" r="0.69" fill="#b0b0b0" stroke="none" stroke-width="1" opacity="0.7"/>
<circle cx="495.92" cy="505.18" r="0.43" fill="#b0b0b0" stroke="none" stroke-width="1" opacity="0.7"/>
<circle cx="507.22" cy="471.49" r="0.82" fill="#b0b0b0" stroke="none" stroke-width="1" opacity="0.7"/>
<circle cx="440.53" cy="419.62" r="0.64" fill="#b0b0b0" stroke="none" stroke-width="1" opacity="0.7"/>
<circle cx="512.51" cy="439.00" r="0.99" fill="#b0b0b0" stroke="none" stroke-width="1" opacity="0.7"/>
<circle cx="512.56" cy="459.56" r="0.62" fill="#b0b0b0" stroke="none" stroke-width="1" opacity="0.7"/>
<circle cx="508.81" cy="417.40" r="0.71" fill="#b0b0b0" stroke="none" stroke-width="1" opacity="0.7"/>
<circle cx="435.23" cy="485.36" r="0.64" fill="#b0b0b0" stroke="none" stroke-width="1" opacity="0.7"/>
<circle cx="477.51" cy="451.77" r="0.91" fill="#b0b0b0" stroke="none" stroke-width="1" opacity="0.7"/>
<circle cx="497.57" cy="417.39" r="0.70" fill="#b0b0b0" stroke="none" stroke-width="1" opacity="0.7"/>
<circle cx="439.43" cy="503.14" r="0.94" fill="#b0b0b0" stroke="none" stroke-width="1" opacity="0.7"/>
<circle cx="494.31" cy="478.36" r="0.93" fill="#b0b0b0" stroke="none" stroke-width="1" opacity="0.7"/>
<circle cx="442.44" cy="442.76" r="0.94" fill="#b0b0b0" stroke="none" stroke-width="1" opacity="0.7"/>
<circle cx="480.99" cy="442.61" r="0.89" fill="#b0b0b0" stroke="none" stroke-width="1" opacity="0.7"/>
<circle cx="432.26" cy="418.03" r="1.60" fill="#a4a4a4" stroke="none" stroke-width="1" opacity="0.55"/>
<circle cx="451.49" cy="426.44" r="1.80" fill="#a4a4a4" stroke="none" stroke-width="1" opacity="0.55"/>
<circle cx="464.71" cy="424.04" r="2.20" fill="#a4a4a4" stroke="none" stroke-width="1" opacity="0.55"/>
<circle cx="467.12" cy="430.05" r="2.00" fill="#a4a4a4" stroke="none" stroke-width="1" opacity="0.55"/>
<circle cx="486.35" cy="444.47" r="2.40" fill="#a4a4a4" stroke="none" stroke-width="1" opacity="0.55"/>
<circle cx="489.95" cy="450.48" r="2.00" fill="#a4a4a4" stroke="none" stroke-width="1" opacity="0.55"/>
<circle cx="493.56" cy="452.88" r="1.80" fill="#a4a4a4" stroke="none" stroke-width="1" opacity="0.55"/>
<circle cx="474.33" cy="464.90" r="2.40" fill="#a4a4a4" stroke="none" stroke-width="1" opacity="0.55"/>
<circle cx="483.94" cy="467.31" r="2.20" fill="#a4a4a4" stroke="none" stroke-width="1" opacity="0.55"/>
<circle cx="505.58" cy="474.52" r="1.60" fill="#a4a4a4" stroke="none" stroke-width="1" opacity="0.55"/>
<circle cx="425.05" cy="479.33" r="1.60" fill="#a4a4a4" stroke="none" stroke-width="1" opacity="0.55"/>
<circle cx="458.70" cy="484.13" r="1.80" fill="#a4a4a4" stroke="none" stroke-width="1" opacity="0.55"/>
<circle cx="450.29" cy="491.35" r="1.50" fill="#a4a4a4" stroke="none" stroke-width="1" opacity="0.55"/>
<circle cx="507.98" cy="488.94" r="1.50" fill="#a4a4a4" stroke="none" stroke-width="1" opacity="0.55"/>
<circle cx="467.12" cy="503.37" r="2.00" fill="#a4a4a4" stroke="none" stroke-width="1" opacity="0.55"/>
<circle cx="438.27" cy="496.15" r="1.50" fill="#a4a4a4" stroke="none" stroke-width="1" opacity="0.55"/>
<circle cx="421.44" cy="443.27" r="1.50" fill="#a4a4a4" stroke="none" stroke-width="1" opacity="0.55"/>
<circle cx="428.65" cy="457.69" r="1.40" fill="#a4a4a4" stroke="none" stroke-width="1" opacity="0.55"/>
<circle cx="455.10" cy="460.10" r="2.00" fill="#a4a4a4" stroke="none" stroke-width="1" opacity="0.55"/>
<circle cx="474.33" cy="451.68" r="1.80" fill="#a4a4a4" stroke="none" stroke-width="1" opacity="0.55"/>
<circle cx="495.96" cy="431.25" r="1.50" fill="#a4a4a4" stroke="none" stroke-width="1" opacity="0.55"/>
<circle cx="510.38" cy="419.23" r="1.60" fill="#a4a4a4" stroke="none" stroke-width="1" opacity="0.55"/>
<circle cx="443.08" cy="472.12" r="1.50" fill="#a4a4a4" stroke="none" stroke-width="1" opacity="0.55"/>
<circle cx="481.54" cy="479.33" r="1.70" fill="#a4a4a4" stroke="none" stroke-width="1" opacity="0.55"/>
<text x="155.50" y="401.70" font-size="8" text-anchor="start" fill="#ffffff"  opacity="0.92">500 nm</text>
<rect x="158.00" y="403.20" width="8.00" height="1.50" fill="#ffffff" stroke="none" stroke-width="1" />
<text x="155.50" y="505.60" font-size="8" text-anchor="start" fill="#ffffff"  opacity="0.92">500 nm</text>
<rect x="157.20" y="506.90" width="8.20" height="1.50" fill="#ffffff" stroke="none" stroke-width="1" />
<text x="420.20" y="401.70" font-size="8" text-anchor="start" fill="#ffffff"  opacity="0.92">500 nm</text>
<rect x="422.20" y="403.10" width="7.70" height="1.50" fill="#ffffff" stroke="none" stroke-width="1" />
<text x="420.70" y="505.60" font-size="8" text-anchor="start" fill="#ffffff"  opacity="0.92">500 nm</text>
<rect x="422.50" y="506.90" width="7.80" height="1.50" fill="#ffffff" stroke="none" stroke-width="1" />
</svg></body></html>
